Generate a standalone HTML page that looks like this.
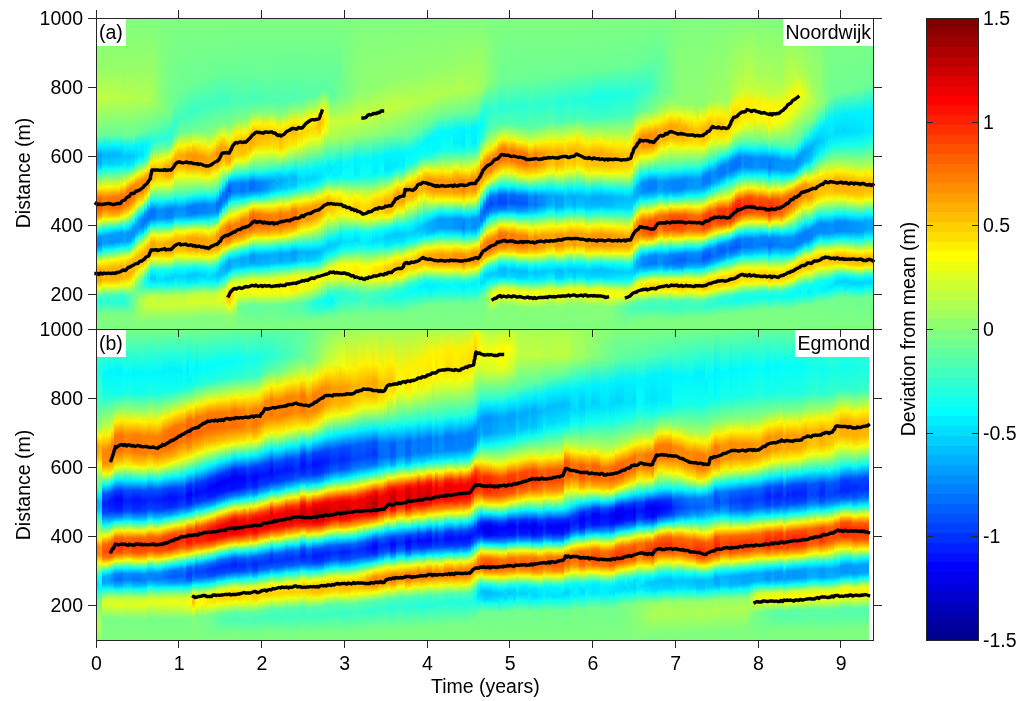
<!DOCTYPE html><html><head><meta charset="utf-8"><style>
*{margin:0;padding:0}
html,body{width:1024px;height:701px;overflow:hidden;background:#fff}
body{position:relative;font-family:"Liberation Sans",Arial,sans-serif;font-size:19.5px;color:#000}
.hm{position:absolute;display:flex}
.hm i{display:block;height:100%;flex:none}
.t{position:absolute;white-space:nowrap;line-height:1}
.yl{text-align:right;width:60px}
.xl{text-align:center;width:40px}
.box{position:absolute;background:#fff}
svg{position:absolute;left:0;top:0}
</style></head><body>
<div class="hm" style="left:96px;top:18px;width:778px;height:311px"><i style="width:3px;background:linear-gradient(#80ff7f 0px,#95ff6a 51px,#c5ff3a 80px,#6fff90 117px,#00f2ff 128px,#009eff 137px,#00aeff 146px,#07fff8 153px,#fff400 170px,#ff6b00 180px,#ff5600 190px,#ff9a00 198px,#f0ff0f 204px,#07fff8 213px,#008cff 220px,#0083ff 227px,#00d2ff 233px,#03fffc 235px,#f3ff0c 244px,#ffa400 252px,#ffa800 263px,#f7ff08 270px,#49ffb6 278px,#1fffe0 284px,#7dff82 298px,#80ff7f 311px)"></i><i style="width:3px;background:linear-gradient(#80ff7f 0px,#95ff6a 51px,#c4ff3b 80px,#69ff96 118px,#00f3ff 128px,#00a1ff 137px,#00b1ff 146px,#09fff6 153px,#fff400 170px,#ff6b00 180px,#ff5600 190px,#ff9b00 198px,#fffb00 203px,#00fdff 213px,#0091ff 219px,#0081ff 226px,#00c6ff 232px,#0dfff2 235px,#faff05 244px,#ffa300 252px,#ffa900 263px,#f6ff09 270px,#48ffb7 278px,#1effe1 284px,#7dff82 298px,#80ff7f 311px)"></i><i style="width:3px;background:linear-gradient(#80ff7f 0px,#96ff69 51px,#bdff42 80px,#68ff97 117px,#00efff 128px,#00b5ff 137px,#00d2ff 146px,#0efff1 151px,#fffa00 169px,#ff8100 179px,#ff7500 190px,#ffc600 198px,#fffd00 201px,#00f8ff 212px,#009fff 218px,#00a1ff 226px,#00fbff 232px,#fbff04 243px,#ffb500 251px,#ffbf00 262px,#f5ff0a 268px,#47ffb8 277px,#29ffd6 284px,#7cff83 296px,#80ff7f 311px)"></i><i style="width:3px;background:linear-gradient(#80ff7f 0px,#97ff68 51px,#bcff43 80px,#68ff97 117px,#00f0ff 128px,#00b7ff 137px,#00d5ff 146px,#10ffef 151px,#fffa00 169px,#ff7b00 180px,#ff7a00 191px,#ffd900 199px,#fdff02 201px,#07fff8 211px,#009dff 218px,#00a4ff 226px,#05fffa 232px,#fffe00 243px,#ffb400 251px,#ffc000 262px,#f4ff0b 268px,#45ffba 277px,#29ffd6 284px,#7cff83 296px,#80ff7f 311px)"></i><i style="width:3px;background:linear-gradient(#80ff7f 0px,#95ff6a 50px,#bdff42 80px,#68ff97 117px,#00efff 128px,#00b4ff 137px,#00d1ff 146px,#0dfff2 151px,#fff900 169px,#ff7400 180px,#ff7100 191px,#ffc100 198px,#fffd00 201px,#00feff 211px,#009cff 217px,#0097ff 225px,#06fff9 232px,#f4ff0b 242px,#ffae00 251px,#ffba00 262px,#faff05 268px,#45ffba 277px,#25ffda 284px,#7cff83 296px,#80ff7f 311px)"></i><i style="width:3px;background:linear-gradient(#80ff7f 0px,#96ff69 50px,#bdff42 79px,#67ff98 117px,#00f9ff 127px,#00b4ff 136px,#00d0ff 146px,#0dfff2 151px,#fff700 169px,#ff7600 179px,#ff6800 190px,#ffae00 197px,#ffff00 201px,#00f3ff 211px,#0095ff 217px,#0096ff 225px,#0efff1 232px,#fbff04 242px,#ffad00 250px,#ffb700 262px,#faff05 268px,#43ffbc 277px,#23ffdc 284px,#7cff83 296px,#80ff7f 311px)"></i><i style="width:3px;background:linear-gradient(#80ff7f 0px,#96ff69 50px,#bcff43 79px,#66ff99 117px,#00f8ff 127px,#00b6ff 136px,#00d5ff 146px,#12ffed 151px,#fff400 169px,#ff7500 179px,#ff6900 190px,#ffb300 197px,#f6ff09 201px,#00ffff 210px,#0099ff 216px,#0094ff 224px,#04fffb 231px,#f1ff0e 241px,#ffa900 251px,#ffb900 262px,#f5ff0a 268px,#3fffc0 277px,#23ffdc 284px,#7cff83 296px,#80ff7f 311px)"></i><i style="width:3px;background:linear-gradient(#80ff7f 0px,#97ff68 50px,#bbff44 79px,#66ff99 117px,#00f9ff 127px,#00b9ff 136px,#00d8ff 146px,#14ffeb 151px,#fff400 169px,#ff7500 179px,#ff6900 190px,#ffb600 197px,#f1ff0e 201px,#00f6ff 210px,#0096ff 216px,#0097ff 224px,#0ffff0 231px,#f9ff06 241px,#ffab00 250px,#ffb400 261px,#f1ff0e 268px,#3dffc2 277px,#22ffdd 284px,#7cff83 296px,#80ff7f 311px)"></i><i style="width:3px;background:linear-gradient(#80ff7f 0px,#97ff68 50px,#b9ff46 80px,#65ff9a 117px,#00eeff 128px,#00baff 137px,#00dbff 146px,#0cfff3 150px,#fff500 167px,#ff7500 177px,#ff6900 188px,#ffb000 195px,#ffff00 199px,#00f6ff 209px,#0096ff 215px,#0095ff 223px,#0afff5 230px,#faff05 240px,#ffad00 248px,#ffb600 260px,#f5ff0a 267px,#32ffcd 277px,#1fffe0 284px,#7cff83 296px,#80ff7f 311px)"></i><i style="width:3px;background:linear-gradient(#80ff7f 0px,#95ff6a 51px,#b4ff4b 82px,#68ff97 118px,#00efff 130px,#00c9ff 140px,#0afff5 150px,#fffc00 166px,#ff8300 176px,#ff7a00 187px,#ffcb00 195px,#feff01 198px,#00ffff 209px,#009eff 216px,#00a8ff 224px,#0afff5 230px,#f2ff0d 240px,#ffb400 250px,#ffca00 261px,#f1ff0e 267px,#30ffcf 278px,#22ffdd 285px,#7cff83 297px,#80ff7f 311px)"></i><i style="width:3px;background:linear-gradient(#80ff7f 0px,#97ff68 51px,#b7ff48 81px,#66ff99 118px,#00f4ff 129px,#00c1ff 138px,#00e5ff 147px,#1bffe4 151px,#fff300 164px,#ff7a00 173px,#ff6900 184px,#ffb400 192px,#f2ff0d 197px,#00f9ff 208px,#0094ff 215px,#009bff 223px,#00fdff 229px,#f8ff07 239px,#ffae00 247px,#ffb600 258px,#f9ff06 266px,#41ffbe 278px,#3cffc3 286px,#7eff81 297px,#80ff7f 311px)"></i><i style="width:3px;background:linear-gradient(#80ff7f 0px,#97ff68 51px,#b6ff49 81px,#66ff99 118px,#00f5ff 129px,#00c4ff 138px,#00e3ff 146px,#1affe5 150px,#fbff04 161px,#ff7e00 170px,#ff6700 180px,#ffb000 189px,#feff01 194px,#00f2ff 207px,#0092ff 214px,#009dff 222px,#04fffb 228px,#ffff00 238px,#ffb000 245px,#ffb500 256px,#f2ff0d 265px,#5dffa2 277px,#58ffa7 286px,#82ff7d 298px,#80ff7f 311px)"></i><i style="width:3px;background:linear-gradient(#80ff7f 0px,#97ff68 51px,#b5ff4a 81px,#66ff99 118px,#00f6ff 129px,#00c8ff 138px,#00ecff 146px,#29ffd6 150px,#fffc00 160px,#ff8500 168px,#ff6f00 178px,#ffb700 187px,#f4ff0b 192px,#05fffa 203px,#0095ff 210px,#0091ff 218px,#00e6ff 224px,#17ffe8 226px,#f6ff09 235px,#ffaf00 243px,#ffbd00 254px,#f7ff08 261px,#6bff94 274px,#6aff95 285px,#84ff7b 298px,#80ff7f 311px)"></i><i style="width:3px;background:linear-gradient(#80ff7f 0px,#98ff67 50px,#b1ff4e 81px,#65ff9a 116px,#00f3ff 128px,#00d6ff 138px,#09fff6 145px,#faff05 157px,#ff9200 165px,#ff8200 176px,#ffd900 185px,#f1ff0e 188px,#00fbff 199px,#0095ff 206px,#0098ff 214px,#0afff5 221px,#f3ff0c 231px,#ffb300 240px,#ffc800 250px,#f3ff0c 256px,#76ff89 267px,#6fff90 277px,#90ff6f 292px,#80ff7f 311px)"></i><i style="width:3px;background:linear-gradient(#80ff7f 0px,#98ff67 50px,#afff50 81px,#63ff9c 115px,#00f8ff 127px,#00e1ff 137px,#0afff5 143px,#c7ff38 153px,#fff900 156px,#ff9200 164px,#ff8e00 175px,#ffe400 183px,#e3ff1c 186px,#00f8ff 196px,#0099ff 202px,#008fff 210px,#00daff 216px,#1effe1 219px,#faff05 229px,#ffb400 238px,#ffd000 248px,#f0ff0f 253px,#63ff9c 264px,#5effa1 271px,#abff54 285px,#80ff7f 308px,#80ff7f 311px)"></i><i style="width:3px;background:linear-gradient(#80ff7f 0px,#97ff68 50px,#b4ff4b 80px,#66ff99 114px,#00f4ff 127px,#00e2ff 137px,#10ffef 143px,#d8ff27 153px,#ffe600 156px,#ff8900 163px,#ff8500 174px,#ffe400 182px,#dbff24 185px,#08fff7 193px,#0086ff 200px,#007aff 208px,#00c9ff 214px,#0ffff0 217px,#f5ff0a 227px,#ffa600 237px,#ffc100 246px,#f9ff06 251px,#4dffb2 262px,#3affc5 269px,#bcff43 283px,#a4ff5b 293px,#80ff7f 308px,#80ff7f 311px)"></i><i style="width:3px;background:linear-gradient(#80ff7f 0px,#98ff67 50px,#b2ff4d 81px,#64ff9b 113px,#00f5ff 127px,#00f8ff 137px,#3cffc3 143px,#fff200 153px,#ff9300 160px,#ff8a00 170px,#ffe000 178px,#e3ff1c 181px,#00fbff 190px,#008aff 196px,#0073ff 204px,#00b7ff 210px,#11ffee 214px,#f3ff0c 224px,#ffa600 234px,#ffc200 243px,#f4ff0b 248px,#33ffcc 259px,#13ffec 266px,#74ff8b 274px,#c9ff36 282px,#b7ff48 291px,#81ff7e 304px,#80ff7f 311px)"></i><i style="width:3px;background:linear-gradient(#80ff7f 0px,#98ff67 50px,#b1ff4e 81px,#62ff9d 112px,#00faff 127px,#12ffed 136px,#89ff76 144px,#fff900 150px,#ff9c00 157px,#ff9500 167px,#faff05 176px,#05fffa 186px,#0080ff 193px,#006fff 201px,#00b8ff 207px,#00faff 210px,#f3ff0c 221px,#ffa500 231px,#ffc100 240px,#f0ff0f 245px,#25ffda 255px,#00f3ff 260px,#09fff6 267px,#c0ff3f 279px,#caff35 288px,#82ff7d 302px,#80ff7f 311px)"></i><i style="width:3px;background:linear-gradient(#80ff7f 0px,#97ff68 50px,#abff54 82px,#60ff9f 111px,#18ffe7 124px,#48ffb7 132px,#fff100 145px,#ffa400 154px,#ffbd00 162px,#f9ff06 168px,#16ffe9 182px,#00d7ff 185px,#0074ff 192px,#0078ff 200px,#00daff 206px,#0ffff0 208px,#f8ff07 217px,#ffa600 225px,#ffae00 235px,#fcff03 241px,#06fff9 252px,#00ccff 260px,#05fffa 267px,#bdff42 278px,#cfff30 287px,#82ff7d 302px,#80ff7f 311px)"></i><i style="width:3px;background:linear-gradient(#80ff7f 0px,#99ff66 53px,#9cff63 88px,#5effa1 110px,#21ffde 123px,#67ff98 132px,#fff500 143px,#ffa700 153px,#ffca00 161px,#ebff14 167px,#26ffd9 181px,#00eaff 184px,#0075ff 192px,#0079ff 200px,#00daff 206px,#2affd5 209px,#f6ff09 217px,#ffa700 225px,#ffad00 235px,#fffe00 241px,#0afff5 252px,#00cdff 261px,#12ffed 268px,#bbff44 278px,#d0ff2f 287px,#81ff7e 303px,#80ff7f 311px)"></i><i style="width:3px;background:linear-gradient(#80ff7f 0px,#95ff6a 87px,#5effa1 109px,#27ffd8 122px,#62ff9d 131px,#fff600 143px,#ffb500 153px,#ffe200 162px,#e2ff1d 167px,#1affe5 182px,#00d2ff 186px,#0086ff 193px,#0099ff 201px,#02fffd 207px,#ffff00 218px,#ffb400 226px,#ffc500 236px,#f6ff09 241px,#07fff8 253px,#00deff 262px,#0bfff4 267px,#b6ff49 278px,#caff35 287px,#81ff7e 303px,#80ff7f 311px)"></i><i style="width:3px;background:linear-gradient(#80ff7f 0px,#8cff73 90px,#50ffaf 110px,#27ffd8 122px,#75ff8a 132px,#fff800 142px,#ffb200 152px,#ffd800 161px,#eeff11 166px,#28ffd7 181px,#00f1ff 184px,#0089ff 192px,#0091ff 200px,#07fff8 207px,#f2ff0d 217px,#ffb000 227px,#ffc500 236px,#f6ff09 241px,#06fff9 253px,#00deff 262px,#0cfff3 267px,#b7ff48 278px,#caff35 287px,#81ff7e 303px,#80ff7f 311px)"></i><i style="width:3px;background:linear-gradient(#80ff7f 0px,#82ff7d 94px,#27ffd8 121px,#70ff8f 131px,#fffa00 141px,#ffb300 150px,#ffc600 159px,#edff12 166px,#24ffdb 181px,#00edff 184px,#0088ff 192px,#0093ff 200px,#0cfff3 207px,#f5ff0a 217px,#ffb200 226px,#ffc500 236px,#f5ff0a 241px,#05fffa 253px,#00deff 262px,#0cfff3 267px,#b8ff47 278px,#caff35 287px,#81ff7e 303px,#80ff7f 311px)"></i><i style="width:3px;background:linear-gradient(#80ff7f 0px,#7aff85 96px,#23ffdc 120px,#5cffa3 129px,#fff900 140px,#ffa700 149px,#ffb200 158px,#f5ff0a 166px,#1fffe0 181px,#00e4ff 184px,#0081ff 191px,#007fff 199px,#00d6ff 205px,#07fff8 207px,#fdff02 217px,#ffaa00 225px,#ffb200 235px,#fdff02 241px,#0efff1 252px,#00d2ff 261px,#14ffeb 268px,#bbff44 278px,#cfff30 287px,#82ff7d 302px,#80ff7f 311px)"></i><i style="width:3px;background:linear-gradient(#80ff7f 0px,#72ff8d 97px,#25ffda 119px,#63ff9c 129px,#fffe00 139px,#ffa600 148px,#ffab00 157px,#f4ff0b 166px,#1bffe4 181px,#00ceff 185px,#0079ff 192px,#0089ff 200px,#0cfff3 207px,#fffe00 217px,#ffa800 225px,#ffb100 235px,#fdff02 241px,#0dfff2 252px,#00d2ff 261px,#04fffb 267px,#bcff43 278px,#d0ff2f 287px,#82ff7d 302px,#80ff7f 311px)"></i><i style="width:3px;background:linear-gradient(#80ff80 0px,#70ff8f 90px,#27ffd8 114px,#52ffad 124px,#fffa00 136px,#ffa000 145px,#ffa800 155px,#f7ff08 164px,#26ffd9 180px,#00edff 183px,#007eff 191px,#0084ff 199px,#00e6ff 205px,#1affe5 207px,#fdff02 216px,#ffa700 224px,#ffae00 234px,#f1ff0e 241px,#03fffc 252px,#00cfff 260px,#04fffb 267px,#bdff42 278px,#d0ff2f 287px,#82ff7d 302px,#80ff7f 311px)"></i><i style="width:3px;background:linear-gradient(#80ff80 0px,#70ff8f 81px,#33ffcc 107px,#5bffa4 118px,#fff400 131px,#ffa700 140px,#ffb800 151px,#f3ff0c 159px,#2effd1 178px,#00e9ff 182px,#0088ff 190px,#009bff 198px,#0bfff4 204px,#f1ff0e 213px,#ffad00 222px,#ffbd00 232px,#f5ff0a 238px,#04fffb 250px,#00d4ff 258px,#0ffff0 266px,#beff41 277px,#cbff34 286px,#82ff7d 301px,#80ff7f 311px)"></i><i style="width:3px;background:linear-gradient(#80ff80 0px,#6eff91 75px,#3dffc2 103px,#6bff94 116px,#fffb00 128px,#ffaa00 137px,#ffb300 148px,#f4ff0b 157px,#7eff81 171px,#1cffe3 180px,#00e9ff 183px,#008cff 191px,#00a7ff 199px,#05fffa 204px,#fffd00 214px,#ffb200 221px,#ffc100 232px,#f4ff0b 238px,#00fdff 251px,#00d5ff 259px,#10ffef 267px,#bdff42 278px,#cbff34 287px,#82ff7d 302px,#80ff7f 311px)"></i><i style="width:3px;background:linear-gradient(#7fff80 0px,#6dff92 71px,#41ffbe 100px,#70ff8f 115px,#fff500 128px,#ffa600 138px,#ffb800 149px,#f6ff09 157px,#37ffc8 178px,#00f6ff 182px,#008fff 190px,#009dff 198px,#06fff9 204px,#fffd00 214px,#ffb200 221px,#ffbf00 232px,#f7ff08 238px,#00feff 251px,#00d5ff 259px,#11ffee 267px,#beff41 278px,#cbff34 287px,#82ff7d 302px,#80ff7f 311px)"></i><i style="width:3px;background:linear-gradient(#7fff80 0px,#6cff93 70px,#41ffbe 99px,#6bff94 114px,#fff600 128px,#ffa600 138px,#ffb700 149px,#f8ff07 157px,#34ffcb 178px,#00f2ff 182px,#008eff 190px,#009dff 198px,#08fff7 204px,#fffd00 214px,#ffb200 221px,#ffbd00 232px,#faff05 238px,#00ffff 251px,#00d5ff 259px,#11ffee 267px,#beff41 278px,#cbff34 287px,#81ff7e 302px,#80ff7f 311px)"></i><i style="width:3px;background:linear-gradient(#7fff80 0px,#6eff91 67px,#3bffc4 96px,#68ff97 113px,#fff300 127px,#ff9600 137px,#ffa100 148px,#f2ff0d 158px,#34ffcb 177px,#00edff 181px,#007cff 189px,#0085ff 197px,#0bfff4 204px,#fffe00 213px,#ffa400 220px,#ffa700 231px,#fffe00 238px,#00ffff 250px,#00c9ff 257px,#00e4ff 264px,#10ffef 267px,#bfff40 277px,#d7ff28 285px,#82ff7d 301px,#80ff7f 311px)"></i><i style="width:3px;background:linear-gradient(#7fff80 0px,#6dff92 66px,#3bffc4 95px,#6aff95 113px,#fff400 127px,#ff9600 137px,#ffa000 148px,#f4ff0b 158px,#31ffce 177px,#00e9ff 181px,#007aff 189px,#0085ff 197px,#0cfff3 204px,#fffe00 213px,#ffa400 220px,#ffa500 231px,#f0ff0f 239px,#02fffd 250px,#00caff 257px,#00e4ff 264px,#10ffef 267px,#c0ff3f 277px,#d8ff27 285px,#82ff7d 301px,#80ff7f 311px)"></i><i style="width:3px;background:linear-gradient(#7fff80 0px,#6dff92 64px,#3affc5 93px,#6bff94 112px,#ebff14 124px,#ffc400 130px,#ff8d00 139px,#ffa800 149px,#efff10 158px,#31ffce 176px,#00e9ff 180px,#0077ff 188px,#007eff 196px,#00e6ff 202px,#1effe1 204px,#f8ff07 212px,#ff9e00 220px,#ffa300 231px,#ffff00 238px,#09fff6 249px,#00c7ff 257px,#00ebff 264px,#30ffcf 268px,#bfff40 276px,#daff25 284px,#82ff7d 300px,#80ff7f 311px)"></i><i style="width:3px;background:linear-gradient(#7fff80 0px,#6cff93 63px,#3affc5 92px,#6cff93 112px,#e5ff1a 124px,#ffe200 128px,#ff9300 137px,#ff9d00 148px,#f6ff09 158px,#2effd1 176px,#00e5ff 180px,#0075ff 188px,#007eff 196px,#00e7ff 202px,#1dffe2 204px,#f5ff0a 212px,#ff9f00 220px,#ffa000 231px,#f1ff0e 239px,#00fbff 250px,#00c8ff 257px,#00ebff 264px,#30ffcf 268px,#c0ff3f 276px,#dbff24 284px,#82ff7d 300px,#80ff7f 311px)"></i><i style="width:3px;background:linear-gradient(#7fff80 0px,#6bff94 62px,#3dffc2 91px,#70ff8f 112px,#e0ff1f 124px,#ffde00 129px,#ff9700 139px,#ffb100 150px,#f5ff0a 158px,#28ffd7 176px,#00f1ff 179px,#0081ff 187px,#0083ff 195px,#00dfff 201px,#11ffee 203px,#f5ff0a 212px,#ffa100 221px,#ffae00 232px,#feff01 238px,#00feff 250px,#00cfff 257px,#00f7ff 264px,#c2ff3d 276px,#d6ff29 284px,#83ff7c 299px,#80ff7f 311px)"></i><i style="width:3px;background:linear-gradient(#7fff80 0px,#6dff92 60px,#3dffc2 89px,#71ff8e 112px,#d8ff27 124px,#fff200 128px,#ff9b00 138px,#ffa500 149px,#f1ff0e 159px,#25ffda 176px,#00edff 179px,#007fff 187px,#0083ff 195px,#00e0ff 201px,#11ffee 203px,#f2ff0d 212px,#ffa200 221px,#ffab00 232px,#f0ff0f 239px,#02fffd 250px,#00cfff 258px,#07fff8 265px,#c3ff3c 276px,#d7ff28 284px,#83ff7c 299px,#80ff7f 311px)"></i><i style="width:3px;background:linear-gradient(#7fff80 0px,#6cff93 59px,#3dffc2 88px,#77ff88 113px,#ddff22 125px,#ffe200 130px,#ff9800 140px,#ffae00 151px,#edff12 160px,#22ffdd 176px,#00eaff 179px,#007eff 187px,#0084ff 195px,#00e1ff 201px,#12ffed 203px,#fffe00 213px,#ffa400 221px,#ffa800 232px,#f6ff09 239px,#06fff9 250px,#00d0ff 258px,#08fff7 265px,#c4ff3b 276px,#d7ff28 284px,#83ff7c 299px,#80ff7f 311px)"></i><i style="width:3px;background:linear-gradient(#7fff80 0px,#6bff94 59px,#40ffbf 88px,#84ff7b 116px,#fff500 130px,#ffa400 140px,#ffb600 152px,#f6ff09 160px,#2bffd4 176px,#00f4ff 179px,#0089ff 187px,#008bff 195px,#00dfff 201px,#25ffda 204px,#fffd00 214px,#ffab00 222px,#ffb200 233px,#ffff00 239px,#07fff8 251px,#00dbff 260px,#07fff8 265px,#beff41 276px,#d5ff2a 284px,#82ff7d 300px,#80ff7f 311px)"></i><i style="width:3px;background:linear-gradient(#7fff80 0px,#6aff95 58px,#40ffbf 87px,#82ff7d 114px,#fff600 128px,#ffa400 138px,#ffb500 150px,#f8ff07 158px,#25ffda 176px,#00efff 179px,#0088ff 187px,#008fff 195px,#02fffd 202px,#f1ff0e 212px,#ffa500 222px,#ffb100 232px,#f0ff0f 239px,#0bfff4 250px,#00d7ff 259px,#07fff8 265px,#bfff40 276px,#d5ff2a 284px,#82ff7d 300px,#80ff7f 311px)"></i><i style="width:3px;background:linear-gradient(#7fff80 0px,#6cff93 56px,#40ffbf 86px,#80ff7f 112px,#fff800 126px,#ffa400 136px,#ffb400 148px,#f9ff06 156px,#30ffcf 175px,#00ebff 179px,#0087ff 187px,#0094ff 195px,#00f8ff 201px,#fffb00 212px,#ffa700 220px,#ffb100 231px,#f3ff0c 238px,#01fffe 250px,#00d4ff 258px,#07fff8 265px,#c0ff3f 276px,#d6ff29 284px,#82ff7d 300px,#80ff7f 311px)"></i><i style="width:3px;background:linear-gradient(#7fff80 0px,#6bff94 54px,#3affc5 83px,#74ff8b 108px,#deff21 120px,#ffdd00 125px,#ff8c00 135px,#ffa100 146px,#f7ff08 155px,#31ffce 173px,#00e7ff 177px,#0072ff 185px,#0078ff 193px,#00dfff 199px,#16ffe9 201px,#f5ff0a 209px,#ff9600 217px,#ff9200 228px,#ffe100 235px,#e1ff1e 238px,#00fdff 248px,#00c2ff 255px,#00daff 262px,#1affe5 266px,#c5ff3a 275px,#e1ff1e 283px,#83ff7c 299px,#80ff7f 311px)"></i><i style="width:3px;background:linear-gradient(#7fff80 0px,#6aff95 54px,#3bffc4 83px,#6fff90 105px,#ddff22 117px,#ffdf00 122px,#ff9300 131px,#ff9f00 142px,#f3ff0c 152px,#23ffdc 169px,#00e8ff 172px,#006fff 180px,#006fff 188px,#00ceff 194px,#03fffc 196px,#faff05 205px,#ff8e00 213px,#ff8200 224px,#ffca00 231px,#f9ff06 234px,#07fff8 244px,#00b8ff 251px,#00caff 259px,#03fffc 263px,#d1ff2e 274px,#eaff15 282px,#84ff7b 298px,#80ff7f 311px)"></i><i style="width:3px;background:linear-gradient(#7fff80 0px,#6bff94 54px,#40ffbf 83px,#71ff8e 104px,#ecff13 117px,#ffc200 124px,#ff9d00 134px,#ffcb00 144px,#edff12 150px,#21ffde 165px,#00e6ff 168px,#007cff 175px,#0073ff 183px,#00bfff 189px,#06fff9 192px,#ffff00 202px,#ff9100 210px,#ff8100 221px,#ffc400 228px,#fffd00 231px,#00f9ff 242px,#00b8ff 248px,#00c3ff 256px,#14ffeb 262px,#d1ff2e 273px,#eaff15 282px,#84ff7b 298px,#80ff7f 311px)"></i><i style="width:3px;background:linear-gradient(#7fff80 0px,#6aff95 54px,#3effc1 83px,#74ff8b 106px,#e0ff1f 118px,#ffde00 123px,#ff9600 133px,#ffb000 144px,#faff05 151px,#17ffe8 162px,#00e5ff 164px,#006bff 171px,#005eff 179px,#00a9ff 185px,#06fff9 189px,#fffc00 200px,#ff7c00 209px,#ff6400 219px,#ffa200 226px,#fff700 230px,#0afff5 239px,#00a5ff 246px,#00abff 253px,#00ffff 259px,#fbff04 272px,#ffda00 280px,#efff10 288px,#8fff70 298px,#80ff7f 311px)"></i><i style="width:3px;background:linear-gradient(#7fff80 0px,#6bff94 53px,#3fffc0 82px,#7bff84 108px,#e5ff1a 120px,#ffe700 124px,#ff9b00 134px,#ffac00 144px,#fffb00 150px,#2fffd0 158px,#00f3ff 160px,#0074ff 166px,#0057ff 173px,#008dff 179px,#0afff5 185px,#fffa00 198px,#ff6e00 208px,#ff5a00 218px,#ff9600 224px,#efff10 229px,#00fdff 237px,#00a2ff 243px,#00a3ff 250px,#00feff 256px,#f5ff0a 268px,#ffbc00 276px,#ffd200 284px,#edff12 289px,#92ff6d 298px,#80ff7f 311px)"></i><i style="width:3px;background:linear-gradient(#7fff80 0px,#6aff95 54px,#47ffb8 84px,#7fff80 105px,#fff500 119px,#ffb200 129px,#ffc700 140px,#f7ff08 146px,#32ffcd 156px,#00ebff 159px,#007fff 166px,#007aff 174px,#00d5ff 181px,#13ffec 184px,#fcff03 197px,#ff7e00 208px,#ff7900 218px,#ffd100 225px,#ffff00 227px,#0bfff4 236px,#00b1ff 243px,#00c6ff 250px,#08fff7 254px,#e8ff17 265px,#ffe100 270px,#ffd900 279px,#f5ff0a 285px,#90ff6f 296px,#80ff7f 311px)"></i><i style="width:3px;background:linear-gradient(#7fff80 0px,#6aff95 54px,#49ffb6 84px,#7eff81 102px,#ffef00 116px,#ffb200 126px,#ffcd00 137px,#f5ff0a 143px,#31ffce 155px,#00f2ff 158px,#0085ff 165px,#007dff 174px,#00ddff 181px,#1cffe3 184px,#fffe00 196px,#ff8200 206px,#ff7a00 217px,#ffd000 224px,#fffc00 226px,#00faff 236px,#00b1ff 242px,#00c1ff 249px,#00feff 253px,#d8ff27 264px,#fffb00 271px,#ebff14 281px,#88ff77 297px,#80ff7f 311px)"></i><i style="width:3px;background:linear-gradient(#7fff80 0px,#69ff96 54px,#4bffb4 85px,#81ff7e 102px,#fff700 115px,#ffb400 125px,#ffc800 136px,#f1ff0e 143px,#2dffd2 155px,#00eeff 158px,#0084ff 165px,#0080ff 174px,#00e5ff 181px,#27ffd8 184px,#fffb00 195px,#ff8000 205px,#ff7b00 216px,#ffd000 223px,#ebff14 226px,#00ffff 235px,#00b1ff 241px,#00bbff 248px,#07fff8 253px,#cfff30 263px,#fdff02 271px,#d7ff28 278px,#6aff95 289px,#80ff7f 311px)"></i><i style="width:3px;background:linear-gradient(#7fff80 0px,#69ff96 53px,#49ffb6 83px,#7cff83 101px,#ffef00 115px,#ffad00 125px,#ffc400 136px,#f2ff0d 143px,#26ffd9 155px,#00e5ff 158px,#007aff 165px,#0073ff 173px,#00beff 179px,#00ffff 182px,#f9ff06 193px,#ff7a00 203px,#ff6900 213px,#ffa600 220px,#f1ff0e 225px,#01fffe 234px,#00a9ff 240px,#00aeff 247px,#0bfff4 253px,#d9ff26 263px,#fffb00 270px,#e4ff1b 277px,#6bff94 288px,#80ff7f 311px)"></i><i style="width:3px;background:linear-gradient(#7fff80 0px,#69ff96 53px,#49ffb6 83px,#7eff81 101px,#fff800 114px,#ffaf00 124px,#ffc700 136px,#eeff11 143px,#22ffdd 155px,#00e1ff 158px,#007bff 165px,#0077ff 173px,#00c7ff 179px,#0dfff2 182px,#fbff04 192px,#ff7f00 201px,#ff6700 211px,#ffa800 219px,#f2ff0d 224px,#07fff8 233px,#00a5ff 240px,#00b2ff 247px,#00feff 252px,#d1ff2e 262px,#fffa00 269px,#edff12 276px,#67ff98 288px,#80ff7f 311px)"></i><i style="width:3px;background:linear-gradient(#7fff80 0px,#68ff97 54px,#4dffb2 85px,#85ff7a 101px,#fff000 114px,#ffb700 124px,#ffd400 135px,#f0ff0f 141px,#34ffcb 154px,#00e6ff 158px,#0087ff 165px,#0086ff 173px,#00d6ff 179px,#03fffc 181px,#f4ff0b 191px,#ff8200 201px,#ff7b00 212px,#ffd200 220px,#f1ff0e 223px,#02fffd 233px,#00acff 240px,#00bdff 247px,#0afff5 252px,#d2ff2d 262px,#fffe00 270px,#deff21 277px,#65ff9a 288px,#80ff7f 311px)"></i><i style="width:3px;background:linear-gradient(#7fff80 0px,#69ff96 52px,#46ffb9 82px,#7bff84 97px,#fff600 109px,#ffa500 119px,#ffb600 130px,#f8ff07 138px,#29ffd6 153px,#00edff 156px,#006eff 164px,#006bff 172px,#00c6ff 178px,#00f9ff 180px,#fbff04 189px,#ff7500 197px,#ff5300 206px,#ff8100 214px,#fffc00 221px,#05fffa 231px,#0098ff 238px,#009eff 245px,#00faff 251px,#dbff24 261px,#fff500 266px,#f7ff08 275px,#62ff9d 287px,#6cff93 295px,#80ff7f 311px)"></i><i style="width:3px;background:linear-gradient(#7fff80 0px,#69ff96 52px,#46ffb9 81px,#74ff8b 94px,#fffa00 106px,#ffa700 116px,#ffb700 127px,#f8ff07 135px,#33ffcc 152px,#00e7ff 156px,#006fff 164px,#0072ff 172px,#00d8ff 178px,#10ffef 180px,#fffc00 188px,#ff7800 195px,#ff5300 204px,#ff7e00 212px,#f9ff06 220px,#00f4ff 231px,#009bff 237px,#009aff 244px,#00ecff 250px,#1bffe4 252px,#e1ff1e 261px,#fff300 266px,#f6ff09 275px,#65ff9a 286px,#60ff9f 293px,#80ff7f 307px,#80ff7f 311px)"></i><i style="width:3px;background:linear-gradient(#7fff80 0px,#69ff96 53px,#4affb5 82px,#7aff85 94px,#fff600 106px,#ffb100 116px,#ffc900 127px,#f0ff0f 134px,#2effd1 153px,#00e6ff 157px,#007aff 165px,#0086ff 173px,#0efff1 180px,#f7ff08 188px,#ff7b00 196px,#ff6400 206px,#ffa300 214px,#f5ff0a 220px,#01fffe 231px,#00a1ff 238px,#00aeff 246px,#00fcff 251px,#d6ff29 261px,#fff700 267px,#efff10 276px,#66ff99 287px,#63ff9c 294px,#80ff7f 309px,#80ff7f 311px)"></i><i style="width:3px;background:linear-gradient(#7fff80 0px,#69ff96 53px,#4affb5 82px,#83ff7c 95px,#fff600 106px,#ffb200 116px,#ffca00 127px,#efff10 134px,#3bffc4 152px,#00f6ff 156px,#0081ff 164px,#0080ff 172px,#00dbff 178px,#10ffef 180px,#f6ff09 188px,#ff7c00 196px,#ff6300 206px,#ffa000 214px,#f7ff08 220px,#00fdff 231px,#00a0ff 238px,#00b0ff 246px,#01fffe 251px,#d9ff26 261px,#fff800 266px,#f0ff0f 276px,#67ff98 287px,#63ff9c 294px,#80ff7f 309px,#80ff7f 311px)"></i><i style="width:3px;background:linear-gradient(#7fff80 0px,#6aff95 53px,#4cffb3 83px,#83ff7c 95px,#ffef00 107px,#ffb500 117px,#ffd600 128px,#edff12 134px,#37ffc8 152px,#00f3ff 156px,#0088ff 164px,#008dff 172px,#00eaff 178px,#1dffe2 180px,#f6ff09 188px,#ff8300 196px,#ff6800 206px,#ffa200 214px,#f7ff08 220px,#00fcff 231px,#00a3ff 238px,#00b5ff 246px,#07fff8 251px,#daff25 261px,#fff600 267px,#f0ff0f 276px,#68ff97 287px,#64ff9b 294px,#80ff7f 310px,#80ff7f 311px)"></i><i style="width:3px;background:linear-gradient(#7fff80 0px,#6aff95 53px,#4dffb2 83px,#83ff7c 95px,#fff000 107px,#ffb700 117px,#ffd700 128px,#ecff13 134px,#32ffcd 152px,#00efff 156px,#008dff 164px,#0097ff 172px,#0efff1 179px,#f6ff09 188px,#ff7d00 197px,#ff6e00 208px,#ffbc00 216px,#f9ff06 220px,#00fbff 231px,#00a9ff 237px,#00aeff 245px,#09fff6 251px,#dbff24 261px,#fff500 267px,#f1ff0e 276px,#63ff9c 288px,#73ff8c 297px,#80ff7f 311px)"></i><i style="width:3px;background:linear-gradient(#7fff80 0px,#6aff95 53px,#4dffb2 83px,#83ff7c 95px,#fff100 107px,#ffb800 117px,#ffd700 128px,#ecff13 134px,#2cffd3 152px,#00e9ff 156px,#0092ff 164px,#00a1ff 172px,#03fffc 178px,#f8ff07 188px,#ff7e00 197px,#ff6a00 207px,#ffaa00 215px,#fbff04 220px,#00f8ff 231px,#00a7ff 237px,#00afff 245px,#0dfff2 251px,#deff21 261px,#fff700 266px,#f3ff0c 276px,#64ff9b 288px,#73ff8c 297px,#80ff7f 311px)"></i><i style="width:3px;background:linear-gradient(#7fff80 0px,#69ff96 53px,#4fffb0 83px,#88ff77 95px,#fffa00 106px,#ffbf00 116px,#ffda00 127px,#edff12 133px,#2fffd0 151px,#00efff 155px,#009fff 163px,#00aeff 171px,#0afff5 177px,#fffd00 188px,#ff8300 197px,#ff7600 208px,#ffc500 216px,#edff12 220px,#02fffd 230px,#00a9ff 237px,#00bbff 245px,#0bfff4 250px,#d8ff27 260px,#fff700 266px,#ebff14 276px,#68ff97 287px,#6dff92 295px,#80ff7f 311px)"></i><i style="width:3px;background:linear-gradient(#7fff80 0px,#69ff96 53px,#4fffb0 83px,#8aff75 96px,#fff900 107px,#ffbf00 117px,#ffda00 128px,#ecff13 134px,#2affd5 151px,#00ebff 155px,#00a4ff 163px,#00b9ff 171px,#03fffc 176px,#fffb00 188px,#ff8300 197px,#ff7500 208px,#ffc500 216px,#fffc00 219px,#00feff 230px,#00adff 236px,#00b4ff 244px,#0ffff0 250px,#dbff24 260px,#fff600 266px,#edff12 276px,#69ff96 287px,#6dff92 295px,#80ff7f 311px)"></i><i style="width:3px;background:linear-gradient(#7fff80 0px,#69ff96 53px,#4fffb0 83px,#83ff7c 96px,#fff000 109px,#ffbf00 119px,#ffe200 130px,#edff12 135px,#17ffe8 152px,#00cfff 157px,#00aaff 165px,#00d1ff 172px,#00ffff 175px,#fcff03 187px,#ff8600 196px,#ff7400 207px,#ffbd00 215px,#f7ff08 219px,#00f6ff 230px,#00abff 236px,#00b6ff 244px,#01fffe 249px,#dfff20 260px,#fff400 266px,#f6ff09 275px,#68ff97 287px,#6dff92 295px,#80ff7f 311px)"></i><i style="width:3px;background:linear-gradient(#7fff80 0px,#69ff96 52px,#4affb5 82px,#7cff83 96px,#fff000 109px,#ffb200 119px,#ffcd00 130px,#f5ff0a 136px,#00faff 153px,#00a4ff 161px,#00b9ff 170px,#06fff9 175px,#fdff02 186px,#ff7700 195px,#ff5c00 205px,#ff9800 213px,#f5ff0a 219px,#00f8ff 229px,#009fff 235px,#00a1ff 243px,#00ffff 249px,#dfff20 259px,#ffee00 264px,#fff800 274px,#62ff9d 287px,#6aff95 295px,#80ff7f 311px)"></i><i style="width:3px;background:linear-gradient(#7fff80 0px,#68ff97 53px,#4effb1 83px,#83ff7c 96px,#fff700 108px,#ffbe00 118px,#ffda00 129px,#ecff13 135px,#00f1ff 154px,#00b1ff 162px,#00c7ff 170px,#0ffff0 175px,#fff300 187px,#ff7d00 196px,#ff7300 207px,#ffc600 215px,#fffd00 218px,#01fffe 229px,#00a5ff 236px,#00b5ff 244px,#06fff9 249px,#dbff24 259px,#fff500 264px,#f8ff07 275px,#62ff9d 287px,#69ff96 295px,#80ff7f 311px)"></i><i style="width:3px;background:linear-gradient(#7fff80 0px,#68ff97 53px,#4fffb0 83px,#89ff76 95px,#fff000 107px,#ffc000 117px,#ffe400 128px,#eaff15 133px,#00fbff 153px,#00b7ff 161px,#00ceff 170px,#17ffe8 175px,#fdff02 186px,#ff8500 195px,#ff7500 206px,#ffbf00 214px,#f7ff08 218px,#00fbff 229px,#00a5ff 236px,#00b9ff 244px,#0cfff3 249px,#dfff20 259px,#fff300 264px,#f5ff0a 275px,#66ff99 286px,#5dffa2 293px,#80ff7f 307px,#80ff7f 311px)"></i><i style="width:3px;background:linear-gradient(#7fff80 0px,#68ff97 53px,#50ffaf 82px,#8fff70 94px,#fff300 105px,#ffc300 115px,#ffe800 126px,#ddff22 132px,#14ffeb 151px,#00cfff 157px,#00c0ff 167px,#0efff1 174px,#fff800 186px,#ff8300 195px,#ff7b00 206px,#ffcb00 214px,#ffff00 217px,#00f6ff 229px,#00a5ff 236px,#00bdff 244px,#00fdff 248px,#e4ff1b 259px,#ffef00 265px,#f2ff0d 275px,#62ff9d 286px,#5cffa3 293px,#7fff80 306px,#80ff7f 311px)"></i><i style="width:3px;background:linear-gradient(#7fff80 0px,#69ff96 51px,#4bffb4 80px,#89ff76 92px,#fff100 103px,#ffb900 113px,#ffdb00 124px,#e8ff17 130px,#0dfff2 150px,#00b2ff 160px,#00ceff 169px,#0afff5 173px,#fffd00 184px,#ff8000 192px,#ff6400 202px,#ff9c00 210px,#feff01 216px,#03fffc 227px,#009cff 234px,#00a5ff 242px,#0bfff4 248px,#dbff24 257px,#fff300 261px,#ffeb00 271px,#e1ff1e 276px,#5fffa0 285px,#57ffa8 292px,#7fff80 304px,#80ff7f 311px)"></i><i style="width:3px;background:linear-gradient(#7fff80 0px,#69ff96 51px,#4cffb3 80px,#8bff74 92px,#fff100 103px,#ffbb00 113px,#ffdf00 124px,#e4ff1b 130px,#00f0ff 152px,#00b7ff 160px,#00cdff 168px,#16ffe9 173px,#f9ff06 183px,#ff7d00 192px,#ff6a00 202px,#ffaa00 210px,#fffd00 215px,#00fbff 227px,#009cff 234px,#00aaff 242px,#00faff 247px,#e0ff1f 257px,#fff100 261px,#ffed00 271px,#dcff23 276px,#5cffa3 285px,#56ffa9 292px,#7fff80 304px,#80ff7f 311px)"></i><i style="width:3px;background:linear-gradient(#7fff80 0px,#67ff98 53px,#55ffaa 82px,#9dff62 94px,#fff700 104px,#ffd100 115px,#f3ff0c 127px,#00f5ff 153px,#00cfff 162px,#09fff6 171px,#fff700 184px,#ff9600 192px,#ff8f00 203px,#ffe700 212px,#d8ff27 216px,#00f5ff 228px,#00b0ff 235px,#00cdff 243px,#0efff1 247px,#daff25 257px,#fff600 263px,#f1ff0e 273px,#5cffa3 285px,#5effa1 293px,#7fff80 306px,#80ff7f 311px)"></i><i style="width:3px;background:linear-gradient(#7fff80 0px,#67ff98 53px,#53ffac 81px,#94ff6b 93px,#fff800 104px,#ffd300 116px,#f0ff0f 127px,#00f3ff 153px,#00d5ff 163px,#06fff9 170px,#fffe00 183px,#ff9a00 191px,#ff9200 202px,#faff05 213px,#03fffc 227px,#00b4ff 234px,#00c9ff 242px,#04fffb 246px,#e0ff1f 257px,#fff600 263px,#f0ff0f 272px,#53ffac 285px,#5affa5 293px,#7fff80 305px,#7fff80 311px)"></i><i style="width:3px;background:linear-gradient(#7fff80 0px,#69ff96 52px,#55ffaa 80px,#9dff62 92px,#fffa00 102px,#ffd700 114px,#f4ff0b 124px,#00f6ff 152px,#00d7ff 162px,#11ffee 170px,#fbff04 182px,#ff9e00 190px,#ff9600 201px,#f8ff07 212px,#00fdff 227px,#00b5ff 234px,#00cfff 242px,#0dfff2 246px,#d8ff27 256px,#fff900 262px,#edff12 271px,#46ffb9 285px,#55ffaa 293px,#7fff80 304px,#7fff80 311px)"></i><i style="width:3px;background:linear-gradient(#7fff80 0px,#68ff97 53px,#54ffab 79px,#a2ff5d 91px,#fff300 101px,#ffd400 113px,#efff10 123px,#00f3ff 152px,#00d2ff 162px,#0bfff4 170px,#ffff00 182px,#ff9600 190px,#ff9000 201px,#f9ff06 212px,#00f2ff 228px,#00adff 235px,#00cfff 243px,#00ffff 246px,#e2ff1d 257px,#fff600 262px,#edff12 271px,#3bffc4 285px,#40ffbf 292px,#7dff82 303px,#7fff80 311px)"></i><i style="width:3px;background:linear-gradient(#7fff80 0px,#68ff97 53px,#56ffa9 78px,#a7ff58 90px,#fff400 100px,#ffda00 112px,#eeff11 121px,#0cfff3 149px,#00d6ff 161px,#0bfff4 169px,#fff200 182px,#ff9600 190px,#ff9c00 201px,#f5ff0a 211px,#01fffe 227px,#00b3ff 234px,#00cdff 242px,#0bfff4 246px,#d9ff26 256px,#fff800 262px,#e7ff18 270px,#2fffd0 285px,#3bffc4 292px,#7cff83 302px,#7fff80 311px)"></i><i style="width:3px;background:linear-gradient(#7fff80 0px,#69ff96 52px,#54ffab 77px,#a0ff5f 89px,#fff800 99px,#ffd800 111px,#ecff13 121px,#00f8ff 150px,#00d4ff 160px,#08fff7 168px,#fff300 181px,#ff9a00 188px,#ff9600 199px,#f3ff0c 210px,#00f8ff 227px,#00b0ff 234px,#00d1ff 242px,#00ffff 245px,#e1ff1e 256px,#fff700 262px,#e5ff1a 269px,#26ffd9 284px,#2effd1 291px,#7cff83 302px,#7fff80 311px)"></i><i style="width:3px;background:linear-gradient(#7fff80 0px,#69ff96 52px,#56ffa9 77px,#9eff61 88px,#fff400 98px,#ffcd00 110px,#eeff11 121px,#00f4ff 150px,#00d9ff 160px,#08fff7 167px,#deff21 178px,#ffe600 181px,#ff9900 188px,#ffa100 199px,#f0ff0f 209px,#00f6ff 227px,#00b2ff 234px,#00daff 242px,#0bfff4 245px,#e4ff1b 256px,#fffd00 263px,#b2ff4d 272px,#1affe5 284px,#34ffcb 292px,#7cff83 302px,#7fff80 311px)"></i><i style="width:3px;background:linear-gradient(#7fff80 0px,#69ff96 52px,#58ffa7 75px,#a7ff58 86px,#fff600 94px,#ffbb00 104px,#ffd400 114px,#f0ff0f 120px,#00f8ff 149px,#00dcff 159px,#09fff6 166px,#c6ff39 176px,#fffb00 179px,#ffa300 186px,#ff9b00 196px,#f7ff08 207px,#00f4ff 227px,#00b5ff 234px,#00e3ff 242px,#15ffea 245px,#dbff24 255px,#feff01 262px,#adff52 271px,#14ffeb 283px,#20ffdf 290px,#7aff85 301px,#7fff80 311px)"></i><i style="width:3px;background:linear-gradient(#7fff80 0px,#68ff97 52px,#5dffa2 71px,#c0ff3f 84px,#fff700 91px,#ffcb00 103px,#f6ff09 114px,#73ff8c 133px,#00f4ff 149px,#00e9ff 159px,#1affe5 165px,#fff300 178px,#ffa800 186px,#ffb900 196px,#f2ff0d 204px,#00f9ff 225px,#00bfff 232px,#00edff 240px,#31ffce 244px,#daff25 253px,#fbff04 260px,#a6ff59 269px,#0efff1 282px,#26ffd9 290px,#7aff85 300px,#7fff80 311px)"></i><i style="width:3px;background:linear-gradient(#7fff80 0px,#68ff97 52px,#5effa1 73px,#d2ff2d 89px,#fff400 98px,#fffb00 110px,#1effe1 143px,#00edff 150px,#00faff 160px,#52ffad 167px,#fcff03 176px,#ffb400 184px,#ffc200 194px,#f7ff08 201px,#00f1ff 224px,#00c4ff 231px,#0cfff3 240px,#e3ff1c 252px,#faff05 259px,#8eff71 269px,#03fffc 282px,#25ffda 290px,#7aff85 300px,#7fff80 311px)"></i><i style="width:3px;background:linear-gradient(#7fff80 0px,#69ff96 50px,#57ffa8 73px,#e2ff1d 101px,#c7ff38 115px,#2cffd3 139px,#00f3ff 146px,#00eaff 155px,#1affe5 161px,#fffb00 174px,#ffb300 182px,#ffc100 191px,#f7ff08 198px,#00faff 220px,#00c1ff 227px,#00ecff 235px,#2effd1 239px,#e8ff17 249px,#fffb00 256px,#bcff43 263px,#0cfff3 277px,#08fff7 286px,#77ff88 298px,#7fff80 311px)"></i><i style="width:3px;background:linear-gradient(#7fff80 0px,#68ff97 53px,#5affa5 77px,#c9ff36 105px,#a3ff5c 122px,#1cffe3 142px,#00e8ff 150px,#0afff5 161px,#abff54 171px,#fffc00 176px,#ffbb00 184px,#ffcc00 193px,#eeff11 200px,#00f3ff 221px,#00c6ff 228px,#09fff6 237px,#e5ff1a 249px,#fff700 255px,#e4ff1b 261px,#2affd5 275px,#00f9ff 283px,#3affc5 292px,#7cff83 301px,#7fff80 311px)"></i><i style="width:3px;background:linear-gradient(#7fff80 0px,#69ff96 54px,#62ff9d 78px,#c8ff37 104px,#a9ff56 120px,#26ffd9 140px,#00f2ff 147px,#00f0ff 157px,#17ffe8 162px,#ffff00 176px,#ffc000 185px,#ffe300 195px,#e8ff17 200px,#00f9ff 219px,#00c9ff 227px,#0efff1 236px,#eaff15 248px,#fff500 256px,#d5ff2a 262px,#33ffcc 274px,#0cfff3 283px,#7dff82 301px,#7fff80 311px)"></i><i style="width:3px;background:linear-gradient(#7fff80 0px,#67ff98 57px,#6bff94 79px,#c8ff37 104px,#a2ff5d 121px,#00f5ff 146px,#00f2ff 157px,#26ffd9 163px,#fbff04 176px,#ffc600 186px,#fff300 196px,#8cff73 207px,#00f5ff 218px,#00cdff 226px,#05fffa 234px,#eeff11 247px,#fff900 257px,#b5ff4a 264px,#32ffcd 274px,#1dffe2 283px,#7cff83 300px,#7fff80 311px)"></i><i style="width:3px;background:linear-gradient(#7fff80 0px,#65ff9a 59px,#79ff86 80px,#caff35 102px,#a8ff57 118px,#00f2ff 144px,#00edff 155px,#13ffec 160px,#feff01 175px,#ffca00 184px,#fff000 194px,#ccff33 200px,#00f6ff 215px,#00ccff 223px,#0cfff3 232px,#f6ff09 245px,#fff100 255px,#ddff22 260px,#34ffcb 272px,#26ffd9 281px,#7cff83 297px,#7fff80 311px)"></i><i style="width:3px;background:linear-gradient(#7fff80 0px,#72ff8d 77px,#c5ff3a 104px,#96ff69 122px,#00f9ff 146px,#0efff1 160px,#fdff02 178px,#ffe000 189px,#f2ff0d 197px,#00faff 216px,#00e1ff 225px,#08fff7 231px,#f3ff0c 246px,#f8ff07 258px,#34ffcb 274px,#2fffd0 283px,#7dff82 299px,#7fff80 311px)"></i><i style="width:3px;background:linear-gradient(#7fff80 0px,#77ff88 77px,#c5ff3a 103px,#98ff67 121px,#00f7ff 146px,#0cfff3 160px,#abff54 172px,#fffe00 179px,#ffe100 190px,#edff12 198px,#01fffe 215px,#00e2ff 224px,#0ffff0 231px,#f4ff0b 246px,#f3ff0c 259px,#38ffc7 274px,#2fffd0 283px,#7dff82 299px,#7fff80 311px)"></i><i style="width:3px;background:linear-gradient(#7fff80 0px,#7fff80 77px,#c5ff3a 102px,#98ff67 120px,#00f7ff 145px,#0dfff2 160px,#bbff44 173px,#fff400 180px,#ffe200 192px,#f4ff0b 198px,#00fcff 215px,#00e2ff 224px,#13ffec 231px,#f6ff09 246px,#fff600 256px,#d3ff2c 262px,#3affc5 274px,#32ffcd 283px,#7cff83 298px,#7fff80 311px)"></i><i style="width:3px;background:linear-gradient(#7fff80 0px,#82ff7d 76px,#c6ff39 102px,#90ff6f 121px,#00f9ff 144px,#0bfff4 160px,#a4ff5b 172px,#fff700 180px,#ffda00 191px,#f4ff0b 199px,#00ffff 215px,#00e2ff 224px,#11ffee 231px,#f2ff0d 246px,#fff800 257px,#bfff40 264px,#41ffbe 274px,#2fffd0 282px,#7dff82 299px,#7fff80 311px)"></i><i style="width:3px;background:linear-gradient(#7fff80 0px,#89ff76 75px,#cbff34 99px,#9dff62 117px,#00f5ff 141px,#00ecff 155px,#16ffe9 161px,#fffa00 178px,#ffca00 188px,#fff000 197px,#c7ff38 202px,#02fffd 213px,#00d7ff 222px,#0efff1 230px,#f8ff07 245px,#ffe500 254px,#f0ff0f 260px,#42ffbd 273px,#2dffd2 281px,#7cff83 297px,#7fff80 311px)"></i><i style="width:3px;background:linear-gradient(#7fff80 0px,#8cff73 74px,#caff35 99px,#94ff6b 118px,#00f6ff 141px,#00f5ff 156px,#39ffc6 164px,#fffa00 179px,#ffcd00 189px,#fff500 198px,#acff53 204px,#00ffff 214px,#00deff 223px,#11ffee 230px,#f9ff06 246px,#ffeb00 255px,#e7ff18 261px,#43ffbc 274px,#35ffca 282px,#7dff82 297px,#7fff80 311px)"></i><i style="width:3px;background:linear-gradient(#80ff80 0px,#8fff70 74px,#c6ff39 99px,#8bff74 119px,#00f9ff 142px,#10ffef 159px,#c7ff38 175px,#fff700 181px,#ffd700 192px,#f2ff0d 200px,#0dfff2 214px,#00efff 225px,#25ffda 231px,#f5ff0a 247px,#fffb00 257px,#a8ff57 266px,#3cffc3 277px,#58ffa7 287px,#7fff80 302px,#7fff80 311px)"></i><i style="width:3px;background:linear-gradient(#80ff80 0px,#90ff6f 74px,#c5ff3a 98px,#8dff72 118px,#00fbff 141px,#0bfff4 158px,#a8ff57 173px,#fff300 182px,#ffd500 192px,#f7ff08 200px,#08fff7 215px,#00f2ff 225px,#27ffd8 231px,#fcff03 248px,#fff900 257px,#acff53 266px,#3fffc0 277px,#52ffad 286px,#7fff80 300px,#7fff80 311px)"></i><i style="width:3px;background:linear-gradient(#80ff80 0px,#90ff6f 74px,#c5ff3a 98px,#8fff70 118px,#00f8ff 142px,#0dfff2 159px,#b6ff49 174px,#fff700 181px,#ffcf00 191px,#f2ff0d 201px,#09fff6 215px,#00ebff 225px,#12ffed 230px,#fbff04 248px,#fff100 257px,#ddff22 263px,#46ffb9 276px,#40ffbf 284px,#7eff81 299px,#7fff80 311px)"></i><i style="width:3px;background:linear-gradient(#80ff80 0px,#91ff6e 73px,#c4ff3b 97px,#8bff74 118px,#00f9ff 141px,#0bfff4 158px,#9aff65 171px,#fff400 180px,#ffcb00 190px,#fff800 199px,#7dff82 207px,#01fffe 215px,#00e7ff 224px,#14ffeb 230px,#fffd00 248px,#ffeb00 256px,#e8ff17 262px,#42ffbd 276px,#3fffc0 284px,#7eff81 299px,#7fff80 311px)"></i><i style="width:3px;background:linear-gradient(#80ff80 0px,#92ff6d 72px,#c7ff38 96px,#8dff72 117px,#00f4ff 140px,#00f5ff 155px,#38ffc7 163px,#fff500 178px,#ffbe00 187px,#ffde00 197px,#e9ff16 201px,#09fff6 213px,#00dbff 223px,#0ffff0 230px,#fbff04 246px,#ffdd00 255px,#eeff11 262px,#42ffbd 275px,#34ffcb 283px,#7dff82 298px,#7fff80 311px)"></i><i style="width:3px;background:linear-gradient(#80ff80 0px,#90ff6f 70px,#c6ff39 95px,#8eff71 116px,#00f7ff 139px,#00f3ff 154px,#29ffd6 161px,#fff300 177px,#ffbb00 186px,#ffd800 196px,#f1ff0e 200px,#01fffe 213px,#00d8ff 222px,#12ffed 230px,#fffc00 246px,#ffd800 254px,#edff12 262px,#3effc1 275px,#33ffcc 283px,#7dff82 298px,#7fff80 311px)"></i><i style="width:3px;background:linear-gradient(#80ff80 0px,#91ff6e 69px,#c2ff3d 94px,#83ff7c 117px,#00f8ff 139px,#00fdff 154px,#5fffa0 164px,#fff500 176px,#ffbf00 185px,#ffdc00 195px,#f0ff0f 199px,#06fff9 212px,#00deff 222px,#13ffec 229px,#ffff00 245px,#ffdb00 253px,#eeff11 261px,#40ffbf 274px,#33ffcc 282px,#7cff83 297px,#7fff80 311px)"></i><i style="width:3px;background:linear-gradient(#80ff80 0px,#91ff6e 68px,#c2ff3d 93px,#80ff7f 117px,#00f6ff 139px,#0efff1 156px,#a3ff5c 168px,#fff700 175px,#ffbc00 184px,#ffd400 194px,#ebff14 199px,#01fffe 212px,#00dbff 221px,#09fff6 228px,#fbff04 244px,#ffd900 253px,#edff12 261px,#44ffbb 273px,#2dffd2 281px,#7cff83 297px,#7fff80 311px)"></i><i style="width:3px;background:linear-gradient(#80ff80 0px,#91ff6e 67px,#c7ff38 92px,#88ff77 115px,#00f3ff 137px,#00e6ff 151px,#15ffea 158px,#fff600 174px,#ffa900 183px,#ffb800 193px,#faff05 199px,#05fffa 211px,#00cbff 219px,#00edff 227px,#25ffda 231px,#fff800 244px,#ffc500 252px,#fff300 260px,#96ff69 267px,#2effd1 275px,#26ffd9 282px,#7bff84 297px,#7fff80 311px)"></i><i style="width:3px;background:linear-gradient(#80ff80 0px,#92ff6d 66px,#c6ff39 91px,#85ff7a 115px,#00f6ff 136px,#00e5ff 150px,#10ffef 157px,#e5ff1a 171px,#ffdf00 175px,#ffa200 184px,#ffc200 194px,#f4ff0b 199px,#00feff 211px,#00cbff 218px,#00e4ff 226px,#19ffe6 230px,#fffe00 243px,#ffc200 251px,#ffe700 259px,#ecff13 262px,#3bffc4 273px,#20ffdf 281px,#7bff84 297px,#7fff80 311px)"></i><i style="width:3px;background:linear-gradient(#80ff80 0px,#93ff6c 65px,#c4ff3b 90px,#7cff83 116px,#00f4ff 136px,#00eaff 150px,#12ffed 156px,#e5ff1a 170px,#ffde00 174px,#ffa300 183px,#ffc100 193px,#f6ff09 198px,#04fffb 210px,#00cbff 218px,#00edff 226px,#26ffd9 230px,#feff01 242px,#ffc300 250px,#ffe400 258px,#f1ff0e 261px,#3cffc3 272px,#1effe1 280px,#7cff83 297px,#7fff80 311px)"></i><i style="width:3px;background:linear-gradient(#80ff7f 0px,#93ff6c 64px,#c3ff3c 89px,#79ff86 116px,#00f7ff 135px,#00e9ff 148px,#12ffed 154px,#d8ff27 166px,#fff300 169px,#ffa600 177px,#ffb300 188px,#f8ff07 195px,#00f9ff 209px,#00c8ff 217px,#00ebff 225px,#28ffd7 229px,#fffc00 240px,#ffc000 247px,#ffdb00 256px,#e9ff16 260px,#38ffc7 270px,#13ffec 278px,#7cff83 297px,#7fff80 311px)"></i><i style="width:3px;background:linear-gradient(#80ff7f 0px,#91ff6e 62px,#c2ff3d 88px,#76ff89 116px,#00f5ff 135px,#00ecff 147px,#19ffe6 153px,#feff01 166px,#ffa700 174px,#ffa800 184px,#f7ff08 193px,#00fbff 208px,#00c7ff 216px,#00e3ff 224px,#0cfff3 227px,#fcff03 239px,#ffbc00 247px,#ffd300 255px,#f5ff0a 259px,#33ffcc 270px,#12ffed 278px,#7aff85 296px,#7fff80 311px)"></i><i style="width:3px;background:linear-gradient(#80ff7f 0px,#91ff6e 62px,#bfff40 88px,#72ff8d 117px,#00f4ff 136px,#00f8ff 149px,#43ffbc 156px,#fff200 167px,#ffa500 175px,#ffaf00 185px,#f8ff07 193px,#03fffc 208px,#00c9ff 217px,#00ecff 225px,#29ffd6 229px,#fffa00 240px,#ffbf00 247px,#ffdb00 256px,#eaff15 260px,#38ffc7 270px,#12ffed 278px,#7bff84 297px,#7fff80 311px)"></i><i style="width:3px;background:linear-gradient(#80ff7f 0px,#92ff6d 61px,#beff41 87px,#6fff90 117px,#00f7ff 135px,#00f1ff 147px,#22ffdd 153px,#fff700 166px,#ffa400 174px,#ffaa00 184px,#f2ff0d 193px,#00feff 208px,#00c9ff 216px,#00e8ff 224px,#12ffed 227px,#fff800 239px,#ffbd00 246px,#ffd100 254px,#f8ff07 258px,#30ffcf 269px,#0cfff3 277px,#7bff84 296px,#7fff80 311px)"></i><i style="width:3px;background:linear-gradient(#80ff7f 0px,#94ff6b 61px,#bcff43 87px,#63ff9c 119px,#00f9ff 135px,#10ffef 147px,#94ff6b 156px,#fffc00 162px,#ffad00 170px,#ffb200 179px,#edff12 188px,#00f8ff 208px,#00cfff 217px,#0bfff4 225px,#fffe00 237px,#ffc000 244px,#ffd500 252px,#f5ff0a 256px,#2dffd2 267px,#05fffa 275px,#4affb5 286px,#7eff81 298px,#7fff80 311px)"></i><i style="width:3px;background:linear-gradient(#80ff7f 0px,#93ff6c 59px,#b9ff46 86px,#5dffa2 119px,#00f9ff 135px,#13ffec 146px,#93ff6c 155px,#ffff00 161px,#ffb000 169px,#ffb400 178px,#efff10 187px,#00fcff 207px,#00d3ff 216px,#0dfff2 224px,#fcff03 236px,#ffc300 244px,#ffe400 252px,#f0ff0f 255px,#2affd5 266px,#06fff9 274px,#7bff84 294px,#7fff80 311px)"></i><i style="width:3px;background:linear-gradient(#80ff7f 0px,#92ff6d 58px,#b8ff47 85px,#5fffa0 117px,#00f9ff 133px,#0efff1 145px,#8cff73 154px,#fff300 161px,#ffa900 169px,#ffb700 179px,#f1ff0e 187px,#00f9ff 206px,#00cdff 215px,#03fffc 223px,#fff600 236px,#ffbf00 243px,#ffda00 251px,#eaff15 255px,#22ffdd 266px,#03fffc 274px,#7bff84 293px,#7fff80 311px)"></i><i style="width:3px;background:linear-gradient(#80ff7f 0px,#92ff6d 57px,#b8ff47 84px,#65ff9a 114px,#00f9ff 131px,#0dfff2 143px,#8aff75 152px,#fff400 159px,#ffa700 167px,#ffb400 177px,#f5ff0a 185px,#00f3ff 205px,#00c6ff 213px,#00efff 221px,#33ffcc 225px,#f8ff07 234px,#ffbb00 242px,#ffd300 250px,#f3ff0c 254px,#23ffdc 265px,#00feff 273px,#7aff85 292px,#7fff80 311px)"></i><i style="width:3px;background:linear-gradient(#80ff7f 0px,#93ff6c 56px,#b7ff48 83px,#62ff9d 112px,#00f9ff 129px,#12ffed 140px,#93ff6c 149px,#fffd00 155px,#ffab00 163px,#ffb400 173px,#f7ff08 181px,#00f1ff 203px,#00c1ff 211px,#00eaff 219px,#1cffe3 222px,#f9ff06 232px,#ffb700 240px,#ffce00 248px,#f8ff07 252px,#22ffdd 263px,#00f9ff 270px,#19ffe6 277px,#76ff89 289px,#7fff80 311px)"></i><i style="width:3px;background:linear-gradient(#80ff7f 0px,#93ff6c 56px,#b6ff49 83px,#69ff96 110px,#00faff 128px,#0ffff0 139px,#89ff76 148px,#fff500 155px,#ffa900 163px,#ffb600 173px,#f4ff0b 181px,#00faff 202px,#00beff 210px,#00ddff 218px,#0afff5 221px,#feff01 232px,#ffb700 239px,#ffc400 247px,#f9ff06 252px,#20ffdf 263px,#00f6ff 269px,#13ffec 277px,#75ff8a 289px,#7fff80 311px)"></i><i style="width:3px;background:linear-gradient(#80ff7f 0px,#93ff6c 54px,#b5ff4a 81px,#69ff96 107px,#00f8ff 125px,#12ffed 137px,#95ff6a 146px,#fff900 152px,#ffa700 160px,#ffae00 170px,#f3ff0c 179px,#00f1ff 200px,#00b6ff 208px,#00d8ff 216px,#1affe5 220px,#fffc00 230px,#ffb100 237px,#ffbd00 245px,#ffff00 250px,#1fffe0 261px,#00f5ff 266px,#10ffef 275px,#74ff8b 287px,#7fff80 311px)"></i><i style="width:3px;background:linear-gradient(#80ff7f 0px,#94ff6b 54px,#b6ff49 81px,#6eff91 105px,#00f7ff 123px,#0afff5 137px,#8aff75 146px,#fdff02 152px,#ffa100 160px,#ffa100 171px,#f2ff0d 181px,#00f3ff 199px,#00abff 207px,#00c0ff 215px,#0efff1 220px,#ffff00 230px,#ffa900 237px,#ffb600 246px,#ffff00 251px,#16ffe9 262px,#00eeff 267px,#0bfff4 275px,#74ff8b 287px,#7fff80 311px)"></i><i style="width:3px;background:linear-gradient(#80ff7f 0px,#94ff6b 53px,#b6ff49 80px,#6fff90 103px,#00f7ff 121px,#0efff1 137px,#9fff60 147px,#fff100 153px,#ff9b00 161px,#ff9f00 172px,#f2ff0d 182px,#00ffff 197px,#00a8ff 205px,#00b6ff 214px,#00ffff 219px,#fff900 230px,#ffa400 237px,#ffb200 246px,#fffd00 251px,#23ffdc 261px,#00f8ff 265px,#00f4ff 272px,#76ff89 287px,#7fff80 311px)"></i><i style="width:3px;background:linear-gradient(#80ff7f 0px,#94ff6b 52px,#b5ff4a 79px,#71ff8e 101px,#00f7ff 119px,#00faff 133px,#50ffaf 142px,#fff500 153px,#ff9700 162px,#ff9d00 173px,#eeff11 183px,#00ffff 196px,#00a1ff 204px,#00adff 213px,#08fff7 219px,#f7ff08 229px,#ffa000 237px,#ffac00 246px,#f4ff0b 252px,#1cffe3 262px,#00eeff 268px,#11ffee 275px,#73ff8c 286px,#7fff80 311px)"></i><i style="width:3px;background:linear-gradient(#80ff7f 0px,#94ff6b 51px,#b4ff4b 78px,#70ff8f 99px,#00fbff 116px,#00fbff 131px,#52ffad 141px,#fff500 153px,#ff9a00 162px,#ff9c00 173px,#ffff00 182px,#00fbff 195px,#00a2ff 202px,#00a3ff 211px,#06fff9 218px,#fffc00 229px,#ffa300 236px,#ffa400 245px,#f1ff0e 252px,#2dffd2 261px,#00f5ff 267px,#0ffff0 274px,#75ff8a 286px,#7fff80 311px)"></i><i style="width:3px;background:linear-gradient(#80ff7f 0px,#94ff6b 50px,#b3ff4c 77px,#72ff8d 97px,#00fbff 114px,#00faff 129px,#54ffab 140px,#fff100 153px,#ff9800 162px,#ff9b00 173px,#fbff04 182px,#00faff 194px,#009cff 201px,#009cff 210px,#00fdff 217px,#fff600 229px,#ff9a00 237px,#ffa700 246px,#f7ff08 252px,#32ffcd 261px,#00f8ff 267px,#11ffee 274px,#76ff89 286px,#7fff80 311px)"></i><i style="width:3px;background:linear-gradient(#80ff7f 0px,#96ff69 50px,#b2ff4d 77px,#6dff92 97px,#00f8ff 114px,#0efff1 132px,#a7ff58 146px,#ffef00 153px,#ff9700 162px,#ff9b00 173px,#faff05 182px,#00f7ff 194px,#009aff 201px,#009cff 210px,#00ffff 217px,#f7ff08 228px,#ff9900 237px,#ffa700 246px,#f6ff09 252px,#32ffcd 261px,#00f8ff 267px,#12ffed 274px,#76ff89 286px,#7fff80 311px)"></i><i style="width:3px;background:linear-gradient(#80ff7f 0px,#95ff6a 49px,#b1ff4e 77px,#6cff93 97px,#00faff 114px,#10ffef 132px,#a3ff5c 146px,#fff600 153px,#ff9800 163px,#ffa100 174px,#ffff00 182px,#02fffd 194px,#00a0ff 201px,#009dff 210px,#0dfff2 218px,#fffe00 229px,#ff9e00 237px,#ffa700 246px,#fdff02 252px,#2affd5 262px,#00f9ff 268px,#1bffe4 275px,#75ff8a 286px,#7fff80 311px)"></i><i style="width:3px;background:linear-gradient(#80ff7f 0px,#94ff6b 48px,#b0ff4f 76px,#68ff97 97px,#00f9ff 114px,#0cfff3 131px,#97ff68 145px,#fff500 153px,#ff9800 163px,#ffa200 174px,#feff01 182px,#02fffd 194px,#00a0ff 201px,#009dff 210px,#0dfff2 218px,#fffe00 229px,#ff9e00 237px,#ffa800 246px,#fbff04 252px,#2affd5 262px,#00f9ff 268px,#1cffe3 275px,#76ff89 286px,#7fff80 311px)"></i><i style="width:3px;background:linear-gradient(#80ff7f 0px,#96ff69 48px,#afff50 76px,#65ff9a 97px,#00fbff 113px,#0efff1 131px,#a7ff58 146px,#fff400 153px,#ff9800 163px,#ffa200 174px,#feff01 182px,#02fffd 194px,#00a0ff 201px,#009dff 210px,#0dfff2 218px,#fffe00 229px,#ff9e00 237px,#ffa900 246px,#faff05 252px,#29ffd6 262px,#00faff 268px,#1dffe2 275px,#76ff89 286px,#7fff80 311px)"></i><i style="width:3px;background:linear-gradient(#80ff7f 0px,#96ff69 46px,#b3ff4c 73px,#6bff94 95px,#00f9ff 111px,#00f1ff 126px,#24ffdb 134px,#eaff15 150px,#ffc000 156px,#ff8500 165px,#ff9f00 175px,#ffff00 182px,#00f4ff 194px,#0092ff 201px,#0092ff 210px,#0dfff2 218px,#f8ff07 228px,#ff9700 236px,#ff9100 244px,#ffda00 250px,#e2ff1d 253px,#2fffd0 261px,#00f9ff 266px,#12ffed 274px,#73ff8c 285px,#7fff80 311px)"></i><i style="width:3px;background:linear-gradient(#80ff7f 0px,#96ff69 45px,#b2ff4d 72px,#6eff91 94px,#00f7ff 111px,#00f2ff 126px,#27ffd8 134px,#ecff13 150px,#ffb400 157px,#ff8400 166px,#ffa900 176px,#ffff00 182px,#00f3ff 194px,#0092ff 201px,#0092ff 210px,#0dfff2 218px,#f8ff07 228px,#ff9700 236px,#ff9200 244px,#ffdb00 250px,#e0ff1f 253px,#2fffd0 261px,#00faff 266px,#13ffec 274px,#74ff8b 285px,#7fff80 311px)"></i><i style="width:3px;background:linear-gradient(#80ff7f 0px,#98ff67 45px,#b1ff4e 72px,#65ff9a 95px,#00f5ff 111px,#00f4ff 126px,#33ffcc 135px,#fff200 152px,#ff8c00 162px,#ff9200 173px,#fcff03 182px,#00f3ff 194px,#0091ff 201px,#0092ff 210px,#0dfff2 218px,#f8ff07 228px,#ff9700 236px,#ff9200 244px,#ffdd00 250px,#deff21 253px,#2effd1 261px,#00f5ff 267px,#15ffea 274px,#74ff8b 285px,#7fff80 311px)"></i><i style="width:3px;background:linear-gradient(#80ff7f 0px,#97ff68 45px,#b4ff4b 72px,#6aff95 95px,#00f4ff 111px,#00e9ff 126px,#14ffeb 133px,#c5ff3a 148px,#ffec00 153px,#ff8100 163px,#ff8700 174px,#ffe600 182px,#deff21 185px,#00f4ff 195px,#0089ff 202px,#0083ff 211px,#00e5ff 218px,#14ffeb 220px,#f5ff0a 229px,#ff8700 238px,#ff8b00 246px,#ffe200 252px,#ecff13 254px,#21ffde 263px,#00f0ff 268px,#0cfff3 275px,#72ff8d 286px,#7fff80 311px)"></i><i style="width:3px;background:linear-gradient(#80ff7f 0px,#96ff69 44px,#acff53 72px,#5fffa0 96px,#00f9ff 112px,#11ffee 130px,#b2ff4d 146px,#fff900 152px,#ff9900 162px,#ff9f00 173px,#f9ff06 182px,#00f3ff 195px,#009dff 202px,#00a1ff 211px,#06fff9 218px,#feff01 229px,#ff9e00 237px,#ffaa00 246px,#f7ff08 252px,#28ffd7 262px,#00f9ff 268px,#1effe1 275px,#76ff89 286px,#7fff80 311px)"></i><i style="width:3px;background:linear-gradient(#80ff7f 0px,#98ff67 44px,#abff54 72px,#5cffa3 96px,#00f8ff 112px,#0dfff2 129px,#aaff55 145px,#fff300 152px,#ff9800 162px,#ffa200 173px,#f3ff0c 182px,#00f2ff 195px,#009cff 202px,#00a2ff 211px,#0afff5 218px,#fff800 229px,#ffa100 236px,#ffa400 245px,#f0ff0f 252px,#2fffd0 261px,#00f9ff 267px,#15ffea 274px,#77ff88 286px,#7fff80 311px)"></i><i style="width:3px;background:linear-gradient(#80ff7f 0px,#98ff67 42px,#b0ff4f 69px,#63ff9c 94px,#00f5ff 110px,#00f2ff 125px,#28ffd7 133px,#efff10 149px,#ff8a00 161px,#ff9000 172px,#f4ff0b 182px,#00f8ff 194px,#0093ff 201px,#008dff 210px,#00dcff 216px,#21ffde 219px,#fff900 228px,#ff9500 235px,#ff8c00 243px,#ffd000 249px,#ecff13 252px,#21ffde 261px,#00f1ff 266px,#10ffef 274px,#73ff8c 285px,#7fff80 311px)"></i><i style="width:3px;background:linear-gradient(#80ff7f 0px,#97ff68 41px,#aeff51 69px,#60ff9f 94px,#00f7ff 109px,#00f0ff 124px,#23ffdc 132px,#e7ff18 148px,#ffdd00 152px,#ff8900 161px,#ff9200 172px,#fffe00 181px,#00f7ff 194px,#0093ff 201px,#008eff 210px,#00dfff 216px,#27ffd8 219px,#f7ff08 227px,#ff9100 235px,#ff9300 244px,#fbff04 251px,#29ffd6 260px,#00f2ff 265px,#11ffee 274px,#74ff8b 285px,#7fff80 311px)"></i><i style="width:3px;background:linear-gradient(#80ff7f 0px,#99ff66 42px,#a4ff5b 71px,#56ffa9 93px,#00fbff 109px,#13ffec 125px,#95ff6a 138px,#fff400 146px,#ff9400 156px,#ff9d00 167px,#f0ff0f 177px,#00f8ff 191px,#0093ff 199px,#0096ff 208px,#00fbff 215px,#fcff03 226px,#ff9a00 234px,#ff9f00 243px,#f2ff0d 250px,#2bffd4 259px,#00f8ff 264px,#10ffef 272px,#76ff89 284px,#7fff80 311px)"></i><i style="width:3px;background:linear-gradient(#80ff7f 0px,#9bff64 43px,#9bff64 72px,#37ffc8 92px,#00ffff 106px,#1effe1 120px,#a2ff5d 133px,#fff200 140px,#ff8b00 149px,#ff8500 160px,#ffdf00 169px,#f0ff0f 172px,#00f4ff 185px,#007bff 193px,#0075ff 202px,#00c3ff 208px,#08fff7 211px,#fff900 221px,#ff8f00 228px,#ff7d00 237px,#ffbd00 243px,#fffe00 246px,#1effe1 255px,#00f4ff 258px,#00dfff 265px,#0cfff3 270px,#70ff8f 280px,#7fff80 311px)"></i><i style="width:3px;background:linear-gradient(#80ff7f 0px,#9aff65 67px,#30ffcf 89px,#10ffef 105px,#46ffb9 119px,#ddff22 132px,#fff200 135px,#ff8300 145px,#ff8500 156px,#ffe800 165px,#d2ff2d 169px,#02fffd 179px,#0075ff 187px,#005eff 195px,#00a1ff 202px,#00f8ff 206px,#fff400 217px,#ff8100 225px,#ff7600 234px,#ffbb00 240px,#feff01 243px,#14ffeb 252px,#00d5ff 258px,#00e9ff 265px,#1bffe4 269px,#72ff8d 278px,#7fff80 311px)"></i><i style="width:3px;background:linear-gradient(#80ff7f 0px,#91ff6e 65px,#20ffdf 93px,#3dffc2 111px,#a9ff56 125px,#fff500 132px,#ff8200 142px,#ff7f00 153px,#ffd400 161px,#f5ff0a 164px,#06fff9 174px,#0068ff 182px,#004eff 190px,#0090ff 197px,#00f9ff 202px,#fffa00 214px,#ff7b00 223px,#ff6f00 232px,#ffb800 238px,#feff01 241px,#0efff1 250px,#00cbff 258px,#07fff8 265px,#8fff70 275px,#91ff6e 285px,#80ff7f 311px)"></i><i style="width:3px;background:linear-gradient(#80ff7f 0px,#87ff78 64px,#2dffd2 91px,#51ffae 110px,#b2ff4d 124px,#ffed00 131px,#ff7f00 141px,#ff8100 152px,#ffe100 160px,#dfff20 163px,#09fff6 171px,#0060ff 179px,#0045ff 187px,#008aff 194px,#08fff7 200px,#fff800 213px,#ff7a00 222px,#ff6c00 231px,#ffb300 237px,#fffc00 240px,#0efff1 249px,#00c8ff 257px,#05fffa 264px,#ceff31 275px,#dbff24 282px,#83ff7c 293px,#80ff7f 311px)"></i><i style="width:3px;background:linear-gradient(#80ff7f 0px,#7fff80 64px,#2fffd0 91px,#56ffa9 110px,#c1ff3e 123px,#fff800 128px,#ff8900 138px,#ff8600 149px,#ffe800 158px,#cbff34 162px,#00f5ff 171px,#006fff 178px,#0050ff 186px,#008aff 193px,#04fffb 199px,#ffff00 211px,#ff8300 220px,#ff7300 229px,#ffae00 235px,#f6ff09 239px,#0afff5 248px,#00c8ff 256px,#0ffff0 264px,#e3ff1c 274px,#fcff03 280px,#86ff79 292px,#80ff7f 311px)"></i><i style="width:3px;background:linear-gradient(#80ff7f 0px,#78ff87 64px,#2fffd0 91px,#55ffaa 109px,#c2ff3d 121px,#fff400 126px,#ff8700 136px,#ff8800 147px,#f5ff0a 158px,#03fffc 170px,#006fff 178px,#0052ff 186px,#008fff 193px,#0ffff0 199px,#fff800 210px,#ff8700 218px,#ff7600 228px,#ffb200 234px,#f5ff0a 238px,#0bfff4 247px,#00c5ff 255px,#00f3ff 262px,#43ffbc 266px,#e2ff1d 273px,#f9ff06 279px,#87ff78 290px,#80ff7f 311px)"></i><i style="width:3px;background:linear-gradient(#80ff7f 0px,#70ff8f 63px,#29ffd6 89px,#4cffb3 106px,#b7ff48 117px,#fffa00 122px,#ff7c00 132px,#ff7400 143px,#ffd100 152px,#eeff11 156px,#07fff8 168px,#005cff 177px,#0041ff 185px,#0076ff 191px,#00fdff 197px,#fffb00 207px,#ff7a00 215px,#ff6200 224px,#ff9b00 231px,#f8ff07 236px,#04fffb 245px,#00bcff 251px,#00c8ff 258px,#08fff7 262px,#d8ff27 270px,#fffd00 275px,#cbff34 281px,#85ff7a 288px,#80ff80 311px)"></i><i style="width:3px;background:linear-gradient(#7fff80 0px,#6dff92 63px,#29ffd6 89px,#4affb5 105px,#bcff43 116px,#fff100 121px,#ff7e00 130px,#ff7200 141px,#ffcb00 150px,#f6ff09 154px,#02fffd 168px,#005dff 177px,#0044ff 185px,#007aff 191px,#01fffe 197px,#fff900 207px,#ff7b00 215px,#ff6700 225px,#ffaf00 232px,#f4ff0b 236px,#03fffc 245px,#00bcff 251px,#00c8ff 258px,#09fff6 262px,#d9ff26 270px,#fffe00 275px,#c9ff36 281px,#85ff7a 288px,#80ff80 311px)"></i><i style="width:3px;background:linear-gradient(#7fff80 0px,#6cff93 63px,#29ffd6 89px,#51ffae 106px,#c9ff36 117px,#fff400 121px,#ff7900 131px,#ff7600 142px,#ffe600 152px,#d9ff26 156px,#02fffd 168px,#005fff 177px,#0047ff 185px,#007dff 191px,#03fffc 197px,#fffc00 207px,#ff7e00 215px,#ff6600 224px,#ff9e00 231px,#f6ff09 236px,#04fffb 245px,#00bcff 251px,#00c8ff 258px,#08fff7 262px,#d8ff27 270px,#fffd00 275px,#dbff24 280px,#89ff76 287px,#80ff7f 311px)"></i><i style="width:3px;background:linear-gradient(#7fff80 0px,#6dff92 63px,#30ffcf 90px,#58ffa7 107px,#caff35 118px,#ffe900 123px,#ff8b00 132px,#ff8c00 143px,#f8ff07 154px,#00fdff 169px,#0079ff 177px,#0060ff 185px,#009eff 192px,#07fff8 197px,#fffb00 208px,#ff8f00 216px,#ff8100 226px,#ffca00 233px,#f5ff0a 236px,#03fffc 246px,#00c8ff 253px,#00e9ff 260px,#1fffe0 263px,#dbff24 271px,#f5ff0a 277px,#86ff79 288px,#80ff7f 311px)"></i><i style="width:3px;background:linear-gradient(#7fff80 0px,#6cff93 62px,#2affd5 88px,#51ffae 106px,#bfff40 117px,#fff100 122px,#ff7b00 132px,#ff7b00 143px,#ffed00 153px,#9fff60 160px,#05fffa 168px,#0066ff 177px,#0050ff 185px,#0097ff 192px,#08fff7 197px,#fbff04 207px,#ff7f00 216px,#ff7300 226px,#ffc300 233px,#f7ff08 236px,#08fff7 245px,#00bdff 252px,#00d6ff 259px,#08fff7 262px,#e5ff1a 271px,#fcff03 277px,#86ff79 288px,#80ff7f 311px)"></i><i style="width:3px;background:linear-gradient(#7fff80 0px,#6dff92 61px,#2affd5 88px,#50ffaf 106px,#baff45 117px,#fff700 122px,#ff7d00 132px,#ff7800 143px,#ffd700 152px,#e8ff17 156px,#06fff9 168px,#0067ff 177px,#0053ff 185px,#009aff 192px,#09fff6 197px,#f8ff07 207px,#ff8300 216px,#ff7400 226px,#ffc200 233px,#f8ff07 236px,#0afff5 245px,#00beff 252px,#00d6ff 259px,#07fff8 262px,#e3ff1c 271px,#fdff02 277px,#87ff78 288px,#80ff7f 311px)"></i><i style="width:3px;background:linear-gradient(#7fff80 0px,#6dff92 62px,#2bffd4 89px,#4fffb0 107px,#bfff40 119px,#fff300 124px,#ff7d00 134px,#ff7a00 145px,#ffea00 155px,#c0ff3f 160px,#00f7ff 170px,#006dff 178px,#0055ff 186px,#0098ff 193px,#04fffb 198px,#fffc00 209px,#ff8900 217px,#ff7500 227px,#ffbd00 234px,#fffd00 237px,#00fdff 247px,#00c0ff 253px,#00d3ff 260px,#01fffe 263px,#ddff22 272px,#ffff00 278px,#85ff7a 290px,#80ff7f 311px)"></i><i style="width:3px;background:linear-gradient(#7fff80 0px,#6dff92 61px,#29ffd6 88px,#4fffb0 107px,#bdff42 119px,#fff500 124px,#ff7a00 134px,#ff7400 145px,#ffd400 154px,#e7ff18 158px,#00f1ff 170px,#0068ff 178px,#0053ff 186px,#009bff 193px,#08fff7 198px,#fff900 209px,#ff8600 217px,#ff7300 227px,#ffbc00 234px,#ffff00 237px,#0dfff2 246px,#00bdff 253px,#00d2ff 260px,#02fffd 263px,#e1ff1e 272px,#fffb00 277px,#daff25 282px,#89ff76 289px,#80ff7f 311px)"></i><i style="width:3px;background:linear-gradient(#7fff80 0px,#6cff93 61px,#29ffd6 88px,#4effb1 107px,#b4ff4b 119px,#fff000 125px,#ff7800 135px,#ff7500 146px,#ffd900 155px,#f2ff0d 158px,#00f4ff 170px,#006aff 178px,#0056ff 186px,#009eff 193px,#0afff5 198px,#fffc00 209px,#ff8100 218px,#ff7800 228px,#ffbc00 234px,#fffe00 237px,#0ffff0 246px,#00bbff 254px,#00dfff 261px,#16ffe9 264px,#dfff20 272px,#fffa00 277px,#ddff22 282px,#8aff75 289px,#80ff7f 311px)"></i><i style="width:3px;background:linear-gradient(#7fff80 0px,#6dff92 60px,#29ffd6 88px,#53ffac 108px,#baff45 120px,#ffeb00 126px,#ff7600 136px,#ff7700 147px,#ffdf00 156px,#e9ff16 159px,#00f7ff 170px,#006cff 178px,#0059ff 186px,#00a1ff 193px,#0bfff4 198px,#ffff00 209px,#ff8400 218px,#ff7a00 228px,#ffbb00 234px,#fffc00 237px,#00fbff 247px,#00beff 253px,#00d3ff 260px,#01fffe 263px,#edff12 273px,#ffff00 279px,#86ff79 290px,#80ff7f 311px)"></i><i style="width:3px;background:linear-gradient(#7fff80 0px,#6cff93 61px,#31ffce 89px,#5effa1 110px,#c3ff3c 122px,#fff700 127px,#ff8d00 137px,#ff8e00 148px,#ffef00 157px,#caff35 161px,#00f8ff 171px,#0089ff 178px,#0077ff 187px,#00c1ff 194px,#0ffff0 198px,#fbff04 210px,#ff9400 220px,#ff9a00 230px,#fffe00 237px,#00feff 248px,#00ccff 255px,#00f5ff 262px,#58ffa7 267px,#ddff22 273px,#f6ff09 279px,#84ff7b 291px,#80ff7f 311px)"></i><i style="width:3px;background:linear-gradient(#7fff80 0px,#6dff92 60px,#31ffce 89px,#60ff9f 110px,#c9ff36 122px,#fff100 127px,#ff9000 137px,#ff9500 148px,#f7ff08 158px,#00f8ff 171px,#0086ff 179px,#0082ff 188px,#00d7ff 195px,#12ffed 198px,#fff600 211px,#ff9700 220px,#ff9b00 230px,#fffd00 237px,#01fffe 248px,#00cdff 255px,#00f5ff 262px,#56ffa9 267px,#e8ff17 274px,#f3ff0c 280px,#85ff7a 291px,#80ff7f 311px)"></i><i style="width:3px;background:linear-gradient(#7fff80 0px,#6cff93 59px,#29ffd6 87px,#51ffae 107px,#b3ff4c 119px,#fff600 125px,#ff8400 135px,#ff7f00 146px,#ffd900 155px,#f4ff0b 158px,#00faff 170px,#0079ff 178px,#006eff 187px,#00c2ff 194px,#00ffff 197px,#f8ff07 209px,#ff8600 219px,#ff8400 229px,#ffcf00 235px,#fffb00 237px,#00feff 247px,#00c0ff 253px,#00d4ff 260px,#00ffff 263px,#eaff15 273px,#fffd00 279px,#88ff77 290px,#80ff7f 311px)"></i><i style="width:3px;background:linear-gradient(#7fff80 0px,#6dff92 59px,#2fffd0 88px,#58ffa7 108px,#c8ff37 121px,#fff300 126px,#ff9500 136px,#ff9e00 148px,#fdff02 157px,#00f8ff 171px,#008bff 179px,#0089ff 188px,#06fff9 197px,#fcff03 210px,#ff9400 220px,#ff9b00 230px,#ffff00 237px,#0dfff2 247px,#00c9ff 255px,#00f2ff 262px,#40ffbf 266px,#e0ff1f 273px,#f9ff06 279px,#84ff7b 291px,#80ff7f 311px)"></i><i style="width:3px;background:linear-gradient(#7fff80 0px,#6cff93 58px,#2dffd2 87px,#57ffa8 107px,#c9ff36 120px,#fff200 125px,#ff9600 135px,#ff9e00 147px,#f1ff0e 157px,#00feff 170px,#008dff 178px,#0088ff 187px,#00edff 195px,#28ffd7 198px,#fbff04 209px,#ff9200 219px,#ff9600 229px,#f0ff0f 237px,#00fdff 247px,#00c5ff 254px,#00eaff 261px,#1fffe0 264px,#ddff22 272px,#fdff02 278px,#85ff7a 290px,#80ff7f 311px)"></i><i style="width:3px;background:linear-gradient(#7fff80 0px,#6cff93 58px,#2cffd3 86px,#53ffac 106px,#c1ff3e 119px,#fff000 125px,#ff9a00 135px,#ffa500 147px,#faff05 156px,#01fffe 170px,#0093ff 178px,#008fff 187px,#07fff8 196px,#feff01 209px,#ff9800 218px,#ff9a00 229px,#fffd00 236px,#00fbff 247px,#00c5ff 254px,#00ebff 261px,#21ffde 264px,#dfff20 272px,#fbff04 278px,#84ff7b 290px,#80ff7f 311px)"></i><i style="width:3px;background:linear-gradient(#7fff80 0px,#6cff93 57px,#2fffd0 85px,#56ffa9 105px,#ceff31 119px,#fff400 124px,#ffa800 134px,#ffb600 146px,#f0ff0f 155px,#00f7ff 170px,#009eff 178px,#00a6ff 187px,#00feff 194px,#faff05 208px,#ff9f00 218px,#ffa700 228px,#f7ff08 235px,#00ffff 246px,#00cdff 253px,#00f1ff 260px,#26ffd9 263px,#dcff23 271px,#f5ff0a 277px,#87ff78 288px,#80ff7f 311px)"></i><i style="width:3px;background:linear-gradient(#7fff80 0px,#6bff94 57px,#2effd1 85px,#57ffa8 105px,#d1ff2e 119px,#fff200 124px,#ffab00 135px,#ffc300 147px,#f7ff08 154px,#00f9ff 170px,#00a4ff 178px,#00adff 187px,#05fffa 194px,#fdff02 208px,#ffa400 217px,#ffab00 228px,#f2ff0d 235px,#00fdff 246px,#00cdff 253px,#00f2ff 260px,#40ffbf 264px,#deff21 271px,#f4ff0b 277px,#86ff79 288px,#80ff7f 311px)"></i><i style="width:3px;background:linear-gradient(#7fff80 0px,#6dff92 56px,#2dffd2 85px,#54ffab 104px,#d5ff2a 119px,#fff100 124px,#ffb000 135px,#ffca00 147px,#f1ff0e 154px,#00fbff 170px,#00aaff 178px,#00bbff 188px,#0bfff4 194px,#fffe00 208px,#ffa500 217px,#ffaf00 228px,#fffd00 234px,#00fcff 246px,#00cdff 253px,#00f3ff 260px,#42ffbd 264px,#dfff20 271px,#f2ff0d 277px,#85ff7a 288px,#80ff7f 311px)"></i><i style="width:3px;background:linear-gradient(#7fff80 0px,#6bff94 57px,#23ffdc 85px,#48ffb7 104px,#c3ff3c 118px,#fff100 124px,#ffa100 135px,#ffb300 147px,#f2ff0d 156px,#00f8ff 171px,#009aff 179px,#00a0ff 188px,#0dfff2 196px,#fff500 209px,#ff9000 218px,#ff9100 228px,#ffe900 235px,#e9ff16 237px,#07fff8 246px,#00bbff 253px,#00d0ff 260px,#01fffe 263px,#e4ff1b 272px,#fffd00 278px,#87ff78 289px,#80ff7f 311px)"></i><i style="width:3px;background:linear-gradient(#7fff80 0px,#6dff92 56px,#22ffdd 84px,#44ffbb 103px,#bbff44 117px,#fff000 124px,#ffa600 135px,#ffba00 147px,#f8ff07 155px,#00faff 171px,#00a1ff 179px,#00a7ff 188px,#01fffe 195px,#fbff04 208px,#ff9600 217px,#ff9500 228px,#ffee00 235px,#ccff33 238px,#05fffa 246px,#00bbff 253px,#00d1ff 260px,#03fffc 263px,#e6ff19 272px,#ffff00 278px,#86ff79 289px,#80ff7f 311px)"></i><i style="width:3px;background:linear-gradient(#7fff80 0px,#6cff93 56px,#21ffde 84px,#45ffba 103px,#bdff42 117px,#ffee00 124px,#ffa700 135px,#ffbd00 147px,#f6ff09 155px,#00fbff 171px,#00a2ff 179px,#00a9ff 188px,#03fffc 195px,#ffff00 208px,#ff9500 217px,#ff9700 228px,#f7ff08 236px,#03fffc 246px,#00bbff 253px,#00d2ff 260px,#05fffa 263px,#e7ff18 272px,#feff01 278px,#8aff75 288px,#80ff7f 311px)"></i><i style="width:3px;background:linear-gradient(#7fff80 0px,#6cff93 56px,#2affd5 84px,#4effb1 103px,#d5ff2a 119px,#ffec00 125px,#ffbc00 136px,#ffdc00 148px,#ecff13 154px,#00f1ff 172px,#00b4ff 180px,#00ccff 189px,#0bfff4 194px,#ffff00 208px,#ffa900 217px,#ffb400 228px,#fffd00 234px,#04fffb 246px,#00cdff 253px,#00ebff 260px,#20ffdf 263px,#d9ff26 271px,#f1ff0e 277px,#85ff7a 288px,#80ff80 311px)"></i><i style="width:3px;background:linear-gradient(#7fff80 0px,#6cff93 54px,#24ffdb 82px,#47ffb8 101px,#c5ff3a 116px,#fff600 122px,#ffb200 133px,#ffcc00 146px,#f1ff0e 153px,#00f8ff 170px,#00acff 178px,#00b9ff 187px,#05fffa 193px,#fff500 207px,#ff9b00 216px,#ffa900 227px,#f2ff0d 234px,#00fbff 245px,#00c3ff 252px,#00e3ff 259px,#1cffe3 262px,#dfff20 270px,#f7ff08 276px,#85ff7a 287px,#80ff80 311px)"></i><i style="width:3px;background:linear-gradient(#7fff80 0px,#6bff94 54px,#23ffdc 82px,#47ffb8 101px,#c7ff38 116px,#fff400 122px,#ffb200 133px,#ffce00 146px,#efff10 153px,#00f8ff 170px,#00acff 178px,#00baff 187px,#06fff9 193px,#fdff02 206px,#ff9e00 215px,#ffa400 226px,#fffc00 233px,#00faff 245px,#00c3ff 252px,#00e4ff 259px,#1effe1 262px,#d1ff2e 269px,#faff05 275px,#84ff7b 287px,#7fff80 311px)"></i><i style="width:3px;background:linear-gradient(#7fff80 0px,#6cff93 55px,#1fffe0 83px,#44ffbb 102px,#cfff30 117px,#fff400 122px,#ffab00 133px,#ffc500 146px,#edff12 154px,#00fbff 171px,#00a7ff 179px,#00afff 188px,#0afff5 195px,#fbff04 207px,#ff9700 216px,#ff9900 227px,#fcff03 235px,#00feff 246px,#00bfff 252px,#00ccff 259px,#0efff1 263px,#ddff22 271px,#fbff04 277px,#86ff79 288px,#7fff80 311px)"></i><i style="width:3px;background:linear-gradient(#7fff80 0px,#6aff95 54px,#23ffdc 82px,#47ffb8 100px,#cfff30 115px,#ffed00 121px,#ffb600 132px,#ffd300 144px,#ecff13 151px,#00faff 170px,#00b2ff 178px,#00c7ff 188px,#08fff7 193px,#fff500 207px,#ff9f00 216px,#ffaf00 227px,#fffd00 233px,#00feff 245px,#00c8ff 252px,#00e7ff 259px,#1fffe0 262px,#deff21 270px,#f3ff0c 276px,#88ff77 286px,#7fff80 311px)"></i><i style="width:3px;background:linear-gradient(#7fff80 0px,#6cff93 53px,#23ffdc 81px,#45ffba 100px,#c1ff3e 115px,#fff100 122px,#ffb600 133px,#ffd000 145px,#f0ff0f 152px,#00fcff 170px,#00b3ff 178px,#00c7ff 188px,#08fff7 193px,#fff900 207px,#ffa000 216px,#ffad00 227px,#f2ff0d 234px,#01fffe 245px,#00c8ff 252px,#00e7ff 259px,#1effe1 262px,#ddff22 270px,#f4ff0b 276px,#85ff7a 287px,#7fff80 311px)"></i><i style="width:3px;background:linear-gradient(#7fff80 0px,#6bff94 53px,#22ffdd 81px,#49ffb6 101px,#caff35 117px,#fff500 123px,#ffb700 134px,#ffd400 147px,#f4ff0b 153px,#00f1ff 171px,#00b1ff 179px,#00c7ff 188px,#07fff8 193px,#fffe00 207px,#ffa200 216px,#ffab00 227px,#f7ff08 234px,#04fffb 245px,#00c9ff 252px,#00e6ff 259px,#1cffe3 262px,#dcff23 270px,#f6ff09 276px,#86ff79 287px,#80ff80 311px)"></i><i style="width:3px;background:linear-gradient(#7fff80 0px,#6bff94 54px,#1fffe0 82px,#45ffba 102px,#c2ff3d 118px,#fff100 125px,#ffb200 136px,#ffd000 149px,#f6ff09 155px,#00f5ff 172px,#00aeff 180px,#00c0ff 189px,#0dfff2 195px,#fff600 209px,#ff9b00 218px,#ffa700 229px,#f2ff0d 236px,#0afff5 246px,#00c5ff 254px,#00eaff 261px,#25ffda 264px,#d6ff29 271px,#fbff04 277px,#85ff7a 289px,#80ff7f 311px)"></i><i style="width:3px;background:linear-gradient(#7fff80 0px,#6aff95 54px,#1effe1 82px,#45ffba 102px,#c0ff3f 118px,#fff300 125px,#ffb300 136px,#ffcf00 149px,#ecff13 156px,#00f6ff 172px,#00afff 180px,#00c0ff 189px,#0cfff3 195px,#fffa00 209px,#ff9c00 218px,#ffa500 229px,#f6ff09 236px,#00fbff 247px,#00c5ff 254px,#00eaff 261px,#23ffdc 264px,#e4ff1b 272px,#f8ff07 278px,#85ff7a 289px,#80ff7f 311px)"></i><i style="width:3px;background:linear-gradient(#7fff80 0px,#6bff94 52px,#19ffe6 80px,#3effc1 100px,#b7ff48 116px,#ffee00 124px,#ffaa00 135px,#ffc000 147px,#f2ff0d 155px,#00f0ff 171px,#00a6ff 179px,#00b9ff 188px,#08fff7 194px,#fff700 208px,#ff9400 217px,#ff9400 227px,#ffeb00 234px,#e7ff18 236px,#09fff6 245px,#00c0ff 252px,#00d7ff 259px,#08fff7 262px,#e8ff17 271px,#ffff00 277px,#86ff79 288px,#80ff7f 311px)"></i><i style="width:3px;background:linear-gradient(#7fff80 0px,#6aff95 52px,#18ffe7 79px,#3affc5 99px,#b5ff4a 116px,#fff000 124px,#ffab00 135px,#ffc500 148px,#f4ff0b 155px,#00f1ff 171px,#00a7ff 179px,#00b9ff 188px,#09fff6 194px,#fff700 208px,#ff9400 217px,#ff9400 227px,#ffeb00 234px,#e7ff18 236px,#0afff5 245px,#00c0ff 252px,#00d6ff 259px,#07fff8 262px,#e6ff19 271px,#fffe00 277px,#87ff78 288px,#80ff7f 311px)"></i><i style="width:3px;background:linear-gradient(#7fff80 0px,#6cff93 51px,#17ffe8 79px,#3affc5 99px,#b4ff4b 116px,#fff300 124px,#ffac00 135px,#ffc400 148px,#f6ff09 155px,#00f2ff 171px,#00a8ff 179px,#00baff 188px,#09fff6 194px,#fff700 208px,#ff9400 217px,#ff9400 227px,#ffeb00 234px,#e7ff18 236px,#0afff5 245px,#00c1ff 252px,#00d6ff 259px,#06fff9 262px,#e5ff1a 271px,#fffd00 277px,#88ff77 288px,#80ff7f 311px)"></i><i style="width:3px;background:linear-gradient(#7fff80 0px,#6cff93 50px,#16ffe9 78px,#39ffc6 98px,#baff45 116px,#fff700 123px,#ffab00 134px,#ffbf00 147px,#f1ff0e 155px,#00f8ff 170px,#00a8ff 178px,#00b6ff 187px,#03fffc 193px,#fffb00 207px,#ff9300 216px,#ff9700 227px,#f0ff0f 235px,#00fcff 245px,#00c1ff 251px,#00d1ff 258px,#12ffed 262px,#deff21 270px,#fff800 275px,#dfff20 280px,#8aff75 287px,#80ff7f 311px)"></i><i style="width:3px;background:linear-gradient(#7fff80 0px,#6bff94 51px,#18ffe7 79px,#3cffc3 99px,#b7ff48 117px,#fff200 125px,#ffae00 136px,#ffc800 149px,#f1ff0e 156px,#00fcff 171px,#00adff 179px,#00bbff 188px,#05fffa 194px,#fffe00 208px,#ff9800 217px,#ff9b00 228px,#efff10 236px,#01fffe 246px,#00c5ff 252px,#00d4ff 259px,#11ffee 263px,#eaff15 272px,#ffff00 278px,#87ff78 289px,#80ff7f 311px)"></i><i style="width:3px;background:linear-gradient(#7fff80 0px,#6cff93 50px,#18ffe7 78px,#3affc5 98px,#b6ff49 117px,#fff400 125px,#ffaf00 136px,#ffc700 149px,#f3ff0c 156px,#00fdff 171px,#00aeff 179px,#00bbff 188px,#05fffa 194px,#fffe00 208px,#ff9800 217px,#ff9b00 228px,#efff10 236px,#01fffe 246px,#00c5ff 252px,#00d5ff 259px,#12ffed 263px,#e9ff16 272px,#fffe00 278px,#87ff78 289px,#80ff7f 311px)"></i><i style="width:3px;background:linear-gradient(#7fff80 0px,#6bff94 50px,#18ffe7 78px,#3cffc3 98px,#b5ff4a 117px,#fff600 125px,#ffb000 136px,#ffc600 149px,#f5ff0a 156px,#00feff 171px,#00afff 179px,#00bcff 188px,#06fff9 194px,#fffe00 208px,#ff9800 217px,#ff9b00 228px,#efff10 236px,#01fffe 246px,#00c3ff 253px,#00dfff 260px,#11ffee 263px,#e8ff17 272px,#fffe00 278px,#86ff79 289px,#7fff80 311px)"></i><i style="width:3px;background:linear-gradient(#7fff80 0px,#6aff95 50px,#1affe5 77px,#40ffbf 98px,#b6ff49 117px,#ffee00 126px,#ffb300 137px,#ffcb00 149px,#f1ff0e 156px,#01fffe 171px,#00b4ff 179px,#00c2ff 188px,#0bfff4 194px,#feff01 208px,#ff9d00 217px,#ffa100 228px,#fffe00 235px,#02fffd 246px,#00c8ff 253px,#00e4ff 260px,#15ffea 263px,#e6ff19 272px,#faff05 278px,#7cff83 289px,#7fff80 311px)"></i><i style="width:3px;background:linear-gradient(#7fff80 0px,#6aff95 50px,#1cffe3 77px,#42ffbd 98px,#bdff42 118px,#fff200 126px,#ffb600 138px,#ffd500 150px,#efff10 156px,#00f7ff 172px,#00b7ff 180px,#00cdff 189px,#0afff5 194px,#fff600 209px,#ff9e00 218px,#ffab00 229px,#fffd00 235px,#09fff6 246px,#00cbff 254px,#00f1ff 261px,#26ffd9 264px,#e0ff1f 272px,#f9ff06 277px,#a6ff59 284px,#6fff90 291px,#7fff80 311px)"></i><i style="width:3px;background:linear-gradient(#7fff80 0px,#6bff94 49px,#1cffe3 77px,#44ffbb 98px,#bfff40 118px,#fff100 126px,#ffb700 138px,#ffd600 150px,#eeff11 156px,#00f7ff 172px,#00b7ff 180px,#00cdff 189px,#0bfff4 194px,#fff600 209px,#ff9e00 218px,#ffab00 229px,#fffd00 235px,#09fff6 246px,#00cbff 254px,#00f1ff 261px,#25ffda 264px,#deff21 272px,#f7ff08 277px,#b0ff4f 283px,#6bff94 289px,#7fff80 311px)"></i><i style="width:3px;background:linear-gradient(#7fff80 0px,#6aff95 49px,#1cffe3 76px,#42ffbd 97px,#b7ff48 117px,#fff000 126px,#ffb700 138px,#ffd700 150px,#edff12 156px,#00f7ff 172px,#00b8ff 180px,#00ceff 189px,#0bfff4 194px,#fff600 209px,#ff9e00 218px,#ffab00 229px,#fffd00 235px,#09fff6 246px,#00cbff 254px,#00f1ff 261px,#24ffdb 264px,#dcff23 272px,#f5ff0a 277px,#a9ff56 283px,#62ff9d 289px,#7fff80 311px)"></i><i style="width:3px;background:linear-gradient(#7fff80 0px,#6aff95 49px,#1effe1 77px,#47ffb8 98px,#bbff44 118px,#ffee00 127px,#ffbc00 139px,#ffe000 151px,#e4ff1b 157px,#00f4ff 173px,#00bdff 181px,#00d7ff 190px,#15ffea 195px,#fff300 210px,#ffa100 219px,#ffac00 229px,#f5ff0a 236px,#05fffa 247px,#00d0ff 255px,#0afff5 263px,#dfff20 273px,#eeff11 278px,#5cffa3 289px,#7fff80 311px)"></i><i style="width:3px;background:linear-gradient(#7fff80 0px,#6cff93 48px,#1effe1 76px,#45ffba 97px,#bcff43 118px,#fff600 126px,#ffbc00 138px,#ffda00 150px,#eeff11 156px,#00f5ff 173px,#00bdff 181px,#00d7ff 190px,#16ffe9 195px,#fff300 210px,#ffa100 219px,#ffac00 229px,#f5ff0a 236px,#05fffa 247px,#00d0ff 255px,#02fffd 262px,#e1ff1e 272px,#f4ff0b 277px,#9bff64 283px,#4fffb0 289px,#7fff80 308px,#7fff80 311px)"></i><i style="width:3px;background:linear-gradient(#7fff80 0px,#6aff95 48px,#1fffe0 75px,#44ffbb 96px,#bbff44 115px,#fff500 123px,#ffba00 135px,#ffd800 147px,#f1ff0e 153px,#00f3ff 172px,#00bbff 180px,#00d4ff 189px,#15ffea 194px,#feff01 207px,#ffa100 216px,#ffa900 227px,#feff01 234px,#00ffff 246px,#00ccff 253px,#00e4ff 259px,#17ffe8 262px,#dbff24 270px,#feff01 275px,#c4ff3b 280px,#58ffa7 286px,#49ffb6 292px,#7fff80 304px,#7fff80 311px)"></i><i style="width:3px;background:linear-gradient(#7fff80 0px,#6bff94 46px,#25ffda 74px,#4cffb3 94px,#c6ff39 109px,#fff200 115px,#ffac00 126px,#ffc600 138px,#f7ff08 145px,#00f8ff 166px,#00afff 174px,#00bdff 183px,#0dfff2 189px,#fff500 201px,#ff9200 209px,#ff9100 220px,#fbff04 229px,#00f8ff 241px,#00b8ff 248px,#00caff 255px,#0dfff2 259px,#eaff15 268px,#fff900 274px,#d1ff2e 278px,#53ffac 285px,#4cffb3 292px,#7fff80 304px,#7fff80 311px)"></i><i style="width:3px;background:linear-gradient(#7fff80 0px,#68ff97 46px,#2affd5 73px,#53ffac 93px,#c7ff38 106px,#fff600 111px,#ffa100 121px,#ffae00 133px,#f5ff0a 142px,#00fcff 161px,#00a4ff 169px,#00adff 179px,#00ffff 185px,#fff900 197px,#ff8500 205px,#ff7300 215px,#ffc100 223px,#edff12 227px,#00faff 237px,#00abff 243px,#00acff 251px,#0dfff2 257px,#e1ff1e 265px,#fff700 268px,#fffb00 274px,#4bffb4 285px,#52ffad 293px,#7fff80 304px,#7fff80 311px)"></i><i style="width:3px;background:linear-gradient(#7fff80 0px,#68ff97 45px,#30ffcf 72px,#5bffa4 92px,#cdff32 104px,#ffed00 109px,#ff9600 119px,#ffa600 130px,#f7ff08 139px,#00f1ff 158px,#0099ff 166px,#009fff 175px,#00fcff 182px,#fffb00 194px,#ff7e00 202px,#ff6200 211px,#ff9100 218px,#fdff02 224px,#00faff 234px,#00a0ff 240px,#009aff 248px,#00e8ff 254px,#17ffe8 256px,#e7ff18 264px,#ffeb00 268px,#f8ff07 275px,#55ffaa 284px,#47ffb8 291px,#7fff80 303px,#7fff80 311px)"></i><i style="width:3px;background:linear-gradient(#7fff80 0px,#68ff97 43px,#2fffd0 70px,#57ffa8 90px,#bfff40 102px,#ffea00 108px,#ff8900 118px,#ff9300 129px,#faff05 139px,#00feff 156px,#0089ff 165px,#008aff 174px,#00e6ff 181px,#27ffd8 184px,#faff05 193px,#ff6900 202px,#ff4a00 211px,#ff7d00 218px,#fff900 224px,#00ffff 233px,#0093ff 239px,#0084ff 247px,#00d0ff 253px,#02fffd 255px,#faff05 264px,#ffd800 270px,#fbff04 275px,#4dffb2 284px,#44ffbb 291px,#7fff80 303px,#7fff80 311px)"></i><i style="width:3px;background:linear-gradient(#7fff80 0px,#68ff97 42px,#35ffca 70px,#64ff9b 91px,#ceff31 103px,#ffea00 108px,#ff8c00 118px,#ff9700 129px,#f7ff08 139px,#00faff 156px,#008eff 164px,#0085ff 173px,#00d6ff 180px,#12ffed 183px,#fff400 194px,#ff6100 203px,#ff4900 212px,#ff8600 219px,#efff10 225px,#00ffff 233px,#0091ff 239px,#0083ff 247px,#00d4ff 253px,#06fff9 255px,#eaff15 263px,#ffdf00 267px,#ffe800 273px,#e6ff19 276px,#57ffa8 283px,#3fffc0 290px,#7eff81 302px,#7fff80 311px)"></i><i style="width:3px;background:linear-gradient(#7fff80 0px,#66ff99 41px,#38ffc7 68px,#6eff91 91px,#deff21 103px,#ffe800 107px,#ff8700 117px,#ff9100 128px,#fbff04 138px,#00f4ff 155px,#0085ff 163px,#007dff 172px,#00d0ff 179px,#0dfff2 182px,#fff800 193px,#ff5c00 202px,#ff3b00 210px,#ff6500 217px,#ffe300 223px,#feff01 224px,#00ffff 232px,#0089ff 238px,#0079ff 246px,#00cdff 252px,#02fffd 254px,#efff10 262px,#ffd100 269px,#ffff00 274px,#56ffa9 282px,#39ffc6 288px,#7fff80 302px,#7fff80 311px)"></i><i style="width:3px;background:linear-gradient(#7fff80 0px,#65ff9a 41px,#3fffc0 69px,#7fff80 93px,#fff700 106px,#ff8f00 116px,#ff9500 128px,#f9ff06 138px,#03fffc 154px,#0083ff 163px,#007eff 172px,#00d3ff 179px,#0ffff0 182px,#fffe00 193px,#ff5f00 202px,#ff3900 210px,#ff5f00 217px,#ffdc00 223px,#e5ff1a 225px,#01fffe 232px,#0088ff 238px,#0079ff 246px,#00d1ff 252px,#07fff8 254px,#f4ff0b 262px,#ffd000 269px,#feff01 274px,#54ffab 282px,#38ffc7 288px,#7eff81 301px,#7fff80 311px)"></i><i style="width:3px;background:linear-gradient(#7fff80 0px,#64ff9b 41px,#48ffb7 70px,#86ff79 92px,#fff700 104px,#ff9200 114px,#ff9900 126px,#f7ff08 136px,#00fbff 154px,#0081ff 163px,#0080ff 172px,#00ddff 179px,#1fffe0 182px,#f9ff06 191px,#ff5d00 200px,#ff3700 208px,#ff5b00 215px,#ffe700 222px,#ddff22 224px,#03fffc 231px,#0088ff 237px,#0072ff 245px,#00beff 251px,#0dfff2 254px,#f8ff07 262px,#ffcf00 268px,#fff000 273px,#d1ff2e 276px,#52ffad 282px,#3bffc4 289px,#7eff81 301px,#7fff80 311px)"></i><i style="width:3px;background:linear-gradient(#7fff80 0px,#63ff9c 44px,#5dffa2 77px,#9cff63 93px,#fff600 103px,#ffa800 113px,#ffbc00 125px,#f0ff0f 133px,#1bffe4 153px,#00ddff 157px,#0094ff 165px,#00aaff 174px,#0bfff4 180px,#fffd00 190px,#ff7400 198px,#ff5800 207px,#ff9500 215px,#f7ff08 221px,#00ffff 231px,#0094ff 238px,#008fff 246px,#00e0ff 252px,#13ffec 254px,#e9ff16 262px,#ffe200 267px,#f3ff0c 274px,#4effb1 283px,#44ffbb 290px,#7fff80 302px,#7fff80 311px)"></i><i style="width:3px;background:linear-gradient(#7fff80 0px,#5effa1 49px,#6fff90 82px,#bfff40 95px,#ffef00 102px,#ffa900 112px,#ffbd00 123px,#f2ff0d 131px,#25ffda 152px,#00e8ff 156px,#0096ff 164px,#00a4ff 173px,#00fdff 179px,#f7ff08 189px,#ff6d00 198px,#ff5700 207px,#ff9d00 215px,#fffc00 220px,#00f7ff 231px,#0091ff 238px,#008fff 246px,#00eaff 252px,#20ffdf 254px,#e2ff1d 261px,#fff000 264px,#ffe600 270px,#e8ff17 274px,#52ffad 282px,#3fffc0 289px,#7fff80 302px,#7fff80 311px)"></i><i style="width:3px;background:linear-gradient(#7fff80 0px,#64ff9b 74px,#98ff67 90px,#fff000 101px,#ffa100 111px,#ffb000 122px,#f3ff0c 131px,#2cffd3 152px,#00edff 156px,#008cff 164px,#008fff 173px,#0ffff0 181px,#fffd00 190px,#ff7100 197px,#ff4100 205px,#ff6400 213px,#f2ff0d 222px,#06fff9 231px,#0088ff 238px,#007aff 246px,#00b8ff 251px,#05fffa 254px,#f0ff0f 262px,#ffd700 269px,#f7ff08 274px,#4bffb4 283px,#3affc5 290px,#7eff81 302px,#7fff80 311px)"></i><i style="width:3px;background:linear-gradient(#7fff80 0px,#6cff93 75px,#a4ff5b 90px,#fff800 99px,#ffa600 109px,#ffb600 121px,#f8ff07 129px,#7fff80 143px,#19ffe6 153px,#00d9ff 157px,#0087ff 165px,#0099ff 174px,#00fcff 180px,#fff700 190px,#ff6d00 197px,#ff3f00 205px,#ff6500 213px,#fff800 221px,#00ffff 231px,#0085ff 238px,#007aff 246px,#00baff 251px,#09fff6 254px,#f3ff0c 262px,#ffd600 269px,#f8ff07 274px,#4affb5 283px,#3affc5 290px,#7eff81 302px,#7fff80 311px)"></i><i style="width:3px;background:linear-gradient(#7fff80 0px,#74ff8b 75px,#a8ff57 88px,#fff300 97px,#ffa400 107px,#ffb800 119px,#f3ff0c 127px,#86ff79 140px,#32ffcd 150px,#00f3ff 154px,#0086ff 163px,#008fff 172px,#00ffff 179px,#f4ff0b 188px,#ff5900 197px,#ff3900 205px,#ff6100 212px,#fff900 220px,#00f8ff 230px,#0088ff 236px,#0070ff 244px,#00a3ff 249px,#08fff7 253px,#f6ff09 261px,#ffd200 268px,#fdff02 273px,#4affb5 282px,#39ffc6 289px,#7eff81 301px,#7fff80 311px)"></i><i style="width:3px;background:linear-gradient(#7fff80 0px,#7dff82 79px,#baff45 91px,#fff500 98px,#ffa300 108px,#ffb400 120px,#f8ff07 128px,#86ff79 141px,#2affd5 151px,#00e9ff 155px,#0085ff 163px,#0086ff 172px,#00d9ff 178px,#08fff7 180px,#fffd00 189px,#ff6800 196px,#ff3400 203px,#ff4b00 211px,#ffb900 218px,#fdff02 221px,#06fff9 230px,#007dff 237px,#006bff 245px,#00a4ff 250px,#0efff1 254px,#e8ff17 261px,#ffe200 264px,#ffd100 270px,#ffff00 274px,#47ffb8 283px,#38ffc7 290px,#7eff81 302px,#7fff80 311px)"></i><i style="width:3px;background:linear-gradient(#7fff80 0px,#88ff77 83px,#d3ff2c 94px,#fff100 99px,#ffa400 109px,#ffb900 121px,#f2ff0d 129px,#27ffd8 151px,#00e5ff 155px,#0083ff 163px,#0088ff 172px,#00deff 178px,#27ffd8 181px,#fff800 189px,#ff6600 196px,#ff3400 203px,#ff4c00 211px,#ffbe00 218px,#f9ff06 221px,#00ffff 230px,#0085ff 236px,#0065ff 243px,#0093ff 249px,#0ffff0 254px,#e9ff16 261px,#ffee00 263px,#ffcc00 269px,#fffd00 274px,#48ffb7 283px,#38ffc7 290px,#7eff81 302px,#7fff80 311px)"></i><i style="width:3px;background:linear-gradient(#7fff80 0px,#8dff72 85px,#edff12 97px,#ffbc00 105px,#ffa100 116px,#ffe100 126px,#e3ff1c 131px,#33ffcc 150px,#00f2ff 154px,#0081ff 163px,#0087ff 172px,#0efff1 180px,#fffa00 189px,#ff5900 197px,#ff3100 205px,#ff6000 213px,#fcff03 221px,#00fcff 230px,#0081ff 236px,#0062ff 243px,#0091ff 249px,#0efff1 254px,#feff01 262px,#ffcb00 267px,#ffe800 273px,#ddff22 276px,#49ffb6 283px,#37ffc8 290px,#7dff82 301px,#7fff80 311px)"></i><i style="width:3px;background:linear-gradient(#80ff80 0px,#8fff70 86px,#f1ff0e 98px,#ffa400 111px,#ffb900 122px,#f5ff0a 130px,#30ffcf 150px,#00eeff 154px,#0086ff 162px,#0082ff 171px,#00e2ff 178px,#11ffee 180px,#fffa00 189px,#ff5b00 197px,#ff3100 205px,#ff5e00 213px,#fcff03 221px,#00f8ff 230px,#007eff 236px,#0060ff 243px,#0092ff 249px,#10ffef 254px,#ffff00 262px,#ffca00 267px,#ffe500 273px,#e0ff1f 276px,#4affb5 283px,#37ffc8 290px,#7dff82 301px,#7fff80 311px)"></i><i style="width:3px;background:linear-gradient(#80ff80 0px,#90ff6f 86px,#fff500 100px,#ffad00 110px,#ffc300 122px,#f6ff09 129px,#20ffdf 150px,#00efff 153px,#008bff 161px,#0089ff 170px,#00e8ff 177px,#16ffe9 179px,#feff01 188px,#ff6400 196px,#ff3a00 204px,#ff6400 212px,#fbff04 220px,#00faff 229px,#0082ff 235px,#0066ff 242px,#0098ff 248px,#00f5ff 252px,#fcff03 261px,#ffcc00 267px,#ffe600 272px,#e1ff1e 275px,#4dffb2 282px,#39ffc6 289px,#7dff82 300px,#7fff80 311px)"></i><i style="width:3px;background:linear-gradient(#80ff80 0px,#8eff71 86px,#f4ff0b 99px,#ffb600 112px,#ffd300 123px,#f2ff0d 129px,#23ffdc 150px,#00e5ff 154px,#0091ff 162px,#009dff 171px,#07fff8 178px,#fff200 189px,#ff6900 197px,#ff4c00 206px,#ff7c00 213px,#f7ff08 220px,#00ffff 229px,#008dff 235px,#0075ff 243px,#00b6ff 249px,#00fcff 252px,#f5ff0a 261px,#ffd300 268px,#f4ff0b 274px,#51ffae 282px,#3cffc3 289px,#7eff81 301px,#7fff80 311px)"></i><i style="width:3px;background:linear-gradient(#80ff80 0px,#8eff71 86px,#f1ff0e 99px,#ffb800 112px,#ffd300 123px,#f2ff0d 129px,#2effd1 149px,#00f0ff 153px,#0095ff 161px,#0098ff 170px,#0afff5 178px,#fff300 189px,#ff6b00 197px,#ff4b00 206px,#ff7b00 213px,#f7ff08 220px,#00fbff 229px,#008aff 235px,#0074ff 243px,#00b7ff 249px,#00feff 252px,#f5ff0a 261px,#ffd200 268px,#f7ff08 274px,#52ffad 282px,#38ffc7 288px,#7eff81 301px,#7fff80 311px)"></i><i style="width:3px;background:linear-gradient(#80ff80 0px,#8fff70 87px,#fff600 102px,#ffbc00 113px,#ffdb00 124px,#ebff14 130px,#22ffdd 150px,#00e4ff 154px,#0094ff 162px,#00a1ff 171px,#08fff7 178px,#fffd00 189px,#ff7300 197px,#ff4f00 205px,#ff7900 213px,#ffff00 220px,#03fffc 229px,#008eff 235px,#0076ff 243px,#00b5ff 249px,#00f8ff 252px,#fffe00 262px,#ffd300 268px,#fdff02 274px,#4cffb3 283px,#41ffbe 290px,#7eff81 301px,#7fff80 311px)"></i><i style="width:3px;background:linear-gradient(#80ff80 0px,#8eff71 87px,#ffef00 103px,#ffbd00 114px,#ffe200 125px,#ecff13 130px,#2dffd2 149px,#00f0ff 153px,#0097ff 161px,#009bff 170px,#0bfff4 178px,#fffe00 189px,#ff6a00 198px,#ff5000 207px,#ff8500 214px,#ffff00 220px,#00feff 229px,#008bff 235px,#0075ff 243px,#00b6ff 249px,#00f9ff 252px,#ffff00 262px,#ffd200 268px,#efff10 275px,#4fffb0 283px,#3cffc3 289px,#7eff81 301px,#7fff80 311px)"></i><i style="width:3px;background:linear-gradient(#80ff7f 0px,#8dff72 87px,#eeff11 100px,#ffc300 111px,#ffd400 123px,#edff12 130px,#27ffd8 149px,#00e9ff 153px,#0095ff 161px,#009eff 170px,#00fdff 177px,#fffd00 189px,#ff6a00 198px,#ff5000 207px,#ff8500 214px,#feff01 220px,#00f8ff 229px,#0087ff 235px,#0075ff 243px,#00b9ff 249px,#00fcff 252px,#fcff03 262px,#ffd100 268px,#f5ff0a 275px,#52ffad 283px,#3dffc2 289px,#7eff81 301px,#7fff80 311px)"></i><i style="width:3px;background:linear-gradient(#80ff7f 0px,#91ff6e 87px,#fff600 101px,#ffb100 111px,#ffc700 123px,#f3ff0c 130px,#23ffdc 147px,#00eeff 150px,#0082ff 158px,#007cff 167px,#00d2ff 174px,#10ffef 177px,#fff300 188px,#ff5000 197px,#ff2c00 205px,#ff5400 212px,#ffcf00 218px,#f4ff0b 220px,#09fff6 227px,#0079ff 233px,#0054ff 240px,#0083ff 246px,#09fff6 252px,#fffe00 261px,#ffc200 266px,#ffd100 272px,#f9ff06 275px,#56ffa9 282px,#32ffcd 288px,#7eff81 300px,#7fff80 311px)"></i><i style="width:3px;background:linear-gradient(#80ff7f 0px,#94ff6b 85px,#fff200 99px,#ffb100 110px,#ffcd00 121px,#edff12 128px,#28ffd7 145px,#00f4ff 148px,#0084ff 156px,#0079ff 165px,#00c9ff 172px,#06fff9 175px,#fffb00 186px,#ff5200 195px,#ff2900 203px,#ff4c00 210px,#ffda00 217px,#e9ff16 219px,#02fffd 226px,#0076ff 232px,#0054ff 239px,#0084ff 245px,#0cfff3 251px,#fffb00 260px,#ffc100 265px,#ffd000 271px,#fbff04 274px,#45ffba 282px,#30ffcf 288px,#7dff82 299px,#7fff80 311px)"></i><i style="width:3px;background:linear-gradient(#80ff7f 0px,#98ff67 83px,#fff800 96px,#ffb400 107px,#ffd300 119px,#f1ff0e 125px,#2dffd2 143px,#00e9ff 147px,#007fff 155px,#007bff 164px,#00d3ff 171px,#13ffec 174px,#fcff03 184px,#ff4800 194px,#ff2600 202px,#ff5100 209px,#ffe500 216px,#ddff22 218px,#00faff 225px,#0074ff 231px,#0054ff 238px,#0084ff 244px,#0ffff0 250px,#f1ff0e 258px,#ffbe00 265px,#ffdd00 271px,#fdff02 273px,#42ffbd 281px,#29ffd6 287px,#7dff82 299px,#7fff80 311px)"></i><i style="width:3px;background:linear-gradient(#80ff7f 0px,#98ff67 81px,#fff100 96px,#ffc500 107px,#ffea00 118px,#deff21 124px,#32ffcd 142px,#00f3ff 146px,#0091ff 154px,#0095ff 164px,#08fff7 172px,#fff300 184px,#ff5d00 193px,#ff4000 202px,#ff7500 209px,#f5ff0a 216px,#0dfff2 224px,#0082ff 231px,#006fff 239px,#00b2ff 245px,#0dfff2 249px,#f5ff0a 258px,#ffcd00 265px,#fff000 271px,#d3ff2c 274px,#40ffbf 281px,#2cffd3 287px,#7dff82 299px,#7fff80 311px)"></i><i style="width:3px;background:linear-gradient(#80ff7f 0px,#9bff64 82px,#fff600 96px,#ffc800 107px,#fff000 119px,#b1ff4e 129px,#1bffe4 142px,#00daff 146px,#0089ff 154px,#0098ff 163px,#00fdff 170px,#faff05 182px,#ff5a00 192px,#ff3e00 201px,#ff7400 208px,#f4ff0b 215px,#0cfff3 223px,#0081ff 230px,#006fff 238px,#00b3ff 244px,#0dfff2 248px,#f4ff0b 257px,#ffcd00 264px,#ffed00 270px,#d9ff26 273px,#42ffbd 280px,#28ffd7 286px,#7eff81 299px,#7fff80 311px)"></i><i style="width:3px;background:linear-gradient(#80ff7f 0px,#9eff61 82px,#fff600 95px,#ffbf00 106px,#ffe200 118px,#e3ff1c 124px,#24ffdb 139px,#00edff 142px,#0081ff 150px,#007bff 159px,#00cfff 166px,#09fff6 169px,#fffa00 181px,#ff4600 191px,#ff2500 199px,#ff5100 206px,#f9ff06 214px,#00f7ff 222px,#0076ff 228px,#005aff 235px,#008eff 241px,#00f9ff 246px,#fffe00 256px,#ffc200 262px,#ffd700 268px,#f4ff0b 271px,#3affc5 279px,#20ffdf 285px,#7cff83 297px,#7fff80 311px)"></i><i style="width:3px;background:linear-gradient(#80ff7f 0px,#94ff6b 68px,#a6ff59 84px,#fff200 96px,#ffc100 107px,#ffe800 119px,#daff25 125px,#1effe1 138px,#00e5ff 141px,#007cff 149px,#007dff 158px,#00e8ff 166px,#37ffc8 170px,#fff200 181px,#ff4200 191px,#ff2300 199px,#ff5300 206px,#ffd600 212px,#eaff15 214px,#00ffff 221px,#0079ff 227px,#005bff 234px,#008eff 240px,#11ffee 246px,#f8ff07 255px,#ffc100 262px,#ffdc00 268px,#ebff14 271px,#33ffcc 279px,#1effe1 285px,#7aff85 296px,#7fff80 311px)"></i><i style="width:3px;background:linear-gradient(#80ff7f 0px,#99ff66 65px,#9fff60 83px,#ffef00 97px,#ffc400 109px,#ffef00 120px,#ceff31 126px,#04fffb 138px,#007eff 147px,#0079ff 156px,#00deff 164px,#16ffe9 167px,#ffff00 180px,#ff3e00 191px,#ff2100 199px,#ff5500 206px,#fbff04 213px,#09fff6 220px,#007cff 226px,#005bff 233px,#008fff 239px,#0efff1 245px,#fffc00 255px,#ffc200 261px,#ffd500 267px,#f9ff06 270px,#39ffc6 278px,#1affe5 284px,#7bff84 296px,#7fff80 311px)"></i><i style="width:3px;background:linear-gradient(#80ff7f 0px,#9bff64 64px,#9cff63 83px,#ffee00 99px,#ffd400 112px,#f3ff0c 122px,#52ffad 133px,#00f0ff 138px,#0089ff 146px,#008dff 155px,#04fffb 164px,#feff01 180px,#ff4d00 191px,#ff3700 200px,#ff6d00 206px,#ffff00 212px,#00f7ff 220px,#008eff 225px,#006fff 232px,#00b0ff 239px,#00ffff 243px,#fffa00 255px,#ffcd00 261px,#ffe500 267px,#e6ff19 270px,#35ffca 278px,#20ffdf 284px,#7cff83 296px,#7fff80 311px)"></i><i style="width:3px;background:linear-gradient(#80ff7f 0px,#a3ff5c 62px,#a9ff56 80px,#fff200 93px,#ffc800 105px,#fff000 116px,#c6ff39 123px,#04fffb 135px,#007bff 144px,#0073ff 153px,#00d5ff 161px,#0cfff3 164px,#feff01 179px,#ff3a00 190px,#ff1900 198px,#ff4d00 205px,#ffe100 211px,#fbff04 212px,#00feff 219px,#0084ff 224px,#005aff 230px,#007aff 236px,#01fffe 243px,#fffe00 254px,#ffc100 260px,#ffda00 267px,#edff12 270px,#2dffd2 278px,#15ffea 284px,#7cff83 296px,#7fff80 311px)"></i><i style="width:3px;background:linear-gradient(#80ff7f 0px,#a8ff57 61px,#bcff43 77px,#ffef00 88px,#ffca00 100px,#f0ff0f 114px,#3affc5 130px,#00f2ff 134px,#007dff 142px,#0070ff 151px,#00bdff 158px,#06fff9 162px,#fffe00 176px,#ff3600 187px,#ff1600 195px,#ff4700 202px,#ffcd00 208px,#f2ff0d 210px,#04fffb 217px,#0079ff 223px,#0058ff 230px,#0089ff 236px,#03fffc 242px,#fffa00 253px,#ffc000 259px,#ffdc00 266px,#edff12 269px,#2dffd2 277px,#10ffef 283px,#7aff85 295px,#7fff80 311px)"></i><i style="width:3px;background:linear-gradient(#80ff7f 0px,#acff53 60px,#c3ff3c 76px,#fff200 86px,#ffcd00 99px,#f2ff0d 112px,#40ffbf 128px,#00f9ff 132px,#0077ff 141px,#0072ff 150px,#00d9ff 158px,#15ffea 161px,#fffd00 173px,#ff3e00 183px,#ff1300 191px,#ff3700 198px,#ffc000 205px,#fff800 207px,#0bfff4 215px,#0072ff 222px,#0058ff 229px,#0089ff 235px,#05fffa 241px,#f6ff09 251px,#ffc000 258px,#ffde00 265px,#ecff13 268px,#20ffdf 277px,#0efff1 283px,#7bff84 295px,#7fff80 311px)"></i><i style="width:3px;background:linear-gradient(#80ff7f 0px,#b0ff4f 59px,#c8ff37 75px,#fff200 85px,#ffd200 98px,#f5ff0a 110px,#49ffb6 126px,#00f1ff 131px,#007dff 139px,#0072ff 148px,#00c0ff 155px,#0cfff3 159px,#fff200 172px,#ff3a00 182px,#ff1600 190px,#ff4000 197px,#ffcc00 204px,#fbff04 206px,#09fff6 214px,#0075ff 221px,#005eff 229px,#00afff 236px,#08fff7 240px,#f8ff07 250px,#ffc200 257px,#ffe200 264px,#eaff15 267px,#24ffdb 276px,#0afff5 282px,#7cff83 295px,#7fff80 311px)"></i><i style="width:3px;background:linear-gradient(#80ff7f 0px,#adff52 62px,#daff25 77px,#ffef00 86px,#ffef00 102px,#dbff24 110px,#45ffba 126px,#00f6ff 131px,#0091ff 139px,#0090ff 149px,#0dfff2 158px,#fffe00 171px,#ff5400 181px,#ff3500 190px,#ff6800 197px,#f2ff0d 205px,#01fffe 214px,#0086ff 221px,#0079ff 229px,#00cbff 236px,#09fff6 239px,#fcff03 250px,#ffd200 257px,#f4ff0b 265px,#23ffdc 276px,#1affe5 283px,#7bff84 294px,#7fff80 311px)"></i><i style="width:3px;background:linear-gradient(#80ff7f 0px,#c7ff38 71px,#fff000 83px,#ffe300 98px,#f0ff0f 106px,#43ffbc 126px,#00f3ff 131px,#0089ff 139px,#0081ff 148px,#00cfff 155px,#1bffe4 159px,#fdff02 170px,#ff4c00 180px,#ff2800 188px,#ff4d00 195px,#ffe300 203px,#e8ff17 205px,#00f5ff 214px,#0085ff 220px,#006cff 228px,#00b3ff 235px,#05fffa 239px,#ffff00 250px,#ffcb00 256px,#ffe700 263px,#e8ff17 266px,#29ffd6 275px,#0dfff2 281px,#7bff84 294px,#7fff80 311px)"></i><i style="width:3px;background:linear-gradient(#80ff7f 0px,#c5ff3a 70px,#ffee00 83px,#ffe600 98px,#ebff14 106px,#44ffbb 126px,#00f6ff 131px,#0084ff 140px,#0086ff 149px,#08fff7 158px,#fff300 170px,#ff5000 179px,#ff2900 187px,#ff5800 195px,#f2ff0d 204px,#09fff6 213px,#007aff 221px,#0071ff 229px,#00c7ff 236px,#07fff8 239px,#fdff02 250px,#ffcb00 256px,#ffe600 263px,#e9ff16 266px,#26ffd9 275px,#0dfff2 281px,#7cff83 294px,#7fff80 311px)"></i><i style="width:3px;background:linear-gradient(#80ff7f 0px,#c5ff3a 71px,#ffef00 84px,#ffed00 100px,#deff21 108px,#47ffb8 126px,#00f9ff 131px,#0086ff 140px,#0086ff 149px,#00f0ff 157px,#6eff91 163px,#fff900 170px,#ff5400 179px,#ff2a00 187px,#ff5600 195px,#f6ff09 204px,#09fff6 213px,#007bff 221px,#0072ff 229px,#00caff 236px,#09fff6 239px,#fbff04 250px,#ffca00 257px,#ffe500 263px,#e9ff16 266px,#23ffdc 275px,#0efff1 281px,#79ff86 293px,#7fff80 311px)"></i><i style="width:3px;background:linear-gradient(#80ff7f 0px,#bfff40 71px,#fff300 85px,#fff500 101px,#7dff82 121px,#00feff 131px,#008fff 140px,#0096ff 150px,#08fff7 158px,#fbff04 170px,#ff5700 180px,#ff3800 189px,#ff6a00 196px,#f5ff0a 204px,#0afff5 213px,#0082ff 221px,#0083ff 230px,#00fcff 238px,#f9ff06 250px,#ffd000 257px,#ffeb00 263px,#e2ff1d 266px,#2fffd0 274px,#0ffff0 280px,#7bff84 293px,#7fff80 311px)"></i><i style="width:3px;background:linear-gradient(#80ff7f 0px,#aaff55 62px,#daff25 77px,#fff000 87px,#fff900 102px,#58ffa7 125px,#00f1ff 132px,#0091ff 140px,#0095ff 150px,#05fffa 158px,#fff800 171px,#ff5300 181px,#ff3a00 190px,#ff7200 197px,#fdff02 204px,#00f2ff 214px,#008bff 220px,#007aff 228px,#00c5ff 235px,#00feff 238px,#f7ff08 250px,#ffd000 258px,#f6ff09 265px,#2dffd2 274px,#10ffef 280px,#7bff84 293px,#7fff80 311px)"></i><i style="width:3px;background:linear-gradient(#80ff7f 0px,#aaff55 59px,#c9ff36 74px,#fff100 86px,#fff700 102px,#5effa1 124px,#00f6ff 131px,#0089ff 140px,#008cff 149px,#0bfff4 158px,#fff100 171px,#ff5500 180px,#ff3100 188px,#ff5500 195px,#ffd500 202px,#f6ff09 204px,#00f9ff 213px,#0089ff 219px,#0073ff 227px,#00bdff 234px,#0cfff3 238px,#fffb00 250px,#ffcc00 256px,#ffe200 262px,#ebff14 265px,#2dffd2 273px,#0cfff3 279px,#7bff84 292px,#7fff80 311px)"></i><i style="width:3px;background:linear-gradient(#80ff7f 0px,#a9ff56 58px,#c5ff3a 74px,#fff500 86px,#fff600 102px,#7eff81 121px,#00faff 131px,#008aff 140px,#008cff 149px,#07fff8 158px,#fffb00 171px,#ff5000 181px,#ff3300 190px,#ff6a00 197px,#feff01 204px,#00fbff 213px,#008aff 219px,#0075ff 227px,#00bfff 234px,#0efff1 238px,#fffc00 250px,#ffcb00 256px,#ffe000 262px,#ecff13 265px,#2cffd3 273px,#0dfff2 279px,#7bff84 292px,#7fff80 311px)"></i><i style="width:3px;background:linear-gradient(#80ff7f 0px,#a8ff57 58px,#c0ff3f 74px,#fff500 87px,#fffa00 103px,#57ffa8 125px,#00ecff 132px,#008cff 140px,#0093ff 150px,#04fffb 158px,#fff000 172px,#ff4d00 182px,#ff3600 191px,#ff7400 198px,#fff800 204px,#00feff 213px,#008bff 219px,#0076ff 227px,#00c2ff 234px,#0ffff0 238px,#fffd00 250px,#ffca00 256px,#ffdf00 262px,#ecff13 265px,#2affd5 273px,#0dfff2 279px,#79ff86 291px,#7fff80 311px)"></i><i style="width:3px;background:linear-gradient(#80ff7f 0px,#aaff55 59px,#bbff44 75px,#fff500 88px,#ffec00 103px,#e4ff1b 111px,#46ffb9 128px,#00f4ff 133px,#0086ff 141px,#007cff 150px,#00caff 157px,#02fffd 160px,#fff900 173px,#ff4600 183px,#ff2400 191px,#ff4e00 198px,#ffe000 205px,#e4ff1b 207px,#0afff5 214px,#007bff 221px,#006bff 229px,#00c1ff 236px,#00fdff 239px,#fbff04 251px,#ffbf00 258px,#ffdb00 264px,#fffe00 266px,#2fffd0 274px,#06fff9 280px,#7bff84 293px,#7fff80 311px)"></i><i style="width:3px;background:linear-gradient(#80ff7f 0px,#a8ff57 58px,#beff41 75px,#fff500 88px,#fff900 104px,#75ff8a 123px,#00f3ff 132px,#008aff 140px,#0089ff 150px,#0afff5 159px,#fdff02 171px,#ff4f00 181px,#ff2c00 189px,#ff5200 196px,#ffdc00 203px,#ebff14 205px,#00fbff 213px,#0086ff 219px,#006fff 227px,#00bcff 234px,#0afff5 238px,#feff01 250px,#ffc300 256px,#ffd500 262px,#f5ff0a 265px,#2affd5 273px,#0afff5 279px,#79ff86 291px,#7fff80 311px)"></i><i style="width:3px;background:linear-gradient(#80ff7f 0px,#a5ff5a 59px,#beff41 75px,#fff600 89px,#f2ff0d 106px,#4bffb4 127px,#00f0ff 133px,#0091ff 141px,#0096ff 151px,#08fff7 159px,#fff200 172px,#ff5a00 181px,#ff3a00 190px,#ff6c00 197px,#fffc00 204px,#04fffb 213px,#0087ff 220px,#007dff 228px,#00d1ff 235px,#0afff5 238px,#fffb00 251px,#ffc800 257px,#ffe300 263px,#e0ff1f 266px,#31ffce 273px,#0efff1 279px,#79ff86 291px,#7fff80 311px)"></i><i style="width:3px;background:linear-gradient(#80ff7f 0px,#a5ff5a 59px,#c3ff3c 75px,#fff600 89px,#f2ff0d 105px,#4cffb3 127px,#00f3ff 133px,#0092ff 141px,#0096ff 151px,#07fff8 159px,#feff01 171px,#ff5700 181px,#ff3c00 190px,#ff7300 197px,#f9ff06 204px,#00feff 213px,#0090ff 219px,#007aff 227px,#00c2ff 234px,#0cfff3 238px,#fffc00 251px,#ffc700 257px,#ffe300 263px,#deff21 266px,#30ffcf 273px,#10ffef 279px,#7aff85 291px,#7fff80 311px)"></i><i style="width:3px;background:linear-gradient(#80ff7f 0px,#a4ff5b 61px,#ccff33 77px,#fff800 90px,#f0ff0f 105px,#4effb1 128px,#00f7ff 134px,#0091ff 143px,#0099ff 152px,#07fff8 160px,#ffff00 172px,#ff6600 181px,#ff4300 189px,#ff7000 197px,#efff10 205px,#00fcff 214px,#0092ff 220px,#007eff 228px,#00c7ff 235px,#12ffed 239px,#ffff00 251px,#ffc800 257px,#ffe000 263px,#fdff02 265px,#35ffca 273px,#0dfff2 279px,#7bff84 292px,#7fff80 311px)"></i><i style="width:3px;background:linear-gradient(#80ff7f 0px,#bbff44 70px,#fff900 87px,#eeff11 102px,#4dffb2 128px,#00f9ff 134px,#0093ff 143px,#0099ff 152px,#0efff1 160px,#fff600 171px,#ff6f00 179px,#ff4d00 188px,#ff8500 196px,#f7ff08 203px,#05fffa 213px,#008fff 220px,#0084ff 229px,#00dcff 236px,#19ffe6 239px,#fff900 250px,#ffc600 256px,#ffe000 262px,#e6ff19 265px,#24ffdb 273px,#0bfff4 279px,#78ff87 291px,#7fff80 311px)"></i><i style="width:3px;background:linear-gradient(#80ff7f 0px,#bfff40 67px,#fff700 84px,#efff10 99px,#79ff86 122px,#2affd5 131px,#00edff 135px,#0092ff 143px,#0097ff 152px,#00fcff 159px,#f7ff08 169px,#ff6b00 178px,#ff5400 187px,#ff9600 195px,#feff01 201px,#00faff 213px,#008bff 220px,#0081ff 229px,#00ddff 236px,#1fffe0 239px,#f8ff07 248px,#ffc200 255px,#ffdd00 261px,#ffff00 263px,#25ffda 272px,#05fffa 278px,#7bff84 292px,#7fff80 311px)"></i><i style="width:3px;background:linear-gradient(#80ff7f 0px,#c1ff3e 64px,#fff800 81px,#eeff11 96px,#84ff7b 117px,#50ffaf 128px,#00f0ff 135px,#0094ff 143px,#009aff 152px,#0afff5 159px,#fbff04 168px,#ff7500 176px,#ff5e00 185px,#ff9e00 193px,#fdff02 199px,#00f2ff 213px,#008aff 220px,#0083ff 229px,#00e4ff 236px,#14ffeb 238px,#fcff03 247px,#ffc200 253px,#ffd400 259px,#fcff03 262px,#27ffd8 271px,#02fffd 277px,#49ffb6 285px,#7dff82 293px,#7fff80 311px)"></i><i style="width:3px;background:linear-gradient(#80ff7f 0px,#bbff44 60px,#fff900 78px,#eaff15 94px,#86ff79 114px,#5bffa4 127px,#00f3ff 135px,#0096ff 143px,#009eff 152px,#00feff 158px,#f7ff08 167px,#ff8400 174px,#ff6700 183px,#ffa300 191px,#eeff11 198px,#02fffd 212px,#008aff 220px,#0085ff 229px,#00d8ff 235px,#09fff6 237px,#feff01 246px,#ffc200 252px,#ffd700 258px,#e3ff1c 262px,#1bffe4 271px,#04fffb 278px,#7aff85 291px,#7fff80 311px)"></i><i style="width:3px;background:linear-gradient(#80ff7f 0px,#b6ff49 55px,#fff900 73px,#efff10 89px,#86ff79 110px,#5affa5 125px,#00f1ff 133px,#0092ff 141px,#0094ff 149px,#00eaff 155px,#1cffe3 157px,#fffb00 165px,#ff8900 171px,#ff6800 179px,#ff9900 187px,#edff12 195px,#00ffff 210px,#0084ff 218px,#007dff 227px,#00d6ff 233px,#0bfff4 235px,#f8ff07 243px,#ffbd00 249px,#ffcf00 255px,#eeff11 259px,#16ffe9 269px,#00fdff 276px,#78ff87 289px,#7fff80 311px)"></i><i style="width:3px;background:linear-gradient(#80ff7f 0px,#b0ff4f 54px,#faff05 75px,#d3ff2c 91px,#83ff7c 110px,#53ffac 122px,#00faff 129px,#0097ff 138px,#009eff 147px,#0cfff3 154px,#fcff03 163px,#ff8a00 170px,#ff7500 179px,#ffc500 188px,#edff12 193px,#00f0ff 209px,#007fff 217px,#0082ff 226px,#00e6ff 232px,#1effe1 234px,#efff10 241px,#ffba00 248px,#ffd300 254px,#e9ff16 258px,#1bffe4 268px,#00f9ff 274px,#21ffde 280px,#79ff86 289px,#7fff80 311px)"></i><i style="width:3px;background:linear-gradient(#80ff7f 0px,#acff53 55px,#eaff15 76px,#beff41 93px,#4cffb3 119px,#00f5ff 126px,#009cff 135px,#00a8ff 145px,#00feff 151px,#f7ff08 161px,#ff8b00 169px,#ff8300 179px,#fff200 189px,#1cffe3 205px,#00d0ff 209px,#007aff 216px,#0080ff 224px,#00deff 230px,#14ffeb 232px,#fdff02 240px,#ffbe00 245px,#ffcd00 252px,#f5ff0a 256px,#0efff1 268px,#06fff9 277px,#77ff88 288px,#7fff80 311px)"></i><i style="width:3px;background:linear-gradient(#80ff7f 0px,#a5ff5a 55px,#dbff24 77px,#a2ff5d 97px,#4cffb3 115px,#00edff 123px,#009eff 133px,#00b4ff 143px,#09fff6 149px,#fffd00 160px,#ff9600 167px,#ff8600 177px,#ffdb00 186px,#e8ff17 190px,#00f4ff 205px,#007fff 213px,#0081ff 222px,#00ddff 228px,#10ffef 230px,#f5ff0a 238px,#ffbb00 244px,#ffd100 251px,#eeff11 255px,#0afff5 267px,#0efff1 277px,#77ff88 287px,#7fff80 311px)"></i><i style="width:3px;background:linear-gradient(#80ff7f 0px,#a0ff5f 58px,#caff35 80px,#81ff7e 105px,#18ffe7 118px,#00deff 123px,#00a5ff 133px,#00c2ff 143px,#12ffed 149px,#fffa00 161px,#ff9700 169px,#ff9a00 180px,#f1ff0e 190px,#00f5ff 205px,#0082ff 213px,#0083ff 222px,#00dcff 228px,#27ffd8 231px,#fffe00 239px,#ffbe00 244px,#ffcc00 251px,#f9ff06 255px,#13ffec 267px,#00f4ff 274px,#19ffe6 279px,#77ff88 288px,#7fff80 311px)"></i><i style="width:3px;background:linear-gradient(#80ff7f 0px,#9aff65 59px,#bcff43 83px,#77ff88 104px,#00f3ff 118px,#00adff 129px,#00c5ff 140px,#07fff8 146px,#fffd00 160px,#ff9f00 168px,#ff9f00 179px,#f0ff0f 189px,#00fcff 203px,#0084ff 211px,#0081ff 220px,#00e9ff 227px,#1affe5 229px,#fff900 238px,#ffba00 244px,#ffd600 251px,#e7ff18 255px,#08fff7 267px,#00f8ff 275px,#79ff86 288px,#7fff80 311px)"></i><i style="width:3px;background:linear-gradient(#80ff7f 0px,#95ff6a 59px,#adff52 85px,#67ff98 102px,#00f6ff 114px,#00bcff 125px,#00d8ff 137px,#14ffeb 143px,#fff300 159px,#ffa600 168px,#ffbb00 179px,#f5ff0a 186px,#04fffb 200px,#008eff 208px,#008bff 217px,#00ecff 224px,#18ffe7 226px,#f5ff0a 235px,#ffc100 242px,#ffe000 249px,#f1ff0e 252px,#0afff5 265px,#0bfff4 275px,#75ff8a 285px,#7fff80 311px)"></i><i style="width:3px;background:linear-gradient(#80ff7f 0px,#94ff6b 61px,#9fff60 87px,#4cffb3 102px,#00f7ff 111px,#00c2ff 123px,#00e2ff 135px,#1cffe3 141px,#fff100 158px,#ffac00 167px,#ffc400 178px,#f8ff07 184px,#00f5ff 199px,#0090ff 206px,#0089ff 215px,#00e4ff 222px,#25ffda 225px,#f8ff07 234px,#ffc000 241px,#ffe000 248px,#f1ff0e 251px,#0afff5 264px,#06fff9 274px,#73ff8c 284px,#7fff80 311px)"></i><i style="width:3px;background:linear-gradient(#80ff7f 0px,#94ff6b 64px,#8fff70 88px,#1cffe3 104px,#00eaff 110px,#00caff 124px,#0ffff0 137px,#fffb00 156px,#ffb300 165px,#ffc600 176px,#eeff11 183px,#00ffff 197px,#008cff 205px,#008dff 214px,#02fffd 222px,#faff05 233px,#ffc200 239px,#ffd500 246px,#f1ff0e 250px,#0afff5 263px,#00f9ff 272px,#76ff89 284px,#7fff80 311px)"></i><i style="width:3px;background:linear-gradient(#80ff7f 0px,#87ff78 86px,#1bffe4 102px,#00e6ff 109px,#00d1ff 124px,#0cfff3 135px,#c9ff36 151px,#fff100 156px,#ffb000 165px,#ffc800 176px,#f7ff08 182px,#10ffef 197px,#008bff 206px,#008cff 215px,#05fffa 223px,#f6ff09 233px,#ffbe00 240px,#ffdc00 247px,#f5ff0a 250px,#0afff5 263px,#00f2ff 272px,#29ffd6 277px,#78ff87 285px,#7fff80 311px)"></i><i style="width:3px;background:linear-gradient(#80ff7f 0px,#7cff83 83px,#00f0ff 105px,#00d8ff 121px,#0dfff2 132px,#c1ff3e 149px,#ffee00 155px,#ffb000 164px,#ffcb00 175px,#f4ff0b 181px,#1fffe0 196px,#00e7ff 199px,#008dff 206px,#008fff 215px,#0cfff3 223px,#fffd00 233px,#ffbf00 239px,#ffd800 246px,#e8ff17 250px,#00feff 263px,#00eeff 271px,#16ffe9 275px,#76ff89 284px,#7fff80 311px)"></i><i style="width:3px;background:linear-gradient(#80ff7f 0px,#70ff8f 80px,#00f2ff 102px,#00e1ff 119px,#15ffea 130px,#b7ff48 148px,#ffef00 155px,#ffb100 164px,#ffca00 175px,#f5ff0a 181px,#1fffe0 196px,#00e7ff 199px,#008fff 206px,#0092ff 215px,#0efff1 223px,#ffff00 233px,#ffbf00 239px,#ffd600 246px,#eaff15 250px,#00ffff 262px,#00e7ff 269px,#10ffef 274px,#74ff8b 283px,#7fff80 311px)"></i><i style="width:3px;background:linear-gradient(#80ff80 0px,#70ff8f 78px,#00f3ff 101px,#00e6ff 119px,#17ffe8 129px,#b9ff46 148px,#ffef00 155px,#ffb200 165px,#ffcd00 175px,#f3ff0c 181px,#1bffe4 196px,#00d4ff 200px,#008dff 207px,#00a2ff 216px,#01fffe 222px,#ffff00 233px,#ffc000 239px,#ffd800 246px,#e5ff1a 250px,#01fffe 261px,#00e6ff 268px,#0efff1 273px,#74ff8b 282px,#7fff80 311px)"></i><i style="width:3px;background:linear-gradient(#80ff80 0px,#6fff90 76px,#00f0ff 98px,#00d7ff 115px,#0cfff3 127px,#b0ff4f 146px,#fff300 153px,#ffa800 162px,#ffb800 173px,#efff10 181px,#00feff 196px,#0088ff 204px,#0085ff 213px,#00e5ff 220px,#29ffd6 223px,#fff700 232px,#ffb200 238px,#ffcb00 245px,#fffe00 248px,#0afff5 258px,#00d6ff 265px,#0ffff0 272px,#71ff8e 280px,#80ff80 311px)"></i><i style="width:3px;background:linear-gradient(#80ff80 0px,#6fff90 75px,#00f3ff 97px,#00d7ff 114px,#0ffff0 127px,#bbff44 147px,#fff500 153px,#ffa900 162px,#ffb800 173px,#f0ff0f 181px,#00fdff 196px,#008aff 204px,#0088ff 213px,#00e8ff 220px,#14ffeb 222px,#fff900 232px,#ffb300 238px,#ffca00 245px,#ffff00 248px,#00feff 258px,#00d4ff 264px,#09fff6 271px,#6fff90 279px,#80ff80 311px)"></i><i style="width:3px;background:linear-gradient(#80ff80 0px,#6fff90 74px,#00f0ff 97px,#00d9ff 114px,#12ffed 127px,#b9ff46 147px,#fff700 153px,#ffa800 163px,#ffbf00 174px,#f2ff0d 181px,#00fdff 196px,#008cff 204px,#008cff 213px,#01fffe 221px,#fffc00 232px,#ffb300 238px,#ffc900 245px,#fffe00 248px,#0dfff2 257px,#00d3ff 264px,#0dfff2 271px,#70ff8f 279px,#80ff80 311px)"></i><i style="width:3px;background:linear-gradient(#80ff80 0px,#6fff90 73px,#00efff 96px,#00d7ff 113px,#0efff1 126px,#afff50 146px,#fff500 153px,#ffa800 162px,#ffb600 173px,#f3ff0c 181px,#00f7ff 196px,#0089ff 204px,#008cff 213px,#05fffa 221px,#fff800 232px,#ffb000 238px,#ffc700 245px,#fffe00 248px,#08fff7 257px,#00d0ff 263px,#00f1ff 269px,#76ff89 280px,#80ff80 311px)"></i><i style="width:3px;background:linear-gradient(#80ff80 0px,#6eff91 73px,#00f0ff 96px,#00daff 114px,#0efff1 126px,#b2ff4d 147px,#fff300 154px,#ffa900 163px,#ffb900 174px,#eeff11 182px,#03fffc 196px,#008fff 204px,#008dff 213px,#00fcff 221px,#f8ff07 232px,#ffaf00 239px,#ffc000 245px,#f7ff08 249px,#01fffe 258px,#00d2ff 263px,#00eaff 269px,#26ffd9 273px,#74ff8b 280px,#80ff80 311px)"></i><i style="width:3px;background:linear-gradient(#7fff80 0px,#6fff90 72px,#00f0ff 96px,#00dcff 114px,#0efff1 126px,#b7ff48 148px,#ffef00 155px,#ffa900 164px,#ffbd00 175px,#f5ff0a 182px,#00f8ff 197px,#008eff 205px,#0095ff 214px,#0cfff3 222px,#fffc00 233px,#ffb100 239px,#ffc500 246px,#fffa00 249px,#0afff5 258px,#00d1ff 265px,#0ffff0 272px,#71ff8e 280px,#80ff80 311px)"></i><i style="width:3px;background:linear-gradient(#7fff80 0px,#6dff92 72px,#00f3ff 95px,#00dcff 113px,#11ffee 126px,#b5ff4a 148px,#fff200 155px,#ffaa00 164px,#ffbc00 175px,#f7ff08 182px,#00f8ff 197px,#0096ff 204px,#0091ff 213px,#0ffff0 222px,#fffe00 233px,#ffb200 239px,#ffc400 246px,#eeff11 250px,#0bfff4 258px,#00d1ff 265px,#0ffff0 272px,#71ff8e 280px,#80ff80 311px)"></i><i style="width:3px;background:linear-gradient(#7fff80 0px,#6fff90 71px,#00f3ff 95px,#00dfff 114px,#11ffee 126px,#adff52 148px,#fff000 156px,#ffab00 165px,#ffbf00 176px,#f2ff0d 183px,#00f0ff 198px,#0096ff 205px,#0098ff 214px,#07fff8 222px,#fff800 234px,#ffb100 240px,#ffc800 247px,#feff01 250px,#04fffb 259px,#00d2ff 265px,#06fff9 272px,#6eff91 280px,#80ff80 311px)"></i><i style="width:3px;background:linear-gradient(#7fff80 0px,#6dff92 71px,#00f2ff 95px,#00e1ff 114px,#14ffeb 126px,#b6ff49 149px,#fff200 156px,#ffaa00 166px,#ffc600 177px,#f4ff0b 183px,#00f1ff 198px,#0098ff 205px,#009bff 214px,#0afff5 222px,#fffa00 234px,#ffb100 240px,#ffc600 247px,#fffd00 250px,#05fffa 259px,#00d2ff 265px,#06fff9 272px,#6eff91 280px,#80ff80 311px)"></i><i style="width:3px;background:linear-gradient(#7fff80 0px,#6dff92 70px,#00f4ff 94px,#00e1ff 113px,#11ffee 125px,#b4ff4b 149px,#fff500 156px,#ffac00 166px,#ffc600 177px,#f6ff09 183px,#00f1ff 198px,#009aff 205px,#009fff 214px,#0dfff2 222px,#fffd00 234px,#ffb200 240px,#ffc500 247px,#fffb00 250px,#06fff9 259px,#00d2ff 265px,#06fff9 272px,#6eff91 280px,#80ff80 311px)"></i><i style="width:3px;background:linear-gradient(#7fff80 0px,#6cff93 68px,#00f2ff 93px,#00e9ff 113px,#18ffe7 124px,#adff52 147px,#fff300 155px,#ffaf00 165px,#ffcc00 176px,#eeff11 182px,#00fbff 196px,#00a2ff 203px,#00a3ff 212px,#09fff6 220px,#fff600 233px,#ffb400 239px,#ffc200 245px,#f6ff09 249px,#00feff 258px,#00d4ff 264px,#11ffee 271px,#72ff8d 279px,#80ff80 311px)"></i><i style="width:3px;background:linear-gradient(#7fff80 0px,#6dff92 67px,#00f5ff 92px,#00e9ff 112px,#16ffe9 123px,#abff54 147px,#fff600 155px,#ffb000 165px,#ffcc00 176px,#efff10 182px,#00fcff 196px,#00a5ff 203px,#00a6ff 212px,#0cfff3 220px,#fff800 233px,#ffb400 239px,#ffcc00 246px,#f8ff07 249px,#00ffff 258px,#00d4ff 264px,#11ffee 271px,#72ff8d 279px,#80ff80 311px)"></i><i style="width:3px;background:linear-gradient(#7fff80 0px,#6dff92 66px,#00f3ff 92px,#00edff 113px,#1effe1 124px,#b4ff4b 148px,#ffee00 156px,#ffb000 166px,#ffcb00 176px,#f1ff0e 182px,#00fcff 196px,#00a7ff 203px,#00aaff 212px,#0ffff0 220px,#fffb00 233px,#ffb400 239px,#ffcb00 246px,#fbff04 249px,#01fffe 258px,#00d5ff 264px,#11ffee 271px,#72ff8d 279px,#80ff80 311px)"></i></div>
<div class="hm" style="left:96px;top:329px;width:773px;height:311px"><i style="width:3px;background:linear-gradient(#5effa1 0px,#16ffe9 39px,#3effc1 72px,#95ff6a 97px,#fff400 107px,#ffa100 116px,#ffac00 127px,#f1ff0e 136px,#8fff70 147px,#50ffaf 159px,#00ecff 166px,#00aeff 173px,#00c0ff 181px,#0ffff0 187px,#74ff8b 196px,#caff35 206px,#ffed00 210px,#ff8400 217px,#ff7f00 225px,#ffe000 232px,#e1ff1e 235px,#00ffff 248px,#00e1ff 256px,#0dfff2 262px,#76ff89 272px,#b4ff4b 296px,#91ff6e 311px)"></i><i style="width:3px;background:linear-gradient(#62ff9d 0px,#1dffe2 40px,#46ffb9 74px,#97ff68 98px,#fff900 108px,#ffad00 118px,#ffc400 129px,#f0ff0f 136px,#8cff73 148px,#4fffb0 160px,#00f1ff 167px,#00baff 175px,#00daff 183px,#0efff1 187px,#77ff88 197px,#cbff34 207px,#fff000 211px,#ff9300 218px,#ff9400 226px,#f9ff06 234px,#10ffef 248px,#00f4ff 259px,#3effc1 266px,#83ff7c 276px,#b0ff4f 299px,#91ff6e 311px)"></i><i style="width:3px;background:linear-gradient(#7bff84 0px,#35ffca 25px,#00fcff 46px,#1dffe2 67px,#c6ff39 99px,#ffef00 107px,#ff8400 122px,#ff9100 135px,#f2ff0d 145px,#00f8ff 156px,#0057ff 165px,#0021ff 175px,#0045ff 184px,#00dbff 194px,#1cffe3 197px,#fff800 207px,#ff6e00 215px,#ff4e00 223px,#ff7700 229px,#fdff02 235px,#00feff 243px,#00a4ff 248px,#00a4ff 254px,#02fffd 260px,#c3ff3c 270px,#dcff23 276px,#7bff84 289px,#80ff7f 311px)"></i><i style="width:3px;background:linear-gradient(#7bff84 0px,#35ffca 25px,#00fcff 45px,#19ffe6 66px,#bfff40 98px,#ffee00 107px,#ff8300 122px,#ff9100 135px,#f2ff0d 145px,#00f8ff 156px,#0057ff 165px,#0021ff 175px,#0046ff 184px,#00ddff 194px,#1dffe2 197px,#fff500 207px,#ff6c00 215px,#ff4c00 223px,#ff7700 229px,#fbff04 235px,#00fcff 243px,#00a5ff 248px,#00a5ff 254px,#04fffb 260px,#b7ff48 269px,#e0ff1f 275px,#79ff86 290px,#80ff7f 311px)"></i><i style="width:3px;background:linear-gradient(#7aff85 0px,#2fffd0 25px,#00f8ff 43px,#14ffeb 65px,#beff41 97px,#fff600 105px,#ff7e00 120px,#ff8100 133px,#ffdd00 142px,#eaff15 145px,#00fdff 155px,#0052ff 164px,#0017ff 173px,#002eff 182px,#00a8ff 191px,#11ffee 196px,#fff800 206px,#ff6500 214px,#ff3f00 222px,#ff6800 228px,#fff300 234px,#03fffc 242px,#00a1ff 247px,#009aff 253px,#0efff1 260px,#c3ff3c 269px,#e2ff1d 275px,#79ff86 289px,#80ff7f 311px)"></i><i style="width:3px;background:linear-gradient(#7aff85 0px,#2fffd0 25px,#00f8ff 43px,#14ffeb 65px,#afff50 91px,#ffee00 101px,#ff7a00 116px,#ff7b00 130px,#ffcf00 139px,#e9ff16 143px,#00ffff 153px,#0051ff 162px,#0012ff 171px,#0026ff 181px,#00a2ff 190px,#00faff 194px,#fffd00 204px,#ff6300 212px,#ff3b00 220px,#ff6a00 227px,#fffa00 233px,#00f7ff 241px,#0093ff 246px,#008aff 252px,#00e0ff 258px,#26ffd9 261px,#c4ff3b 269px,#e3ff1c 275px,#79ff86 289px,#80ff7f 311px)"></i><i style="width:3px;background:linear-gradient(#7bff84 0px,#35ffca 24px,#00f7ff 41px,#11ffee 65px,#91ff6e 82px,#fff000 93px,#ff7700 107px,#ff6f00 123px,#ffc500 134px,#eeff11 139px,#00f7ff 151px,#0043ff 161px,#0004ff 170px,#001dff 181px,#0081ff 188px,#00fdff 193px,#fff500 202px,#ff6300 209px,#ff3400 217px,#ff5700 224px,#ffcf00 230px,#f4ff0b 232px,#09fff6 239px,#007eff 245px,#006dff 251px,#00b5ff 257px,#10ffef 261px,#bbff44 269px,#e8ff17 275px,#79ff86 290px,#80ff7f 311px)"></i><i style="width:3px;background:linear-gradient(#7bff84 0px,#34ffcb 24px,#00f7ff 41px,#0efff1 64px,#8eff71 81px,#fff100 92px,#ff7700 106px,#ff6e00 122px,#ffc000 133px,#f6ff09 138px,#00f1ff 151px,#0041ff 161px,#0004ff 170px,#001eff 181px,#0083ff 188px,#00ffff 193px,#fff200 202px,#ff6100 209px,#ff3200 217px,#ff5600 224px,#ffd000 230px,#f2ff0d 232px,#06fff9 239px,#007dff 245px,#006dff 251px,#00b6ff 257px,#12ffed 261px,#bcff43 269px,#e8ff17 275px,#79ff86 290px,#80ff7f 311px)"></i><i style="width:3px;background:linear-gradient(#7bff84 0px,#34ffcb 24px,#00f7ff 41px,#0ffff0 64px,#8aff75 80px,#fff200 91px,#ff7600 105px,#ff6d00 121px,#ffbc00 132px,#edff12 138px,#00ffff 150px,#003eff 161px,#0003ff 170px,#001eff 181px,#0085ff 188px,#03fffc 193px,#f3ff0c 201px,#ff5f00 209px,#ff3000 217px,#ff5500 224px,#ffd100 230px,#f0ff0f 232px,#04fffb 239px,#007bff 245px,#006dff 251px,#00b8ff 257px,#00faff 260px,#bdff42 269px,#e9ff16 275px,#79ff86 290px,#80ff7f 311px)"></i><i style="width:3px;background:linear-gradient(#7bff84 0px,#33ffcc 25px,#00fcff 46px,#1dffe2 65px,#a0ff5f 82px,#ffef00 92px,#ff8500 106px,#ff8700 123px,#ffe300 134px,#f2ff0d 137px,#00f0ff 151px,#0048ff 162px,#001eff 172px,#0044ff 182px,#00c9ff 190px,#14ffeb 193px,#fff200 202px,#ff6f00 209px,#ff4600 217px,#ff6d00 224px,#fdff02 231px,#03fffc 239px,#008bff 245px,#0082ff 251px,#00e0ff 258px,#23ffdc 261px,#bdff42 269px,#e1ff1e 275px,#79ff86 290px,#80ff7f 311px)"></i><i style="width:3px;background:linear-gradient(#7bff84 0px,#33ffcc 25px,#00fcff 45px,#18ffe7 64px,#95ff6a 81px,#fff000 92px,#ff8500 106px,#ff8600 123px,#ffe100 134px,#e5ff1a 138px,#00f1ff 151px,#0048ff 162px,#001eff 172px,#0045ff 182px,#00caff 190px,#00fbff 192px,#f5ff0a 201px,#ff6d00 209px,#ff4500 217px,#ff6c00 224px,#fcff03 231px,#01fffe 239px,#008aff 245px,#0082ff 251px,#00e1ff 258px,#25ffda 261px,#bfff40 269px,#e2ff1d 275px,#79ff86 290px,#80ff7f 311px)"></i><i style="width:3px;background:linear-gradient(#7bff84 0px,#33ffcc 25px,#00fcff 45px,#18ffe7 64px,#95ff6a 81px,#fff100 92px,#ff8500 106px,#ff8500 123px,#ffde00 134px,#e7ff18 138px,#00f1ff 151px,#0052ff 161px,#001eff 171px,#003cff 181px,#00b6ff 189px,#00feff 192px,#f8ff07 201px,#ff6b00 209px,#ff4300 217px,#ff6b00 224px,#faff05 231px,#00feff 239px,#0089ff 245px,#0082ff 251px,#00e2ff 258px,#26ffd9 261px,#c0ff3f 269px,#e2ff1d 275px,#78ff87 290px,#80ff7f 311px)"></i><i style="width:3px;background:linear-gradient(#7bff84 0px,#37ffc8 24px,#00f8ff 43px,#11ffee 64px,#8eff71 81px,#fff500 92px,#ff7e00 106px,#ff7400 122px,#ffc100 133px,#f8ff07 138px,#00faff 151px,#0043ff 162px,#0010ff 172px,#0034ff 182px,#00b7ff 190px,#04fffb 193px,#fff700 202px,#ff6700 209px,#ff3500 217px,#ff5700 224px,#ffd000 230px,#f3ff0c 232px,#0cfff3 239px,#0086ff 245px,#0074ff 251px,#00bbff 257px,#00fcff 260px,#baff45 269px,#e8ff17 275px,#79ff86 290px,#80ff7f 311px)"></i><i style="width:3px;background:linear-gradient(#7bff84 0px,#36ffc9 24px,#00f8ff 43px,#11ffee 64px,#8eff71 81px,#fff600 92px,#ff7f00 106px,#ff7300 122px,#ffbe00 133px,#faff05 138px,#00faff 151px,#004eff 161px,#0013ff 170px,#002cff 181px,#00a3ff 189px,#07fff8 193px,#fff400 202px,#ff6500 209px,#ff3300 217px,#ff5600 224px,#ffd100 230px,#f1ff0e 232px,#09fff6 239px,#0085ff 245px,#0074ff 251px,#00bcff 257px,#00fdff 260px,#bcff43 269px,#e8ff17 275px,#79ff86 290px,#80ff7f 311px)"></i><i style="width:3px;background:linear-gradient(#7bff84 0px,#36ffc9 24px,#00f9ff 42px,#11ffee 64px,#8dff72 81px,#fff700 92px,#ff7f00 106px,#ff7200 122px,#ffbc00 133px,#ecff13 139px,#00fbff 151px,#004eff 161px,#0013ff 170px,#002cff 181px,#00a5ff 189px,#09fff6 193px,#fff200 202px,#ff6200 209px,#ff3200 217px,#ff5600 224px,#ffd200 230px,#f0ff0f 232px,#07fff8 239px,#0085ff 245px,#0074ff 251px,#00beff 257px,#00ffff 260px,#bdff42 269px,#e9ff16 275px,#79ff86 290px,#80ff7f 311px)"></i><i style="width:3px;background:linear-gradient(#7bff84 0px,#34ffcb 25px,#00faff 44px,#13ffec 64px,#94ff6b 82px,#fff300 93px,#ff8200 107px,#ff7c00 124px,#ffd400 135px,#f0ff0f 139px,#04fffb 151px,#004cff 162px,#001aff 172px,#003cff 182px,#00bdff 190px,#08fff7 193px,#fff800 202px,#ff6a00 209px,#ff3800 217px,#ff5900 224px,#ffd100 230px,#f2ff0d 232px,#0ffff0 239px,#0082ff 246px,#007fff 252px,#00d3ff 258px,#00ffff 260px,#baff45 269px,#e7ff18 275px,#78ff87 291px,#80ff7f 311px)"></i><i style="width:3px;background:linear-gradient(#7bff84 0px,#33ffcc 25px,#00faff 44px,#13ffec 64px,#93ff6c 82px,#fff400 93px,#ff7e00 108px,#ff7f00 125px,#ffdf00 136px,#f2ff0d 139px,#05fffa 151px,#004cff 162px,#001aff 172px,#003dff 182px,#00bfff 190px,#0afff5 193px,#fff600 202px,#ff6800 209px,#ff3600 217px,#ff5900 224px,#ffd200 230px,#f1ff0e 232px,#0dfff2 239px,#0082ff 246px,#007fff 252px,#00d4ff 258px,#01fffe 260px,#bbff44 269px,#e8ff17 275px,#78ff87 291px,#80ff7f 311px)"></i><i style="width:3px;background:linear-gradient(#79ff86 0px,#24ffdb 27px,#00fbff 47px,#21ffde 65px,#b8ff47 84px,#fff000 92px,#ff8400 106px,#ff8200 123px,#ffdd00 134px,#e5ff1a 138px,#00f8ff 150px,#0055ff 160px,#0022ff 170px,#0042ff 180px,#00bfff 188px,#08fff7 191px,#fffd00 200px,#ff6f00 207px,#ff3c00 215px,#ff5b00 222px,#ffd000 228px,#f4ff0b 230px,#00f7ff 238px,#0089ff 244px,#0083ff 250px,#00d4ff 256px,#00ffff 258px,#b7ff48 267px,#e6ff19 273px,#78ff87 289px,#80ff7f 311px)"></i><i style="width:3px;background:linear-gradient(#79ff86 0px,#23ffdc 27px,#00fbff 46px,#1dffe2 64px,#adff52 83px,#fff100 92px,#ff8100 107px,#ff8400 124px,#ffe800 135px,#d6ff29 139px,#00f8ff 150px,#0055ff 160px,#0022ff 170px,#0043ff 180px,#00c1ff 188px,#0bfff4 191px,#fffa00 200px,#ff6d00 207px,#ff3a00 215px,#ff5b00 222px,#ffd100 228px,#f3ff0c 230px,#00f6ff 238px,#0088ff 244px,#0083ff 250px,#00d5ff 256px,#01fffe 258px,#b9ff46 267px,#e7ff18 273px,#78ff87 289px,#80ff7f 311px)"></i><i style="width:3px;background:linear-gradient(#7aff85 0px,#2fffd0 25px,#00faff 44px,#17ffe8 64px,#9aff65 82px,#fff000 93px,#ff7e00 108px,#ff8000 125px,#ffd700 135px,#e9ff16 139px,#00f6ff 151px,#0051ff 161px,#001eff 171px,#0041ff 181px,#00c2ff 189px,#0dfff2 192px,#fff500 201px,#ff6700 208px,#ff3400 216px,#ff5800 223px,#ffd200 229px,#f0ff0f 231px,#0efff1 238px,#0085ff 245px,#0081ff 251px,#00d6ff 257px,#03fffc 259px,#bcff43 268px,#e8ff17 274px,#77ff88 290px,#80ff7f 311px)"></i><i style="width:3px;background:linear-gradient(#7aff85 0px,#2effd1 25px,#00f9ff 44px,#17ffe8 64px,#a3ff5c 83px,#fff100 93px,#ff7e00 108px,#ff7f00 125px,#ffd500 135px,#ebff14 139px,#00f7ff 151px,#0051ff 161px,#001eff 171px,#0041ff 181px,#00c4ff 189px,#0ffff0 192px,#fff200 201px,#ff6500 208px,#ff3300 216px,#ff5700 223px,#ffd400 229px,#eeff11 231px,#0cfff3 238px,#0084ff 245px,#0081ff 251px,#00d7ff 257px,#05fffa 259px,#bdff42 268px,#e9ff16 274px,#77ff88 290px,#80ff7f 311px)"></i><i style="width:3px;background:linear-gradient(#7aff85 0px,#2effd1 25px,#00f9ff 44px,#14ffeb 63px,#9aff65 81px,#fff800 91px,#ff7f00 106px,#ff7b00 123px,#ffd400 134px,#efff10 138px,#02fffd 150px,#004dff 161px,#001dff 171px,#0043ff 181px,#00c7ff 189px,#13ffec 192px,#f5ff0a 200px,#ff5600 209px,#ff3100 217px,#ff6600 224px,#fff400 230px,#09fff6 238px,#008dff 244px,#007bff 250px,#00c4ff 256px,#06fff9 259px,#beff41 268px,#eaff15 274px,#77ff88 290px,#80ff7f 311px)"></i><i style="width:3px;background:linear-gradient(#79ff86 0px,#29ffd6 25px,#00f7ff 41px,#10ffef 62px,#8aff75 78px,#fff600 89px,#ff7c00 103px,#ff6c00 119px,#ffb000 130px,#edff12 137px,#00feff 149px,#0047ff 160px,#0013ff 170px,#0037ff 180px,#00aaff 187px,#11ffee 191px,#fdff02 199px,#ff5600 207px,#ff2600 215px,#ff4f00 222px,#ffd300 228px,#edff12 230px,#04fffb 237px,#0083ff 243px,#006eff 249px,#00b4ff 255px,#0efff1 259px,#b9ff46 267px,#edff12 273px,#b2ff4d 281px,#76ff89 290px,#80ff7f 311px)"></i><i style="width:3px;background:linear-gradient(#79ff86 0px,#28ffd7 25px,#00f6ff 41px,#12ffed 62px,#95ff6a 78px,#fff200 88px,#ff7900 102px,#ff6f00 119px,#ffc700 131px,#f0ff0f 136px,#00f4ff 149px,#0043ff 160px,#0013ff 170px,#0032ff 179px,#00a0ff 186px,#06fff9 190px,#f5ff0a 198px,#ff5a00 206px,#ff2500 214px,#ff4a00 221px,#ffc800 227px,#faff05 229px,#00f3ff 237px,#007aff 243px,#006bff 249px,#00b4ff 255px,#10ffef 259px,#baff45 267px,#eeff11 273px,#b2ff4d 281px,#76ff89 290px,#80ff7f 311px)"></i><i style="width:3px;background:linear-gradient(#79ff86 0px,#27ffd8 25px,#00f4ff 40px,#11ffee 62px,#94ff6b 77px,#ffee00 87px,#ff7200 101px,#ff6800 118px,#ffc100 130px,#f8ff07 135px,#02fffd 148px,#0047ff 159px,#000cff 168px,#0025ff 178px,#008cff 185px,#0ffff0 190px,#fff900 198px,#ff5b00 205px,#ff1e00 213px,#ff3c00 220px,#ffb200 226px,#f1ff0e 229px,#05fffa 236px,#007bff 242px,#005eff 248px,#0099ff 254px,#09fff6 259px,#b9ff46 267px,#f1ff0e 273px,#c2ff3d 280px,#76ff89 290px,#80ff7f 311px)"></i><i style="width:3px;background:linear-gradient(#79ff86 0px,#26ffd9 25px,#00f4ff 40px,#0ffff0 61px,#89ff76 75px,#fff600 85px,#ff7400 99px,#ff6400 115px,#ffad00 127px,#f8ff07 134px,#00f7ff 148px,#0044ff 159px,#000bff 169px,#002aff 178px,#009aff 185px,#04fffb 189px,#fbff04 197px,#ff5100 205px,#ff1d00 213px,#ff4500 220px,#ffc400 226px,#fdff02 228px,#00f3ff 236px,#0072ff 242px,#005bff 248px,#0099ff 254px,#0bfff4 259px,#bbff44 267px,#f1ff0e 273px,#c2ff3d 280px,#76ff89 290px,#80ff7f 311px)"></i><i style="width:3px;background:linear-gradient(#79ff86 0px,#26ffd9 25px,#00f4ff 40px,#0dfff2 60px,#8aff75 74px,#fff100 84px,#ff7600 97px,#ff6200 113px,#ffb100 126px,#f6ff09 133px,#02fffd 147px,#0041ff 159px,#000cff 169px,#0030ff 178px,#00a9ff 185px,#00f9ff 188px,#f2ff0d 196px,#ff5700 204px,#ff1d00 212px,#ff4100 219px,#ffbb00 225px,#fff500 227px,#02fffd 235px,#0077ff 241px,#0056ff 247px,#0088ff 253px,#0cfff3 259px,#bcff43 267px,#f2ff0d 273px,#c2ff3d 280px,#76ff89 290px,#80ff7f 311px)"></i><i style="width:3px;background:linear-gradient(#79ff86 0px,#28ffd7 25px,#00f7ff 41px,#0ffff0 59px,#8aff75 73px,#fff200 83px,#ff7b00 96px,#ff6e00 113px,#ffc500 126px,#f2ff0d 132px,#00feff 147px,#0049ff 159px,#0018ff 169px,#0042ff 178px,#00beff 185px,#10ffef 188px,#ffff00 196px,#ff6700 203px,#ff2900 211px,#ff4700 218px,#ffd100 225px,#f3ff0c 227px,#00f7ff 235px,#0079ff 241px,#005cff 247px,#008fff 253px,#10ffef 259px,#bbff44 267px,#efff10 274px,#76ff89 290px,#80ff7f 311px)"></i><i style="width:3px;background:linear-gradient(#79ff86 0px,#23ffdc 26px,#00f6ff 42px,#15ffea 59px,#99ff66 73px,#ffef00 82px,#ff7a00 95px,#ff7000 112px,#ffc800 125px,#efff10 131px,#00f0ff 147px,#0043ff 159px,#0019ff 169px,#004dff 178px,#00d5ff 185px,#0dfff2 187px,#fcff03 195px,#ff5b00 203px,#ff2800 211px,#ff5200 218px,#ffe700 225px,#dcff23 227px,#01fffe 234px,#007cff 240px,#0058ff 246px,#0090ff 253px,#00faff 258px,#beff41 267px,#f0ff0f 274px,#76ff89 290px,#80ff7f 311px)"></i><i style="width:3px;background:linear-gradient(#7aff85 0px,#29ffd6 26px,#00fcff 45px,#1fffe0 60px,#a7ff58 74px,#fff100 82px,#ff8100 95px,#ff7a00 112px,#ffdd00 126px,#f3ff0c 130px,#00f3ff 147px,#004cff 159px,#0024ff 169px,#0055ff 178px,#00d8ff 185px,#0dfff2 187px,#f4ff0b 195px,#ff6400 203px,#ff2f00 212px,#ff6300 219px,#fffd00 226px,#00f2ff 235px,#007bff 241px,#0061ff 248px,#009bff 254px,#07fff8 259px,#c2ff3d 268px,#efff10 275px,#76ff89 291px,#80ff7f 311px)"></i><i style="width:3px;background:linear-gradient(#78ff87 0px,#1bffe4 26px,#00f1ff 40px,#0dfff2 57px,#8bff74 70px,#fff300 79px,#ff7300 91px,#ff5500 106px,#ff9600 119px,#f4ff0b 129px,#00fcff 144px,#002fff 157px,#0000fd 166px,#0022ff 175px,#009cff 182px,#0dfff2 186px,#efff10 193px,#ff5f00 200px,#ff1200 207px,#ff1500 214px,#ff6c00 220px,#fff400 225px,#00fbff 233px,#006aff 239px,#003cff 245px,#005eff 251px,#00f5ff 258px,#c9ff36 267px,#fdff02 273px,#ccff33 280px,#75ff8a 290px,#80ff7f 311px)"></i><i style="width:3px;background:linear-gradient(#77ff88 0px,#11ffee 28px,#00fcff 52px,#4dffb2 64px,#fff400 78px,#ff7300 90px,#ff5500 105px,#ff9700 118px,#f3ff0c 128px,#00fbff 143px,#002fff 156px,#0000fc 165px,#0020ff 174px,#0097ff 181px,#08fff7 185px,#fff600 193px,#ff4f00 200px,#ff0700 208px,#ff2000 215px,#ff9000 221px,#f7ff08 225px,#08fff7 232px,#005fff 239px,#0038ff 245px,#0060ff 251px,#00fdff 258px,#bfff40 266px,#fffe00 273px,#ccff33 280px,#75ff8a 290px,#80ff7f 311px)"></i><i style="width:3px;background:linear-gradient(#78ff87 0px,#00fdff 40px,#1effe1 57px,#aaff55 71px,#fff600 78px,#ff7d00 91px,#ff6f00 107px,#ffc000 120px,#efff10 127px,#00f9ff 143px,#0040ff 156px,#0017ff 166px,#0048ff 175px,#00caff 182px,#00ffff 184px,#fff300 193px,#ff5c00 200px,#ff1e00 208px,#ff3900 215px,#ffbf00 222px,#fff700 224px,#0afff5 232px,#0070ff 239px,#0053ff 245px,#0089ff 251px,#01fffe 256px,#f3ff0c 265px,#ffbf00 273px,#f8ff07 280px,#83ff7c 289px,#80ff7f 311px)"></i><i style="width:3px;background:linear-gradient(#75ff8a 0px,#00f9ff 36px,#10ffef 53px,#87ff78 66px,#fff900 75px,#ff7300 88px,#ff5c00 103px,#ffa500 116px,#f0ff0f 125px,#00feff 140px,#0035ff 153px,#0002ff 163px,#002bff 172px,#00a8ff 179px,#00faff 182px,#f8ff07 190px,#ff4800 198px,#ff0600 206px,#ff2200 213px,#ff9400 219px,#f3ff0c 223px,#07fff8 230px,#0061ff 237px,#003cff 243px,#0066ff 249px,#08fff7 256px,#ccff33 264px,#fff700 269px,#f4ff0b 276px,#78ff87 287px,#80ff7f 311px)"></i><i style="width:3px;background:linear-gradient(#76ff89 0px,#00fcff 39px,#1effe1 55px,#9fff60 68px,#fff100 76px,#ff7b00 88px,#ff6700 104px,#ffb500 117px,#f9ff06 124px,#00f0ff 141px,#0036ff 154px,#000dff 164px,#003eff 173px,#00c2ff 180px,#00f8ff 182px,#fff300 191px,#ff5400 198px,#ff0f00 206px,#ff2600 213px,#ff8f00 219px,#feff01 223px,#00f8ff 231px,#006fff 237px,#0044ff 243px,#0066ff 249px,#00fbff 256px,#d2ff2d 265px,#fff600 270px,#f3ff0c 277px,#78ff87 288px,#80ff7f 311px)"></i><i style="width:3px;background:linear-gradient(#75ff8a 0px,#00feff 38px,#1fffe0 54px,#a1ff5e 67px,#fff000 75px,#ff7c00 87px,#ff6a00 103px,#ffba00 116px,#f4ff0b 123px,#00ffff 139px,#0035ff 153px,#000cff 163px,#003cff 172px,#00beff 179px,#11ffee 182px,#fff800 190px,#ff5500 197px,#ff0d00 205px,#ff1f00 212px,#ff8400 218px,#fff300 222px,#05fffa 230px,#0065ff 237px,#0043ff 244px,#007aff 250px,#08fff7 256px,#cbff34 264px,#fff700 269px,#fff800 275px,#74ff8b 288px,#80ff7f 311px)"></i><i style="width:3px;background:linear-gradient(#74ff8b 0px,#01fffe 38px,#27ffd8 54px,#beff41 68px,#ffef00 74px,#ff7d00 86px,#ff6d00 102px,#ffc000 115px,#efff10 122px,#00fdff 138px,#0034ff 152px,#000bff 162px,#0039ff 171px,#00b9ff 178px,#0cfff3 181px,#fffc00 189px,#ff5700 196px,#ff0b00 204px,#ff1900 211px,#ff7900 217px,#f9ff06 222px,#11ffee 229px,#007aff 235px,#0041ff 241px,#0061ff 248px,#00f7ff 255px,#d5ff2a 264px,#fff800 268px,#fff100 274px,#d2ff2d 279px,#70ff8f 288px,#80ff7f 311px)"></i><i style="width:3px;background:linear-gradient(#73ff8c 0px,#00fdff 37px,#1fffe0 52px,#a3ff5c 65px,#fff900 72px,#ff7c00 84px,#ff6200 99px,#ffa900 112px,#efff10 121px,#00f8ff 137px,#0029ff 151px,#0000fc 160px,#0021ff 169px,#0095ff 176px,#01fffe 180px,#ffff00 188px,#ff4f00 195px,#ff0100 202px,#ff1000 211px,#ff7c00 217px,#fff200 221px,#00faff 229px,#0067ff 235px,#0033ff 241px,#004eff 247px,#00c6ff 253px,#00feff 255px,#cfff30 263px,#fff600 267px,#ffe600 273px,#efff10 277px,#70ff8f 287px,#72ff8d 296px,#80ff7f 311px)"></i><i style="width:3px;background:linear-gradient(#73ff8c 0px,#00feff 37px,#21ffde 52px,#a7ff58 65px,#fff600 72px,#ff7c00 84px,#ff6400 99px,#ffac00 112px,#f7ff08 120px,#00faff 136px,#0034ff 149px,#0000fc 158px,#001fff 168px,#0090ff 175px,#00fbff 179px,#faff05 187px,#ff3f00 195px,#fe0000 201px,#ff0900 210px,#ff7100 216px,#f9ff06 221px,#07fff8 228px,#005cff 235px,#0031ff 241px,#0052ff 247px,#0cfff3 255px,#d9ff26 263px,#fff000 267px,#ffe500 273px,#ecff13 277px,#6bff94 287px,#6fff90 296px,#7fff80 311px)"></i><i style="width:3px;background:linear-gradient(#72ff8d 0px,#00ffff 36px,#24ffdb 52px,#aaff55 65px,#fff400 72px,#ff7d00 84px,#ff6600 99px,#ffb000 112px,#f0ff0f 120px,#00fdff 135px,#0034ff 148px,#0000fc 157px,#001dff 167px,#008cff 174px,#00f5ff 178px,#f5ff0a 186px,#ff3100 195px,#f70000 201px,#ff0d00 210px,#ff7f00 216px,#fff700 220px,#00f3ff 228px,#0062ff 234px,#002fff 240px,#004aff 246px,#00c2ff 252px,#00faff 254px,#e3ff1c 263px,#fff200 266px,#ffdf00 272px,#e8ff17 277px,#66ff99 287px,#6cff93 296px,#7fff80 311px)"></i><i style="width:3px;background:linear-gradient(#6fff90 0px,#01fffe 35px,#25ffda 51px,#b9ff46 65px,#fff200 71px,#ff7d00 83px,#ff6900 99px,#ffbc00 112px,#ecff13 119px,#03fffc 133px,#0029ff 147px,#0000f9 155px,#0010ff 164px,#006fff 171px,#0afff5 177px,#fff400 185px,#ff4400 192px,#f90000 198px,#f10000 206px,#ff1d00 210px,#ffa500 216px,#f8ff07 219px,#04fffb 226px,#0058ff 233px,#002bff 239px,#004bff 245px,#00c9ff 251px,#03fffc 253px,#d8ff27 261px,#fff700 264px,#ffd900 270px,#f5ff0a 275px,#6aff95 285px,#5bffa4 292px,#7fff80 308px,#7fff80 311px)"></i><i style="width:3px;background:linear-gradient(#6eff91 0px,#02fffd 34px,#22ffdd 50px,#a2ff5d 63px,#fff000 71px,#ff7d00 83px,#ff6b00 99px,#ffc000 112px,#f3ff0c 118px,#00f2ff 133px,#002aff 146px,#0000f9 154px,#0016ff 164px,#0080ff 171px,#05fffa 176px,#fff900 184px,#ff4600 191px,#f80000 197px,#ec0000 205px,#ff1400 209px,#ff9900 215px,#fff800 218px,#11ffee 225px,#006fff 231px,#002cff 237px,#0042ff 244px,#00b9ff 250px,#10ffef 253px,#e2ff1d 261px,#fff000 264px,#ffd800 270px,#f2ff0d 275px,#65ff9a 285px,#57ffa8 292px,#7fff80 308px,#7fff80 311px)"></i><i style="width:3px;background:linear-gradient(#6dff92 0px,#03fffc 34px,#24ffdb 50px,#b2ff4d 64px,#ffee00 71px,#ff7e00 83px,#ff6e00 99px,#ffba00 111px,#faff05 117px,#00f6ff 132px,#0035ff 144px,#0000fa 152px,#0014ff 163px,#007cff 170px,#00feff 175px,#fffe00 183px,#ff4800 190px,#f70000 196px,#e70000 204px,#ff0c00 208px,#ff8c00 214px,#f2ff0d 218px,#00fcff 225px,#0063ff 231px,#0029ff 237px,#0046ff 244px,#00c4ff 250px,#00feff 252px,#d9ff26 260px,#fff400 263px,#ffd400 269px,#edff12 275px,#5fffa0 285px,#52ffad 292px,#7fff80 307px,#7fff80 311px)"></i><i style="width:3px;background:linear-gradient(#6cff93 0px,#06fff9 33px,#2affd5 50px,#b9ff46 64px,#fff600 70px,#ff8000 83px,#ff7400 99px,#ffc500 111px,#ecff13 117px,#00f5ff 131px,#0036ff 143px,#0000fc 152px,#0019ff 162px,#0081ff 169px,#04fffb 174px,#fffd00 182px,#ff3600 190px,#f80000 195px,#e90000 203px,#ff0d00 207px,#ff8b00 213px,#f6ff09 217px,#02fffd 224px,#0058ff 231px,#0029ff 238px,#0053ff 244px,#00f7ff 251px,#e7ff18 260px,#ffe200 264px,#ffdc00 270px,#f3ff0c 274px,#58ffa7 285px,#50ffaf 292px,#7fff80 307px,#7fff80 311px)"></i><i style="width:3px;background:linear-gradient(#6bff94 0px,#07fff8 33px,#28ffd7 49px,#b2ff4d 63px,#fff000 70px,#ff7e00 83px,#ff7500 99px,#ffcb00 111px,#f1ff0e 116px,#00f8ff 130px,#0036ff 142px,#0000fb 151px,#0016ff 161px,#007bff 168px,#00fbff 173px,#f9ff06 181px,#ff3a00 189px,#f90000 194px,#e50000 202px,#ff1400 207px,#ffb600 214px,#fff700 216px,#00f3ff 224px,#0060ff 230px,#002aff 236px,#0049ff 243px,#00c7ff 249px,#02fffd 251px,#dbff24 259px,#fff200 262px,#ffd300 268px,#f0ff0f 274px,#5fffa0 284px,#4cffb3 291px,#7fff80 306px,#7fff80 311px)"></i><i style="width:3px;background:linear-gradient(#68ff97 0px,#05fffa 32px,#25ffda 48px,#b1ff4e 62px,#ffef00 69px,#ff7700 82px,#ff6d00 98px,#ffc400 110px,#f5ff0a 115px,#00f0ff 129px,#002aff 141px,#0000f4 148px,#000bff 160px,#0075ff 167px,#00f9ff 172px,#feff01 180px,#ff2f00 188px,#f50000 192px,#d70000 201px,#ff0500 206px,#ff8b00 212px,#f0ff0f 216px,#00f6ff 223px,#005cff 229px,#0020ff 235px,#003cff 242px,#00b8ff 248px,#13ffec 251px,#ebff14 259px,#ffd400 264px,#ffdc00 270px,#ebff14 274px,#58ffa7 284px,#4cffb3 291px,#7fff80 306px,#7fff80 311px)"></i><i style="width:3px;background:linear-gradient(#67ff98 0px,#06fff9 31px,#29ffd6 48px,#b8ff47 62px,#fff600 68px,#ff7a00 81px,#ff6b00 97px,#ffc000 109px,#ebff14 115px,#00f3ff 128px,#002aff 140px,#0000f3 147px,#0011ff 160px,#0084ff 167px,#0ffff0 172px,#f5ff0a 179px,#ff2200 188px,#ed0000 192px,#d70000 201px,#ff0c00 206px,#ffb700 213px,#fffb00 215px,#0afff5 222px,#0054ff 229px,#001eff 235px,#0040ff 242px,#00c2ff 248px,#00fdff 250px,#deff21 258px,#ffed00 261px,#ffcb00 267px,#f8ff07 273px,#5fffa0 283px,#48ffb7 290px,#7fff80 305px,#7fff80 311px)"></i><i style="width:3px;background:linear-gradient(#69ff96 0px,#0bfff4 32px,#31ffce 49px,#cbff34 64px,#fff300 69px,#ff8000 82px,#ff7600 98px,#ffcd00 110px,#edff12 115px,#00fdff 128px,#0038ff 140px,#0000fc 149px,#0013ff 159px,#0072ff 166px,#0bfff4 172px,#fff700 180px,#ff3200 188px,#f40000 193px,#e70000 202px,#ff1000 206px,#ffb000 213px,#ecff13 216px,#00fbff 223px,#0066ff 229px,#002bff 235px,#0044ff 242px,#00baff 248px,#11ffee 251px,#e5ff1a 259px,#ffe100 263px,#ffd500 269px,#efff10 274px,#5cffa3 284px,#4affb5 291px,#7fff80 306px,#7fff80 311px)"></i><i style="width:3px;background:linear-gradient(#68ff97 0px,#0cfff3 32px,#34ffcb 49px,#d1ff2e 64px,#ffed00 69px,#ff7e00 82px,#ff7700 98px,#ffd300 110px,#f4ff0b 114px,#00f2ff 128px,#0032ff 140px,#0000fb 149px,#0018ff 159px,#007fff 166px,#00feff 171px,#fbff04 179px,#ff3800 187px,#f60000 192px,#e30000 201px,#ff1600 206px,#ffbd00 213px,#fffe00 215px,#0ffff0 222px,#004fff 230px,#0028ff 237px,#0056ff 243px,#00fcff 250px,#ebff14 259px,#ffd100 265px,#ffe700 271px,#ebff14 274px,#5affa5 284px,#4affb5 291px,#7fff80 306px,#7fff80 311px)"></i><i style="width:3px;background:linear-gradient(#67ff98 0px,#0efff1 31px,#32ffcd 48px,#caff35 63px,#fff400 68px,#ff8000 81px,#ff7600 97px,#ffcc00 109px,#ecff13 114px,#00fbff 127px,#0037ff 139px,#0000fd 148px,#0016ff 158px,#0077ff 165px,#00f3ff 170px,#efff10 178px,#ff6900 184px,#ff0300 190px,#dc0000 199px,#ff0d00 205px,#ffac00 212px,#f2ff0d 215px,#01fffe 222px,#0058ff 229px,#0027ff 236px,#004cff 242px,#07fff8 250px,#dfff20 258px,#ffee00 261px,#ffcd00 267px,#f8ff07 273px,#60ff9f 283px,#47ffb8 290px,#7fff80 306px,#7fff80 311px)"></i><i style="width:3px;background:linear-gradient(#69ff96 0px,#16ffe9 32px,#3effc1 49px,#e9ff16 66px,#ffdc00 71px,#ff8600 84px,#ff9100 100px,#f4ff0b 113px,#03fffc 127px,#0042ff 140px,#0015ff 150px,#0040ff 160px,#00cbff 168px,#00feff 170px,#fff700 179px,#ff4100 187px,#fc0000 194px,#ff0c00 203px,#ff8200 210px,#eeff11 215px,#0cfff3 222px,#005eff 230px,#003cff 237px,#006aff 243px,#0afff5 250px,#e8ff17 259px,#ffde00 264px,#ffe500 270px,#e6ff19 274px,#5cffa3 284px,#4fffb0 292px,#7fff80 307px,#7fff80 311px)"></i><i style="width:3px;background:linear-gradient(#65ff9a 0px,#15ffea 30px,#38ffc7 47px,#c8ff37 62px,#ffee00 68px,#ff8700 81px,#ff8800 98px,#ffee00 110px,#b5ff4a 116px,#00fbff 126px,#0043ff 138px,#000fff 148px,#0033ff 158px,#00a0ff 165px,#04fffb 169px,#f4ff0b 177px,#ff3600 186px,#f70000 192px,#f40000 200px,#ff2c00 205px,#ffd300 212px,#ecff13 214px,#07fff8 221px,#0065ff 228px,#0035ff 235px,#0065ff 242px,#08fff7 249px,#ebff14 258px,#ffd500 264px,#ffea00 270px,#d9ff26 274px,#5cffa3 283px,#4dffb2 291px,#7fff80 306px,#7fff80 311px)"></i><i style="width:3px;background:linear-gradient(#66ff99 0px,#11ffee 31px,#38ffc7 48px,#d2ff2d 63px,#ffed00 68px,#ff7e00 81px,#ff7700 97px,#ffc700 108px,#f2ff0d 113px,#00feff 126px,#003aff 138px,#0000fe 148px,#0020ff 158px,#008cff 165px,#10ffef 170px,#fff300 178px,#ff2d00 186px,#f60000 190px,#d90000 199px,#ff1200 205px,#ffb800 212px,#fff900 214px,#00f4ff 222px,#0061ff 228px,#0027ff 234px,#0041ff 241px,#00b6ff 247px,#0cfff3 250px,#e3ff1c 258px,#ffdf00 262px,#ffcc00 268px,#ecff13 274px,#58ffa7 284px,#47ffb8 291px,#7fff80 307px,#7fff80 311px)"></i><i style="width:3px;background:linear-gradient(#64ff9b 0px,#12ffed 30px,#36ffc9 47px,#cbff34 62px,#fff400 67px,#ff8000 80px,#ff7500 96px,#ffc100 107px,#faff05 112px,#00f3ff 126px,#0034ff 138px,#0000fe 148px,#0026ff 158px,#009aff 165px,#04fffb 169px,#ffff00 177px,#ff3300 185px,#f90000 189px,#d60000 198px,#ff0800 204px,#ffa700 211px,#f7ff08 214px,#07fff8 221px,#005aff 228px,#0025ff 235px,#0044ff 241px,#00bfff 247px,#00f8ff 249px,#eaff15 258px,#ffd300 263px,#ffd200 269px,#e8ff17 274px,#5effa1 283px,#44ffbb 290px,#7fff80 307px,#7fff80 311px)"></i><i style="width:3px;background:linear-gradient(#62ff9d 0px,#18ffe7 29px,#3cffc3 46px,#d8ff27 62px,#ffeb00 67px,#ff8700 80px,#ff8500 96px,#ffd900 107px,#efff10 111px,#00f2ff 125px,#003fff 137px,#0011ff 147px,#003cff 157px,#00b0ff 164px,#00fbff 167px,#fff600 176px,#ff3900 184px,#f60000 190px,#f20000 199px,#ff2e00 204px,#ffd800 211px,#e7ff18 213px,#03fffc 220px,#0063ff 227px,#0034ff 234px,#0064ff 241px,#06fff9 248px,#eaff15 257px,#ffd900 262px,#ffda00 268px,#f2ff0d 272px,#5effa1 282px,#49ffb6 290px,#7fff80 306px,#7fff80 311px)"></i><i style="width:3px;background:linear-gradient(#61ff9e 0px,#1dffe2 28px,#44ffbb 44px,#e4ff1b 60px,#ffe000 65px,#ff8300 78px,#ff8a00 94px,#ffed00 106px,#ccff33 111px,#00fcff 123px,#004aff 135px,#0012ff 145px,#0031ff 155px,#0096ff 162px,#00f6ff 166px,#fffc00 175px,#ff3d00 183px,#f70000 189px,#f00000 198px,#ff1900 202px,#ffb000 209px,#f3ff0c 212px,#10ffef 219px,#005aff 227px,#0033ff 234px,#005cff 240px,#00f6ff 247px,#f1ff0e 257px,#ffce00 265px,#fbff04 271px,#59ffa6 282px,#48ffb7 290px,#7fff80 306px,#7fff80 311px)"></i><i style="width:3px;background:linear-gradient(#60ff9f 0px,#22ffdd 27px,#52ffad 43px,#fff600 60px,#ff8900 73px,#ff8100 89px,#ffdc00 102px,#f2ff0d 106px,#00f7ff 122px,#0040ff 135px,#0010ff 146px,#0040ff 156px,#00baff 163px,#08fff7 166px,#f9ff06 174px,#ff2f00 183px,#f60000 188px,#e90000 197px,#ff0f00 201px,#ffa000 208px,#fff900 211px,#02fffd 219px,#0060ff 226px,#0030ff 233px,#005fff 240px,#00ffff 247px,#e6ff19 256px,#ffe100 260px,#ffd000 266px,#f7ff08 271px,#5dffa2 281px,#43ffbc 289px,#7eff81 305px,#7fff80 311px)"></i><i style="width:3px;background:linear-gradient(#5fffa0 0px,#26ffd9 27px,#53ffac 42px,#fff800 59px,#ff8a00 72px,#ff8200 89px,#ffe200 102px,#ddff22 107px,#00fdff 121px,#0044ff 134px,#0011ff 144px,#0034ff 154px,#009fff 161px,#03fffc 165px,#f3ff0c 173px,#ff3200 182px,#f70000 187px,#e70000 196px,#ff0b00 200px,#ff9700 207px,#f1ff0e 211px,#0ffff0 218px,#0058ff 226px,#0030ff 233px,#0067ff 240px,#0efff1 247px,#dcff23 255px,#fff300 258px,#ffce00 265px,#f0ff0f 271px,#58ffa7 281px,#42ffbd 289px,#7eff81 305px,#7fff80 311px)"></i><i style="width:3px;background:linear-gradient(#59ffa6 0px,#26ffd9 25px,#54ffab 40px,#fff400 57px,#ff8000 70px,#ff7400 86px,#ffcc00 99px,#f4ff0b 104px,#00fdff 119px,#003bff 132px,#0003ff 142px,#0027ff 152px,#0095ff 159px,#00fbff 163px,#f6ff09 171px,#ff2600 180px,#f00000 184px,#d20000 193px,#ff0700 199px,#ffa300 206px,#feff01 209px,#00f3ff 217px,#0050ff 224px,#0022ff 231px,#0056ff 238px,#00fdff 245px,#eaff15 254px,#ffd200 259px,#ffcf00 265px,#eaff15 270px,#59ffa6 279px,#3dffc2 287px,#7eff81 303px,#7fff80 311px)"></i><i style="width:3px;background:linear-gradient(#5fffa0 0px,#30ffcf 27px,#61ff9e 42px,#fff900 58px,#ff8900 72px,#ff8800 89px,#ffeb00 102px,#d3ff2c 107px,#00f3ff 121px,#0043ff 134px,#0019ff 145px,#0047ff 154px,#00d5ff 162px,#0afff5 164px,#f6ff09 172px,#ff3500 181px,#f50000 187px,#f20000 196px,#ff2c00 201px,#f5ff0a 210px,#00fbff 218px,#0061ff 225px,#0034ff 232px,#0065ff 239px,#02fffd 246px,#e2ff1d 255px,#fff000 258px,#ffd200 265px,#f7ff08 270px,#5bffa4 280px,#3effc1 288px,#7eff81 305px,#7fff80 311px)"></i><i style="width:3px;background:linear-gradient(#5effa1 0px,#33ffcc 27px,#68ff97 42px,#fff000 58px,#ff8400 72px,#ff8600 89px,#ffee00 102px,#c0ff3f 108px,#00fbff 120px,#0045ff 133px,#0016ff 143px,#003fff 153px,#00b2ff 160px,#00fcff 163px,#fff600 172px,#ff3800 180px,#fa0000 185px,#e50000 194px,#ff1100 199px,#ff9f00 206px,#fff500 209px,#0dfff2 217px,#0059ff 225px,#0030ff 232px,#0066ff 239px,#08fff7 246px,#e7ff18 255px,#ffe200 259px,#ffd100 265px,#f6ff09 270px,#58ffa7 280px,#3dffc2 288px,#7eff81 305px,#7fff80 311px)"></i><i style="width:3px;background:linear-gradient(#5dffa2 0px,#38ffc7 27px,#71ff8e 42px,#fff300 57px,#ff8500 71px,#ff8400 88px,#ffe800 101px,#e3ff1c 105px,#00f1ff 120px,#0040ff 133px,#0017ff 143px,#0048ff 153px,#00c2ff 160px,#10ffef 163px,#ffff00 171px,#ff3d00 179px,#fc0000 184px,#e20000 193px,#ff0b00 198px,#ff9300 205px,#f9ff06 209px,#00feff 217px,#0060ff 224px,#002fff 231px,#005dff 238px,#00f6ff 245px,#edff12 255px,#ffcd00 264px,#f1ff0e 270px,#56ffa9 280px,#3dffc2 288px,#7eff81 305px,#7fff80 311px)"></i><i style="width:3px;background:linear-gradient(#5dffa2 0px,#3cffc3 27px,#79ff86 42px,#fff600 56px,#ff8700 70px,#ff8300 87px,#ffe300 100px,#e9ff16 104px,#00f8ff 119px,#0044ff 132px,#0017ff 142px,#0045ff 152px,#00bbff 159px,#08fff7 162px,#f6ff09 170px,#ff3100 179px,#f60000 184px,#e30000 193px,#ff1200 198px,#ffa100 205px,#fff600 208px,#0efff1 216px,#005aff 224px,#002fff 231px,#0062ff 238px,#01fffe 245px,#e2ff1d 254px,#ffef00 257px,#ffcb00 263px,#edff12 270px,#53ffac 280px,#3dffc2 288px,#7eff81 305px,#7fff80 311px)"></i><i style="width:3px;background:linear-gradient(#5affa5 0px,#41ffbe 26px,#83ff7c 41px,#fff300 54px,#ff8300 68px,#ff7e00 85px,#ffde00 98px,#eeff11 102px,#00fcff 117px,#0043ff 130px,#0013ff 140px,#003dff 150px,#00b1ff 157px,#00fcff 160px,#fff200 169px,#ff3100 177px,#f10000 182px,#da0000 191px,#ff1300 197px,#ffc700 205px,#fbff04 207px,#00feff 215px,#005dff 222px,#0029ff 229px,#0054ff 236px,#09fff6 244px,#eaff15 253px,#ffcd00 259px,#ffda00 265px,#eaff15 269px,#59ffa6 278px,#39ffc6 286px,#7eff81 304px,#7fff80 311px)"></i><i style="width:3px;background:linear-gradient(#5cffa3 0px,#47ffb8 27px,#90ff6f 42px,#fff200 54px,#ff8500 68px,#ff8100 85px,#ffdf00 98px,#edff12 102px,#01fffe 117px,#0040ff 131px,#0017ff 141px,#004aff 151px,#00c6ff 158px,#00f9ff 160px,#fff900 169px,#ff3800 177px,#f70000 182px,#dc0000 191px,#ff1200 197px,#ffc000 205px,#fffa00 207px,#0cfff3 215px,#0057ff 223px,#002cff 230px,#005eff 237px,#00fbff 244px,#e0ff1f 253px,#ffef00 256px,#ffca00 263px,#f4ff0b 269px,#55ffaa 279px,#3dffc2 288px,#7eff81 305px,#7fff80 311px)"></i><i style="width:3px;background:linear-gradient(#5dffa2 0px,#4dffb2 27px,#9cff63 42px,#fff100 53px,#ff8500 67px,#ff8000 84px,#ffde00 97px,#efff10 101px,#00f4ff 117px,#0044ff 130px,#0018ff 140px,#0048ff 150px,#00c0ff 157px,#0dfff2 160px,#fbff04 168px,#ff2c00 177px,#f10000 182px,#de0000 191px,#ff0b00 196px,#ffb300 204px,#f4ff0b 207px,#00fdff 215px,#005fff 222px,#002bff 229px,#0055ff 236px,#06fff9 244px,#e7ff18 253px,#ffe000 257px,#ffca00 263px,#efff10 269px,#53ffac 279px,#3dffc2 288px,#7eff81 304px,#7fff80 311px)"></i><i style="width:3px;background:linear-gradient(#5fffa0 0px,#54ffab 27px,#a3ff5c 42px,#fff800 52px,#ff8b00 67px,#ff9000 85px,#f0ff0f 100px,#00f3ff 117px,#004dff 130px,#0027ff 141px,#0058ff 150px,#00e8ff 158px,#1cffe3 160px,#fffc00 168px,#ff4200 176px,#fc0000 182px,#ed0000 191px,#ff1c00 196px,#ffc000 204px,#fff700 206px,#00fcff 215px,#0067ff 222px,#0037ff 229px,#0061ff 236px,#0dfff2 244px,#e4ff1b 253px,#ffe500 257px,#ffd000 263px,#ecff13 269px,#54ffab 279px,#3fffc0 288px,#7eff81 305px,#7fff80 311px)"></i><i style="width:3px;background:linear-gradient(#60ff9f 0px,#5affa5 28px,#aeff51 43px,#ffef00 53px,#ff8900 68px,#ff8e00 85px,#fff400 98px,#5fffa0 110px,#00edff 117px,#0049ff 130px,#0028ff 141px,#005cff 150px,#0bfff4 159px,#fff200 168px,#ff3b00 176px,#f70000 182px,#ec0000 191px,#ff1d00 196px,#ffc400 204px,#fffc00 206px,#00f6ff 215px,#0063ff 222px,#0036ff 229px,#0062ff 236px,#00f5ff 243px,#e9ff16 253px,#ffd800 258px,#ffd300 264px,#edff12 269px,#55ffaa 279px,#3fffc0 288px,#7eff81 305px,#7fff80 311px)"></i><i style="width:3px;background:linear-gradient(#5dffa2 0px,#61ff9e 28px,#c1ff3e 43px,#fff400 50px,#ff7d00 65px,#ff7700 82px,#ffcd00 94px,#f0ff0f 99px,#02fffd 113px,#0040ff 126px,#000cff 136px,#0031ff 146px,#009fff 153px,#05fffa 157px,#fdff02 165px,#ff3000 173px,#f10000 177px,#c10000 186px,#ef0000 193px,#ff3400 197px,#fff100 204px,#09fff6 212px,#004cff 220px,#001bff 227px,#004aff 234px,#07fff8 242px,#f4ff0b 251px,#ffb900 259px,#ffe200 265px,#e9ff16 268px,#55ffaa 277px,#38ffc7 285px,#7eff81 303px,#7fff80 311px)"></i><i style="width:3px;background:linear-gradient(#61ff9e 0px,#68ff97 29px,#c8ff37 44px,#fff000 51px,#ff7d00 66px,#ff7b00 83px,#ffd900 95px,#efff10 99px,#00faff 113px,#0045ff 125px,#000dff 135px,#002cff 145px,#0090ff 152px,#0dfff2 157px,#fff900 165px,#ff2a00 173px,#ec0000 177px,#c00000 186px,#ee0000 193px,#ff3400 197px,#fff300 204px,#04fffb 212px,#0058ff 219px,#001bff 226px,#003cff 233px,#00b3ff 239px,#0afff5 242px,#e5ff1a 250px,#ffd800 254px,#ffb600 260px,#ffef00 266px,#c5ff3a 270px,#4effb1 278px,#3bffc4 286px,#7eff81 303px,#7fff80 311px)"></i><i style="width:3px;background:linear-gradient(#68ff97 0px,#75ff8a 33px,#dfff20 49px,#ffe700 55px,#ff8900 70px,#ff9500 87px,#efff10 100px,#00f3ff 115px,#004fff 127px,#0024ff 138px,#0051ff 148px,#00dbff 156px,#29ffd6 159px,#f6ff09 166px,#ff3100 175px,#f20000 180px,#df0000 190px,#ff0d00 195px,#ff9a00 202px,#f1ff0e 206px,#00f8ff 214px,#005fff 221px,#002fff 228px,#0056ff 235px,#05fffa 243px,#ecff13 252px,#ffd000 257px,#ffc400 263px,#f1ff0e 269px,#57ffa8 279px,#3fffc0 287px,#7fff80 305px,#7fff80 311px)"></i><i style="width:3px;background:linear-gradient(#6bff94 0px,#7cff83 33px,#f0ff0f 50px,#ff8c00 69px,#ff9800 86px,#efff10 99px,#00f6ff 114px,#0052ff 126px,#0025ff 137px,#004dff 147px,#00cfff 155px,#01fffe 157px,#fffb00 166px,#ff3a00 174px,#f60000 179px,#dc0000 189px,#ff1000 195px,#ffa100 202px,#fff700 205px,#0dfff2 213px,#005bff 221px,#002eff 228px,#0059ff 235px,#0cfff3 243px,#f2ff0d 252px,#ffbd00 261px,#ffee00 267px,#cbff34 271px,#56ffa9 279px,#3fffc0 287px,#7fff80 305px,#7fff80 311px)"></i><i style="width:3px;background:linear-gradient(#6eff91 0px,#85ff7a 32px,#fff000 50px,#ff8300 65px,#ff8300 82px,#ffe200 94px,#e6ff19 98px,#00f5ff 112px,#0045ff 124px,#000eff 135px,#0030ff 145px,#00aeff 153px,#00f9ff 156px,#fff100 165px,#ff2300 173px,#f20000 176px,#bb0000 185px,#e70000 193px,#ff1700 196px,#f4ff0b 205px,#0afff5 212px,#0049ff 220px,#0017ff 227px,#0042ff 234px,#00e0ff 241px,#00feff 242px,#f6ff09 251px,#ffb000 259px,#ffd100 265px,#eaff15 269px,#56ffa9 278px,#39ffc6 286px,#7eff81 304px,#7fff80 311px)"></i><i style="width:3px;background:linear-gradient(#72ff8d 0px,#94ff6b 33px,#fff700 48px,#ff8400 64px,#ff8700 81px,#ffe600 93px,#e4ff1b 97px,#00fdff 111px,#0043ff 124px,#0010ff 135px,#0033ff 145px,#00b0ff 153px,#00fbff 156px,#fff000 165px,#ff2300 173px,#f20000 176px,#bd0000 184px,#da0000 192px,#ff1500 196px,#ffe500 204px,#d8ff27 206px,#0ffff0 212px,#004cff 220px,#0017ff 227px,#003fff 234px,#00daff 241px,#17ffe8 243px,#f2ff0d 251px,#ffb000 259px,#ffcd00 265px,#efff10 269px,#58ffa7 278px,#38ffc7 286px,#7eff81 304px,#7fff80 311px)"></i><i style="width:3px;background:linear-gradient(#76ff89 0px,#9eff61 32px,#ffef00 47px,#ff8700 62px,#ff8a00 79px,#fff100 92px,#9fff60 100px,#00fbff 110px,#0046ff 123px,#0011ff 134px,#003aff 145px,#00c0ff 153px,#0efff1 156px,#fffd00 164px,#ff2b00 172px,#f80000 175px,#be0000 183px,#d50000 191px,#ff0b00 195px,#ffb400 202px,#ebff14 205px,#02fffd 212px,#0055ff 219px,#0017ff 226px,#0037ff 233px,#00adff 239px,#04fffb 242px,#f9ff06 251px,#ffaf00 259px,#ffd100 265px,#e9ff16 269px,#55ffaa 278px,#38ffc7 286px,#7eff81 304px,#7fff80 311px)"></i><i style="width:3px;background:linear-gradient(#7aff85 0px,#adff52 32px,#fff000 45px,#ff8900 60px,#ff8d00 77px,#fff000 90px,#a6ff59 98px,#00faff 109px,#003fff 123px,#0013ff 134px,#0038ff 144px,#00b8ff 152px,#04fffb 155px,#f5ff0a 163px,#ff2000 172px,#f00000 175px,#bc0000 184px,#e50000 192px,#ff1400 195px,#ffe000 203px,#fdff02 204px,#00f4ff 212px,#004fff 219px,#0017ff 226px,#003cff 233px,#00b8ff 239px,#10ffef 242px,#edff12 250px,#ffd000 254px,#ffb000 261px,#f7ff08 268px,#5cffa3 277px,#36ffc9 285px,#7eff81 304px,#7fff80 311px)"></i><i style="width:3px;background:linear-gradient(#7fff80 0px,#bbff44 31px,#fff400 42px,#ff8e00 58px,#ff9800 75px,#f6ff09 89px,#00fdff 107px,#004aff 121px,#001cff 132px,#0046ff 143px,#00caff 151px,#00fbff 153px,#fffb00 162px,#ff3100 170px,#f20000 174px,#c50000 183px,#f30000 191px,#ff4b00 196px,#efff10 203px,#0cfff3 210px,#0050ff 218px,#001eff 225px,#0047ff 232px,#00e0ff 239px,#1cffe3 241px,#f0ff0f 249px,#ffb100 258px,#ffdb00 264px,#f0ff0f 267px,#5affa5 276px,#39ffc6 285px,#7eff81 303px,#7fff80 311px)"></i><i style="width:3px;background:linear-gradient(#84ff7b 0px,#c3ff3c 31px,#ffee00 42px,#ff8f00 58px,#ff9e00 75px,#f6ff09 88px,#00f2ff 107px,#0045ff 121px,#001eff 133px,#004eff 143px,#00daff 151px,#28ffd7 154px,#f7ff08 161px,#ff2600 170px,#ec0000 174px,#c60000 183px,#ff0800 192px,#ffa300 199px,#fffd00 202px,#00ffff 210px,#0059ff 217px,#001eff 224px,#003fff 231px,#00cfff 238px,#09fff6 240px,#f8ff07 249px,#ffb100 257px,#ffd100 263px,#ebff14 267px,#57ffa8 276px,#39ffc6 285px,#7eff81 303px,#7fff80 311px)"></i><i style="width:3px;background:linear-gradient(#89ff76 0px,#d0ff2f 33px,#fff100 42px,#ff9b00 58px,#ffad00 75px,#f3ff0c 87px,#00fcff 106px,#0055ff 120px,#0030ff 132px,#005bff 142px,#00dcff 150px,#25ffda 153px,#fff900 161px,#ff2b00 170px,#f80000 174px,#dc0000 184px,#ff1300 191px,#ffbb00 199px,#ebff14 202px,#00f6ff 210px,#005eff 217px,#002dff 224px,#0054ff 231px,#00e4ff 238px,#1dffe2 240px,#fbff04 249px,#ffb900 257px,#ffde00 263px,#f1ff0e 266px,#54ffab 276px,#3cffc3 285px,#7eff81 303px,#7fff80 311px)"></i><i style="width:3px;background:linear-gradient(#8dff72 0px,#dbff24 34px,#ffe600 43px,#ff9c00 59px,#ffb700 76px,#f6ff09 86px,#00f2ff 106px,#0051ff 120px,#0032ff 132px,#0064ff 142px,#04fffb 151px,#faff05 160px,#ff3200 169px,#f30000 174px,#de0000 184px,#ff0c00 190px,#ff9200 197px,#fcff03 201px,#07fff8 209px,#0059ff 217px,#002dff 224px,#0059ff 231px,#0bfff4 239px,#f0ff0f 248px,#ffb800 257px,#ffe200 263px,#ebff14 266px,#5bffa4 275px,#3affc5 284px,#7eff81 303px,#7fff80 311px)"></i><i style="width:3px;background:linear-gradient(#92ff6d 0px,#e5ff1a 35px,#ffe400 43px,#ff9e00 59px,#ffb700 75px,#eeff11 86px,#00f6ff 105px,#0054ff 119px,#0033ff 131px,#0061ff 141px,#00e4ff 149px,#14ffeb 151px,#fff300 160px,#ff2900 169px,#f70000 173px,#dd0000 183px,#ff1300 190px,#ffb800 198px,#efff10 201px,#00faff 209px,#0061ff 216px,#002dff 223px,#0051ff 230px,#00deff 237px,#16ffe9 239px,#f7ff08 248px,#ffb800 256px,#ffd900 262px,#e6ff19 266px,#58ffa7 275px,#3affc5 284px,#7eff81 303px,#7fff80 311px)"></i><i style="width:3px;background:linear-gradient(#95ff6a 0px,#eeff11 36px,#ffc600 47px,#ff9600 62px,#ffbb00 77px,#f4ff0b 86px,#00f3ff 105px,#004aff 119px,#0026ff 131px,#0055ff 141px,#00d8ff 149px,#09fff6 151px,#fff600 160px,#ff2100 169px,#eb0000 173px,#cb0000 183px,#ff0c00 191px,#ffa300 198px,#fffb00 201px,#04fffb 209px,#004dff 217px,#001eff 224px,#004aff 231px,#00e4ff 238px,#20ffdf 240px,#f2ff0d 248px,#ffae00 257px,#ffd600 263px,#e3ff1c 267px,#52ffad 276px,#37ffc8 285px,#7eff81 303px,#7fff80 311px)"></i><i style="width:3px;background:linear-gradient(#97ff68 0px,#f7ff08 37px,#ff9b00 58px,#ffaf00 74px,#f7ff08 85px,#00f7ff 104px,#004dff 118px,#0028ff 130px,#0052ff 140px,#00d0ff 148px,#00feff 150px,#f9ff06 159px,#ff1900 169px,#e70000 173px,#cc0000 183px,#ff1100 191px,#ffc900 199px,#f8ff07 201px,#00f9ff 209px,#0057ff 216px,#001eff 223px,#0041ff 230px,#00d0ff 237px,#0bfff4 239px,#f8ff07 248px,#ffae00 256px,#ffcb00 262px,#f4ff0b 266px,#5bffa4 275px,#35ffca 284px,#7eff81 304px,#7fff80 311px)"></i><i style="width:3px;background:linear-gradient(#97ff68 0px,#fff600 40px,#ffa100 58px,#ffb700 74px,#f0ff0f 85px,#00f3ff 104px,#0050ff 118px,#0030ff 131px,#0067ff 141px,#0afff5 150px,#ffff00 159px,#ff2c00 168px,#f50000 172px,#d20000 182px,#ff0a00 190px,#ff9800 197px,#f2ff0d 201px,#00f7ff 209px,#005aff 216px,#0023ff 223px,#0046ff 230px,#00d4ff 237px,#0efff1 239px,#f8ff07 248px,#ffb000 256px,#ffcc00 262px,#f3ff0c 266px,#5cffa3 275px,#36ffc9 284px,#7eff81 304px,#7fff80 311px)"></i><i style="width:3px;background:linear-gradient(#99ff66 0px,#fff400 40px,#ffa300 58px,#ffbc00 74px,#f3ff0c 84px,#00f7ff 103px,#0053ff 117px,#0031ff 130px,#0065ff 140px,#00ffff 149px,#fff100 159px,#ff2500 168px,#f10000 172px,#d30000 182px,#ff0f00 190px,#ffa100 197px,#fff800 200px,#0bfff4 208px,#0054ff 216px,#0022ff 223px,#0049ff 230px,#00dcff 237px,#16ffe9 239px,#feff01 248px,#ffb100 255px,#ffc200 261px,#f1ff0e 266px,#5bffa4 275px,#37ffc8 284px,#7eff81 304px,#7fff80 311px)"></i><i style="width:3px;background:linear-gradient(#99ff66 0px,#fff100 41px,#ffaf00 58px,#ffcb00 74px,#eeff11 83px,#00f4ff 103px,#005dff 117px,#0044ff 131px,#0085ff 141px,#00fdff 148px,#f9ff06 158px,#ff2f00 168px,#f90000 173px,#ee0000 184px,#ff1800 189px,#ffb400 197px,#f6ff09 200px,#07fff8 208px,#005dff 216px,#0032ff 223px,#005bff 230px,#07fff8 238px,#ecff13 247px,#ffd600 251px,#ffb700 258px,#fbff04 265px,#5bffa4 275px,#3affc5 284px,#7eff81 304px,#7fff80 311px)"></i><i style="width:3px;background:linear-gradient(#9bff64 0px,#fff000 40px,#ffb100 58px,#ffd400 74px,#ecff13 82px,#00f6ff 102px,#0060ff 116px,#0045ff 130px,#0082ff 140px,#0bfff4 148px,#fff900 158px,#ff3800 167px,#f60000 173px,#f00000 184px,#ff1d00 189px,#ffbd00 197px,#ecff13 200px,#00fcff 208px,#0066ff 215px,#0032ff 222px,#0052ff 229px,#00d8ff 236px,#0ffff0 238px,#f2ff0d 247px,#ffb400 256px,#ffe600 263px,#e6ff19 266px,#5affa5 275px,#3affc5 284px,#7eff81 304px,#7fff80 311px)"></i><i style="width:3px;background:linear-gradient(#9eff61 0px,#fff400 37px,#ffaf00 56px,#ffd000 72px,#f0ff0f 80px,#00f5ff 101px,#005eff 115px,#0041ff 128px,#0075ff 138px,#0bfff4 147px,#fff500 157px,#ff3100 166px,#f60000 171px,#e50000 182px,#ff0b00 187px,#ff8900 194px,#fff500 198px,#00f8ff 207px,#005fff 214px,#002aff 221px,#004cff 228px,#00d6ff 235px,#0ffff0 237px,#f9ff06 246px,#ffad00 254px,#ffc400 260px,#ffff00 264px,#5affa5 274px,#38ffc7 283px,#7eff81 303px,#7fff80 311px)"></i><i style="width:3px;background:linear-gradient(#9eff61 0px,#fff300 36px,#ffb100 55px,#ffd200 71px,#f0ff0f 79px,#00f3ff 101px,#005fff 115px,#0046ff 129px,#0088ff 139px,#00ffff 146px,#fcff03 156px,#ff2a00 166px,#f20000 171px,#e70000 182px,#ff1100 187px,#ff9500 194px,#faff05 198px,#06fff9 206px,#0057ff 214px,#0028ff 221px,#0050ff 228px,#00e3ff 235px,#00ffff 236px,#f3ff0c 245px,#ffa600 254px,#ffc300 260px,#fdff02 264px,#57ffa8 274px,#38ffc7 283px,#7eff81 303px,#7fff80 311px)"></i><i style="width:3px;background:linear-gradient(#9eff61 0px,#fff200 35px,#ffb200 55px,#ffd400 70px,#eeff11 78px,#00f1ff 101px,#0061ff 115px,#004aff 129px,#008fff 139px,#0bfff4 146px,#fff600 156px,#ff3100 165px,#f60000 170px,#e50000 181px,#ff0b00 186px,#ff8900 193px,#fff500 197px,#00f6ff 206px,#005dff 213px,#0027ff 220px,#0048ff 227px,#00d5ff 234px,#0ffff0 236px,#fffe00 245px,#ffa600 252px,#ffac00 258px,#faff05 264px,#5effa1 273px,#36ffc9 282px,#7eff81 303px,#7fff80 311px)"></i><i style="width:3px;background:linear-gradient(#a1ff5e 0px,#fff400 34px,#ffaa00 54px,#ffc900 69px,#f1ff0e 78px,#00f4ff 100px,#005aff 114px,#003dff 127px,#0076ff 137px,#00ffff 145px,#fff700 155px,#ff2600 164px,#ef0000 168px,#cc0000 178px,#ff0300 186px,#ff9200 193px,#f7ff08 197px,#00f6ff 205px,#0052ff 212px,#0015ff 219px,#0036ff 226px,#00aaff 232px,#03fffc 235px,#efff10 243px,#ffa000 250px,#ff9300 256px,#f6ff09 264px,#56ffa9 273px,#33ffcc 282px,#7eff81 302px,#7fff80 311px)"></i><i style="width:3px;background:linear-gradient(#a1ff5e 0px,#fff300 35px,#ffac00 54px,#ffcf00 70px,#f0ff0f 78px,#00f4ff 100px,#005bff 114px,#0041ff 127px,#007dff 137px,#0bfff4 145px,#f9ff06 154px,#ff1e00 164px,#f40000 167px,#cb0000 176px,#f00000 184px,#ff2c00 188px,#fff700 196px,#06fff9 204px,#0049ff 212px,#0013ff 219px,#003aff 226px,#00b7ff 232px,#12ffed 235px,#feff01 243px,#ff9600 250px,#ff8f00 256px,#f2ff0d 264px,#53ffac 273px,#32ffcd 282px,#7eff81 301px,#7fff80 311px)"></i><i style="width:3px;background:linear-gradient(#a5ff5a 0px,#ffef00 35px,#ffa500 53px,#ffc400 69px,#f1ff0e 78px,#00f6ff 99px,#0054ff 113px,#0034ff 125px,#0066ff 135px,#04fffb 144px,#fbff04 153px,#ff0f00 163px,#b80000 173px,#d20000 182px,#ff0800 186px,#ffb000 193px,#eeff11 196px,#02fffd 203px,#004cff 210px,#0002ff 217px,#001cff 224px,#008eff 230px,#0bfff4 234px,#fff800 242px,#ff9000 248px,#ff7700 254px,#ffbf00 260px,#fffe00 263px,#53ffac 272px,#2dffd2 281px,#7eff81 301px,#7fff80 311px)"></i><i style="width:3px;background:linear-gradient(#a5ff5a 0px,#fff400 35px,#ffa700 53px,#ffc500 69px,#f1ff0e 78px,#00f5ff 99px,#0055ff 113px,#0039ff 126px,#006eff 135px,#00f7ff 143px,#fff500 153px,#ff1800 162px,#dd0000 166px,#b70000 175px,#e20000 183px,#ff1100 186px,#ffc000 193px,#feff01 195px,#12ffed 202px,#009aff 206px,#0017ff 213px,#0002ff 220px,#003eff 226px,#00d8ff 232px,#1bffe4 234px,#fcff03 241px,#ff8500 248px,#ff7200 254px,#ffc100 260px,#fbff04 263px,#5cffa3 271px,#2cffd3 279px,#7eff81 301px,#7fff80 311px)"></i><i style="width:3px;background:linear-gradient(#a1ff5e 0px,#fff200 39px,#ffbe00 56px,#ffe600 71px,#e3ff1c 78px,#00f6ff 100px,#0070ff 114px,#0064ff 128px,#00abff 137px,#00feff 142px,#fff400 153px,#ff3500 162px,#f50000 168px,#f30000 179px,#ff2300 184px,#ffca00 192px,#fbff04 194px,#0bfff4 202px,#004bff 211px,#0026ff 218px,#0059ff 225px,#00fbff 232px,#fffd00 241px,#ff9500 248px,#ff8c00 254px,#fbff04 262px,#5affa5 271px,#34ffcb 280px,#7eff81 301px,#7fff80 311px)"></i><i style="width:3px;background:linear-gradient(#a2ff5d 0px,#fff000 40px,#ffc000 56px,#ffe600 71px,#e3ff1c 78px,#00f6ff 100px,#0072ff 114px,#0068ff 128px,#00b2ff 137px,#09fff6 142px,#fcff03 152px,#ff2e00 162px,#f80000 167px,#f00000 178px,#ff1d00 183px,#ffbd00 191px,#edff12 194px,#00fbff 202px,#005fff 209px,#0025ff 216px,#0044ff 223px,#00b4ff 229px,#0bfff4 232px,#f8ff07 240px,#ff8c00 248px,#ff8900 254px,#f7ff08 262px,#57ffa8 271px,#34ffcb 280px,#7eff81 301px,#7fff80 311px)"></i><i style="width:3px;background:linear-gradient(#a2ff5d 0px,#fff100 37px,#ffc100 54px,#ffeb00 69px,#dfff20 76px,#00f4ff 100px,#0074ff 114px,#006eff 128px,#00c4ff 137px,#0ffff0 141px,#fff500 151px,#ff3200 160px,#f40000 166px,#f50000 177px,#ff3600 183px,#fdff02 192px,#00f7ff 201px,#0051ff 209px,#0024ff 216px,#0053ff 223px,#0ffff0 231px,#f9ff06 239px,#ff8b00 247px,#ff8a00 253px,#f4ff0b 261px,#56ffa9 270px,#32ffcd 279px,#7eff81 301px,#7fff80 311px)"></i><i style="width:3px;background:linear-gradient(#a3ff5c 0px,#fff000 33px,#ffc600 52px,#fff800 67px,#1bffe4 96px,#00d7ff 102px,#006bff 115px,#0070ff 128px,#00c6ff 136px,#00ffff 139px,#fffa00 149px,#ff2e00 158px,#f30000 163px,#e80000 174px,#ff1400 179px,#ffa700 187px,#f0ff0f 191px,#00f5ff 200px,#004fff 208px,#001fff 215px,#0050ff 222px,#0dfff2 230px,#f3ff0c 238px,#ff8700 247px,#ff9800 253px,#f0ff0f 260px,#53ffac 269px,#2dffd2 278px,#7eff81 301px,#7fff80 311px)"></i><i style="width:3px;background:linear-gradient(#a1ff5e 0px,#fff300 33px,#ffc300 52px,#fff100 67px,#7aff85 86px,#00f9ff 99px,#0061ff 114px,#0057ff 127px,#009dff 135px,#00fdff 140px,#f7ff08 149px,#ff1200 159px,#c40000 168px,#da0000 177px,#ff0b00 181px,#ffb600 189px,#f3ff0c 192px,#04fffb 200px,#0046ff 208px,#0005ff 215px,#002dff 222px,#00abff 228px,#08fff7 231px,#ffff00 239px,#ff8500 246px,#ff7600 252px,#ffdd00 259px,#e0ff1f 262px,#4fffb0 270px,#27ffd8 279px,#7eff81 301px,#7fff80 311px)"></i><i style="width:3px;background:linear-gradient(#a1ff5e 0px,#fff000 36px,#ffcf00 55px,#f5ff0a 69px,#0dfff2 97px,#005dff 115px,#0060ff 128px,#00b6ff 136px,#09fff6 140px,#fffb00 149px,#ff1d00 158px,#ef0000 161px,#c30000 170px,#e80000 178px,#ff1100 181px,#ffdc00 190px,#e9ff16 192px,#00faff 200px,#0041ff 208px,#0004ff 215px,#0031ff 222px,#00b3ff 228px,#11ffee 231px,#fff800 239px,#ff8200 246px,#ff7800 252px,#ffe200 259px,#daff25 262px,#4bffb4 270px,#26ffd9 279px,#7eff81 301px,#7fff80 311px)"></i><i style="width:3px;background:linear-gradient(#a2ff5d 0px,#fff000 42px,#fffa00 61px,#38ffc7 92px,#00f0ff 99px,#007bff 113px,#007fff 127px,#00d4ff 135px,#0dfff2 138px,#fff600 148px,#ff3300 157px,#f70000 163px,#f90000 174px,#ff4a00 181px,#fff800 189px,#00f8ff 199px,#0056ff 207px,#0026ff 214px,#0055ff 221px,#0cfff3 229px,#fffa00 238px,#ff9400 245px,#ff9200 251px,#f1ff0e 259px,#55ffaa 268px,#2effd1 277px,#7eff81 300px,#7fff80 311px)"></i><i style="width:3px;background:linear-gradient(#a2ff5d 0px,#fff300 45px,#eeff11 64px,#21ffde 94px,#00edff 99px,#007cff 113px,#0084ff 127px,#00ddff 135px,#17ffe8 138px,#f8ff07 147px,#ff2e00 157px,#f60000 163px,#fd0000 174px,#ff6300 182px,#fdff02 189px,#0bfff4 198px,#0046ff 208px,#0028ff 215px,#0069ff 222px,#00f6ff 228px,#f4ff0b 237px,#ff8c00 246px,#ff9e00 252px,#ffff00 258px,#52ffad 268px,#2dffd2 277px,#7eff81 300px,#7fff80 311px)"></i><i style="width:3px;background:linear-gradient(#a3ff5c 0px,#fff200 45px,#f0ff0f 63px,#1effe1 94px,#00eaff 99px,#007dff 113px,#0083ff 126px,#00d5ff 134px,#0cfff3 137px,#fffb00 147px,#ff3800 156px,#fa0000 162px,#fa0000 173px,#ff4700 180px,#f4ff0b 189px,#03fffc 198px,#004eff 207px,#0026ff 214px,#005dff 221px,#00feff 228px,#fbff04 237px,#ff9000 245px,#ff9700 251px,#faff05 258px,#50ffaf 268px,#2effd1 278px,#7eff81 299px,#7fff80 311px)"></i><i style="width:3px;background:linear-gradient(#a3ff5c 0px,#fff100 38px,#ffe800 58px,#e9ff16 67px,#1bffe4 94px,#00e1ff 99px,#0063ff 113px,#0064ff 126px,#00b6ff 134px,#06fff9 138px,#fdff02 147px,#ff1e00 156px,#ee0000 159px,#be0000 167px,#dd0000 176px,#ff1400 180px,#ffe500 189px,#dfff20 191px,#0cfff3 198px,#0036ff 207px,#0000fc 213px,#001fff 220px,#0097ff 226px,#00f2ff 229px,#f3ff0c 237px,#ff7a00 245px,#ff7300 251px,#ffe200 258px,#d9ff26 261px,#48ffb7 269px,#22ffdd 278px,#7eff81 300px,#7fff80 311px)"></i><i style="width:3px;background:linear-gradient(#a3ff5c 0px,#ffef00 38px,#ffea00 58px,#e6ff19 67px,#17ffe8 94px,#00deff 99px,#0068ff 112px,#0064ff 125px,#00afff 133px,#11ffee 138px,#fff500 147px,#ff1800 156px,#df0000 160px,#bf0000 170px,#ff0b00 179px,#ffd300 188px,#f2ff0d 190px,#03fffc 198px,#0042ff 206px,#0000fe 212px,#0017ff 219px,#0084ff 225px,#00fcff 229px,#fbff04 237px,#ff8200 244px,#ff6e00 250px,#ffd200 257px,#fffe00 259px,#51ffae 268px,#22ffdd 276px,#52ffad 288px,#7fff80 302px,#7fff80 311px)"></i><i style="width:3px;background:linear-gradient(#a3ff5c 0px,#fff100 40px,#f3ff0c 62px,#1fffe0 93px,#00eaff 98px,#007bff 112px,#0086ff 126px,#00e1ff 134px,#1dffe2 137px,#fffd00 146px,#ff3200 155px,#f60000 160px,#e70000 171px,#ff0e00 176px,#ff9800 184px,#fffa00 188px,#00f1ff 198px,#004aff 206px,#0018ff 213px,#0049ff 220px,#00e6ff 227px,#24ffdb 229px,#f1ff0e 236px,#ff8400 245px,#ff9200 251px,#f8ff07 258px,#55ffaa 267px,#28ffd7 276px,#7eff81 300px,#7fff80 311px)"></i><i style="width:3px;background:linear-gradient(#a3ff5c 0px,#fff200 38px,#f3ff0c 61px,#1bffe4 93px,#00e7ff 98px,#007dff 112px,#0085ff 125px,#00d9ff 133px,#12ffed 136px,#fff200 146px,#ff2d00 155px,#f40000 160px,#e90000 171px,#ff1300 176px,#ffb800 185px,#faff05 188px,#04fffb 197px,#0046ff 206px,#0018ff 213px,#004dff 220px,#0efff1 228px,#f7ff08 236px,#ff8900 244px,#ff8b00 250px,#f2ff0d 258px,#52ffad 267px,#27ffd8 276px,#7eff81 299px,#7fff80 311px)"></i><i style="width:3px;background:linear-gradient(#a9ff56 0px,#fff000 32px,#ffe900 53px,#e3ff1c 63px,#14ffeb 92px,#00ddff 97px,#0072ff 110px,#0073ff 123px,#00c2ff 131px,#0ffff0 135px,#fcff03 144px,#ff2700 153px,#ed0000 157px,#c70000 166px,#f00000 174px,#ff3d00 179px,#fffd00 187px,#00fbff 196px,#0042ff 204px,#0001ff 211px,#002aff 218px,#00a8ff 224px,#05fffa 227px,#feff01 235px,#ff8300 242px,#ff7300 248px,#ffd900 255px,#e4ff1b 258px,#44ffbb 267px,#21ffde 276px,#7eff81 298px,#7fff80 311px)"></i><i style="width:3px;background:linear-gradient(#a4ff5b 0px,#fff200 32px,#fff000 54px,#dbff24 64px,#1fffe0 92px,#00eaff 97px,#0079ff 111px,#0082ff 125px,#00dcff 133px,#18ffe7 136px,#ffff00 145px,#ff2c00 154px,#f50000 158px,#d40000 168px,#ff0a00 176px,#ffb800 185px,#f8ff07 188px,#00f9ff 197px,#0047ff 205px,#000aff 212px,#0034ff 219px,#00b1ff 225px,#0cfff3 228px,#feff01 236px,#ff8900 243px,#ff7b00 249px,#ffdf00 256px,#e0ff1f 259px,#44ffbb 268px,#23ffdc 277px,#7eff81 299px,#7fff80 311px)"></i><i style="width:3px;background:linear-gradient(#a4ff5b 0px,#fff100 30px,#fff000 53px,#dbff24 63px,#1bffe4 92px,#00dbff 98px,#0078ff 111px,#007fff 124px,#00d2ff 132px,#0bfff4 135px,#fff500 145px,#ff2700 154px,#f20000 158px,#d60000 168px,#ff1000 176px,#ffc100 185px,#eeff11 188px,#00f1ff 197px,#0043ff 205px,#000aff 212px,#0038ff 219px,#00b9ff 225px,#00f4ff 227px,#fff900 236px,#ff8600 243px,#ff7d00 249px,#ffe500 256px,#daff25 259px,#4cffb3 267px,#22ffdd 276px,#7eff81 299px,#7fff80 311px)"></i><i style="width:3px;background:linear-gradient(#a9ff56 0px,#fff100 26px,#ffe800 49px,#eaff15 59px,#20ffdf 90px,#00ebff 95px,#0075ff 109px,#007bff 123px,#00d4ff 131px,#0ffff0 134px,#f8ff07 143px,#ff1c00 153px,#f30000 156px,#cd0000 165px,#ff0f00 175px,#ffc500 184px,#fffa00 186px,#04fffb 195px,#003aff 204px,#0002ff 211px,#0033ff 218px,#00b8ff 224px,#00f6ff 226px,#f2ff0d 234px,#ff7f00 242px,#ff7800 248px,#ffe300 255px,#daff25 258px,#4affb5 266px,#20ffdf 275px,#7eff81 298px,#7fff80 311px)"></i><i style="width:3px;background:linear-gradient(#aaff55 0px,#fff200 24px,#ffe600 47px,#e9ff16 58px,#26ffd9 89px,#00e6ff 95px,#0074ff 109px,#0078ff 122px,#00c9ff 130px,#02fffd 133px,#fffb00 143px,#ff2700 152px,#f00000 156px,#d00000 166px,#ff0700 174px,#ffb600 183px,#f9ff06 186px,#00faff 195px,#0045ff 203px,#0003ff 210px,#0028ff 217px,#00a2ff 223px,#00fdff 226px,#f8ff07 234px,#ff7c00 242px,#ff7900 248px,#fffc00 256px,#48ffb7 266px,#20ffdf 275px,#7dff82 297px,#7fff80 311px)"></i><i style="width:3px;background:linear-gradient(#a4ff5b 0px,#fff500 26px,#fffa00 50px,#31ffce 89px,#00eeff 96px,#0089ff 110px,#0096ff 124px,#04fffb 133px,#fff900 144px,#ff3c00 153px,#fc0000 160px,#ff0f00 172px,#ff9200 181px,#fbff04 186px,#00f9ff 196px,#004bff 205px,#0022ff 212px,#0056ff 219px,#00f5ff 226px,#f7ff08 235px,#ff8e00 243px,#ff9100 249px,#f0ff0f 257px,#48ffb7 267px,#29ffd6 277px,#7eff81 298px,#7fff80 311px)"></i><i style="width:3px;background:linear-gradient(#aaff55 0px,#fff100 22px,#ffe600 43px,#edff12 55px,#22ffdd 89px,#00e4ff 95px,#0079ff 109px,#0082ff 122px,#00d8ff 130px,#12ffed 133px,#f5ff0a 142px,#ff2800 152px,#f70000 156px,#de0000 166px,#ff0f00 173px,#ffb300 182px,#fffd00 185px,#00f1ff 195px,#0046ff 203px,#000bff 210px,#0033ff 217px,#00aeff 223px,#0afff5 226px,#fdff02 234px,#ff8800 241px,#ff7900 247px,#ffda00 254px,#e5ff1a 257px,#46ffb9 266px,#22ffdd 275px,#7dff82 297px,#7fff80 311px)"></i><i style="width:3px;background:linear-gradient(#a5ff5a 0px,#fff300 23px,#fff400 46px,#ceff31 59px,#2cffd3 89px,#00e8ff 96px,#0087ff 110px,#0094ff 123px,#0efff1 133px,#f9ff06 143px,#ff3600 153px,#fc0000 160px,#ff0e00 171px,#ff8a00 180px,#fff800 185px,#09fff6 195px,#0046ff 205px,#0021ff 212px,#0058ff 219px,#00fbff 226px,#fdff02 235px,#ff9400 242px,#ff8900 248px,#fffc00 256px,#51ffae 266px,#27ffd8 275px,#7eff81 299px,#7fff80 311px)"></i><i style="width:3px;background:linear-gradient(#a6ff59 0px,#fff300 22px,#fff000 43px,#e7ff18 54px,#28ffd7 89px,#00eeff 95px,#0089ff 109px,#0096ff 123px,#02fffd 132px,#fffc00 143px,#ff4000 152px,#fc0000 160px,#ff1100 171px,#ff9100 180px,#feff01 185px,#01fffe 195px,#004fff 204px,#0020ff 211px,#004dff 218px,#00e4ff 225px,#02fffd 226px,#fffb00 235px,#ff9100 242px,#ff8a00 248px,#ffff00 256px,#4fffb0 266px,#26ffd9 275px,#7eff81 298px,#7fff80 311px)"></i><i style="width:3px;background:linear-gradient(#adff52 0px,#ffee00 20px,#ffe000 38px,#efff10 53px,#29ffd6 87px,#00ecff 93px,#0079ff 107px,#0080ff 121px,#00d7ff 129px,#10ffef 132px,#fff000 142px,#ff2800 151px,#f70000 155px,#dd0000 165px,#ff0d00 172px,#ffb000 181px,#fffa00 184px,#00f4ff 194px,#0037ff 203px,#0006ff 210px,#0037ff 217px,#00bcff 223px,#00faff 225px,#f5ff0a 233px,#ff7e00 241px,#ff7800 247px,#ffe100 254px,#dcff23 257px,#4bffb4 265px,#20ffdf 273px,#51ffae 285px,#7fff80 299px,#7fff80 311px)"></i><i style="width:3px;background:linear-gradient(#adff52 0px,#ffef00 20px,#ffe100 38px,#efff10 53px,#26ffd9 87px,#00e8ff 93px,#0078ff 107px,#0082ff 121px,#00dcff 129px,#17ffe8 132px,#fbff04 141px,#ff2500 151px,#f50000 155px,#e20000 166px,#ff1100 172px,#ffb600 181px,#fdff02 184px,#08fff7 193px,#0033ff 203px,#0006ff 210px,#003aff 217px,#00c2ff 223px,#02fffd 225px,#fbff04 233px,#ff8600 240px,#ff7200 246px,#ffd000 253px,#efff10 256px,#49ffb6 265px,#1fffe0 274px,#7dff82 296px,#7fff80 311px)"></i><i style="width:3px;background:linear-gradient(#adff52 0px,#fff000 20px,#ffe100 38px,#efff10 53px,#22ffdd 87px,#00e3ff 93px,#0077ff 107px,#007eff 120px,#00d0ff 128px,#08fff7 131px,#fffc00 141px,#ff3100 150px,#f40000 155px,#e40000 166px,#ff0900 171px,#ffa600 180px,#f6ff09 184px,#01fffe 193px,#003eff 202px,#0006ff 209px,#002eff 216px,#00abff 222px,#08fff7 225px,#fffc00 233px,#ff8300 240px,#ff7200 246px,#ffd300 253px,#ebff14 256px,#46ffb9 265px,#1fffe0 274px,#7dff82 296px,#7fff80 311px)"></i><i style="width:3px;background:linear-gradient(#a8ff57 0px,#fff000 22px,#ffea00 43px,#ecff13 54px,#21ffde 88px,#00e3ff 94px,#007dff 108px,#0087ff 121px,#00ecff 130px,#27ffd8 133px,#fff700 142px,#ff3600 151px,#f80000 157px,#f60000 168px,#ff4000 175px,#fffa00 184px,#00fcff 194px,#0042ff 203px,#0010ff 210px,#003bff 217px,#00b8ff 223px,#14ffeb 226px,#fff900 234px,#ff8700 241px,#ff7a00 247px,#ffdc00 254px,#e3ff1c 257px,#45ffba 266px,#21ffde 275px,#7eff81 297px,#7fff80 311px)"></i><i style="width:3px;background:linear-gradient(#a8ff57 0px,#fff100 22px,#ffea00 43px,#ecff13 54px,#27ffd8 87px,#00eaff 93px,#007fff 107px,#0089ff 121px,#00f1ff 130px,#5bffa4 135px,#fff100 142px,#ff3300 151px,#f70000 157px,#f90000 168px,#ff4500 175px,#fdff02 184px,#00f5ff 194px,#003eff 203px,#0010ff 210px,#003dff 217px,#00beff 223px,#00faff 225px,#f2ff0d 233px,#ff8400 241px,#ff7b00 247px,#ffdf00 254px,#e0ff1f 257px,#43ffbc 266px,#21ffde 275px,#7eff81 297px,#7fff80 311px)"></i><i style="width:3px;background:linear-gradient(#adff52 0px,#ffef00 20px,#ffe300 38px,#f1ff0e 52px,#22ffdd 86px,#00e4ff 92px,#0079ff 106px,#0085ff 120px,#00e0ff 128px,#1bffe4 131px,#faff05 140px,#ff2b00 150px,#f60000 155px,#ee0000 166px,#ff1800 171px,#ffb900 180px,#fbff04 183px,#0afff5 192px,#0036ff 202px,#0008ff 209px,#0038ff 216px,#00bdff 222px,#00faff 224px,#f7ff08 232px,#ff7e00 240px,#ff7600 246px,#ffdd00 253px,#e0ff1f 256px,#41ffbe 265px,#1effe1 274px,#7dff82 295px,#7fff80 311px)"></i><i style="width:3px;background:linear-gradient(#aaff55 0px,#fff000 20px,#ffe300 37px,#efff10 52px,#2affd5 86px,#00edff 92px,#007fff 106px,#0086ff 120px,#00e8ff 129px,#22ffdd 132px,#feff01 141px,#ff3d00 150px,#fc0000 156px,#f70000 167px,#ff3c00 174px,#f3ff0c 184px,#06fff9 193px,#0046ff 202px,#000fff 209px,#0032ff 216px,#00a9ff 222px,#03fffc 225px,#faff05 233px,#ff8900 240px,#ff7500 246px,#ffcf00 253px,#f1ff0e 256px,#4bffb4 265px,#20ffdf 273px,#51ffae 285px,#7fff80 299px,#7fff80 311px)"></i><i style="width:3px;background:linear-gradient(#acff53 0px,#ffee00 19px,#ffe000 35px,#eeff11 51px,#24ffdb 86px,#00e7ff 92px,#007cff 106px,#0087ff 120px,#00efff 129px,#41ffbe 133px,#fff400 141px,#ff3600 150px,#f90000 156px,#f80000 167px,#ff4100 174px,#fffc00 183px,#00f9ff 193px,#003fff 202px,#000cff 209px,#0035ff 216px,#00b2ff 222px,#0ffff0 225px,#fff900 233px,#ff8400 240px,#ff7500 246px,#ffd400 253px,#ebff14 256px,#47ffb8 265px,#1fffe0 274px,#7dff82 296px,#7fff80 311px)"></i><i style="width:3px;background:linear-gradient(#b2ff4d 0px,#ffed00 17px,#ffdc00 32px,#f0ff0f 49px,#2cffd3 84px,#00efff 90px,#007eff 104px,#0081ff 118px,#00deff 127px,#17ffe8 130px,#fff400 140px,#ff3500 149px,#f80000 155px,#f70000 166px,#ff4000 173px,#fffc00 182px,#00f8ff 192px,#003dff 201px,#000aff 208px,#0033ff 215px,#00afff 221px,#0cfff3 224px,#fff900 232px,#ff8200 239px,#ff7200 245px,#ffd100 252px,#edff12 255px,#47ffb8 264px,#1effe1 273px,#7dff82 295px,#7fff80 311px)"></i><i style="width:3px;background:linear-gradient(#b8ff47 0px,#ffef00 15px,#ffd900 29px,#f1ff0e 47px,#2cffd3 83px,#00f0ff 89px,#0080ff 103px,#0086ff 116px,#00d9ff 124px,#12ffed 127px,#fff100 137px,#ff3400 146px,#f80000 153px,#ff0b00 164px,#ff8700 173px,#fcff03 179px,#00fbff 190px,#003dff 200px,#0014ff 207px,#004fff 214px,#00f4ff 221px,#faff05 230px,#ff8900 238px,#ff8e00 244px,#f1ff0e 252px,#47ffb8 262px,#1dffe2 271px,#51ffae 283px,#7fff80 297px,#7fff80 311px)"></i><i style="width:3px;background:linear-gradient(#e1ff1e 0px,#ffed00 7px,#ffcf00 20px,#edff12 37px,#86ff79 59px,#41ffbe 77px,#00f7ff 85px,#0089ff 99px,#008fff 113px,#00e6ff 121px,#1fffe0 124px,#fcff03 133px,#ff4400 142px,#ff0300 150px,#ff1500 160px,#ff9b00 170px,#f0ff0f 176px,#00f2ff 188px,#003aff 198px,#0016ff 205px,#005bff 212px,#0afff5 219px,#f1ff0e 227px,#ff8500 236px,#ff9800 242px,#f3ff0c 249px,#30ffcf 260px,#04fffb 268px,#2cffd3 278px,#79ff86 290px,#7fff80 311px)"></i><i style="width:3px;background:linear-gradient(#d4ff2b 0px,#fff400 11px,#f0ff0f 33px,#35ffca 72px,#00eaff 80px,#0095ff 93px,#00a3ff 108px,#0dfff2 119px,#fff700 133px,#ff4d00 143px,#ff1900 152px,#ff3800 162px,#ffbc00 171px,#edff12 175px,#00f6ff 185px,#0039ff 194px,#0004ff 201px,#0030ff 208px,#00b6ff 214px,#00f6ff 216px,#fffd00 224px,#ff8600 230px,#ff6500 237px,#ffa800 243px,#feff01 247px,#0efff1 257px,#00d5ff 266px,#0ffff0 274px,#70ff8f 284px,#7fff80 311px)"></i><i style="width:3px;background:linear-gradient(#bfff40 0px,#fdff02 19px,#c9ff36 42px,#33ffcc 69px,#00e9ff 77px,#009cff 90px,#00b0ff 105px,#0ffff0 116px,#e9ff16 132px,#ffbe00 137px,#ff3b00 147px,#ff2900 158px,#ff6900 166px,#fbff04 174px,#00f1ff 184px,#003bff 192px,#0000ff 198px,#001fff 206px,#009dff 212px,#00ffff 215px,#f5ff0a 222px,#ff7600 229px,#ff5a00 236px,#ff9d00 242px,#fffb00 246px,#0dfff2 255px,#00c1ff 263px,#00e5ff 270px,#1cffe3 274px,#73ff8c 283px,#7fff80 311px)"></i><i style="width:3px;background:linear-gradient(#adff52 0px,#faff05 22px,#d6ff29 42px,#34ffcb 69px,#00efff 76px,#0092ff 89px,#009aff 104px,#0cfff3 117px,#eeff11 133px,#ffb500 138px,#ff2800 148px,#ff1200 159px,#ff5400 167px,#fff800 175px,#04fffb 184px,#0022ff 193px,#0000ef 197px,#0000ed 204px,#001aff 208px,#00b6ff 214px,#00ffff 216px,#fffb00 223px,#ff6e00 229px,#ff4200 236px,#ff7900 242px,#f0ff0f 248px,#07fff8 256px,#00b8ff 263px,#00d1ff 270px,#17ffe8 275px,#73ff8c 284px,#7fff80 311px)"></i><i style="width:3px;background:linear-gradient(#a6ff59 0px,#f4ff0b 23px,#d4ff2b 42px,#31ffce 69px,#00ebff 76px,#0092ff 89px,#009eff 104px,#10ffef 117px,#ebff14 133px,#ffcb00 137px,#ff3400 147px,#ff1000 157px,#ff3900 165px,#ffc500 173px,#eeff11 176px,#03fffc 184px,#0021ff 193px,#0000ef 197px,#0000ee 204px,#001cff 208px,#00b9ff 214px,#03fffc 216px,#fff900 223px,#ff6e00 229px,#ff4200 236px,#ff7800 242px,#f2ff0d 248px,#0afff5 256px,#00baff 263px,#00d3ff 270px,#0afff5 274px,#6eff91 283px,#7fff80 311px)"></i><i style="width:3px;background:linear-gradient(#a7ff58 0px,#f4ff0b 23px,#d3ff2c 42px,#37ffc8 68px,#00f2ff 75px,#0095ff 88px,#009cff 103px,#09fff6 116px,#e9ff16 133px,#ffcf00 137px,#ff2e00 148px,#ff1200 158px,#ff4400 166px,#ffda00 174px,#f0ff0f 176px,#03fffc 184px,#0032ff 192px,#0000f7 196px,#0000e9 203px,#000cff 207px,#0097ff 213px,#02fffd 216px,#fffa00 223px,#ff6e00 229px,#ff4300 236px,#ff7700 242px,#f4ff0b 248px,#0cfff3 256px,#00bcff 263px,#00d5ff 270px,#0bfff4 274px,#6fff90 283px,#7fff80 311px)"></i><i style="width:3px;background:linear-gradient(#a9ff56 0px,#f7ff08 22px,#daff25 41px,#30ffcf 69px,#00edff 76px,#009bff 89px,#00aaff 104px,#0efff1 116px,#ddff22 133px,#fff000 136px,#ff3f00 148px,#ff1f00 158px,#ff5500 167px,#f7ff08 176px,#00f2ff 185px,#0030ff 193px,#0000f7 198px,#0008ff 206px,#0076ff 212px,#00f7ff 216px,#f4ff0b 223px,#ff7000 230px,#ff4e00 237px,#ff8900 243px,#fdff02 248px,#05fffa 257px,#00c2ff 264px,#00e3ff 271px,#1affe5 275px,#73ff8c 284px,#7fff80 311px)"></i><i style="width:3px;background:linear-gradient(#aeff51 0px,#ffff00 22px,#deff21 41px,#2dffd2 69px,#00eaff 76px,#009bff 89px,#00adff 104px,#08fff7 115px,#daff25 133px,#fff400 136px,#ff4300 148px,#ff2000 158px,#ff5400 167px,#f9ff06 176px,#00f2ff 185px,#002fff 193px,#0000f7 198px,#0008ff 206px,#0075ff 212px,#00f6ff 216px,#f3ff0c 223px,#ff7000 230px,#ff4f00 237px,#ff8800 243px,#ffff00 248px,#08fff7 257px,#00c4ff 264px,#00e5ff 271px,#1cffe3 275px,#73ff8c 284px,#7fff80 311px)"></i><i style="width:3px;background:linear-gradient(#afff50 0px,#fffc00 21px,#e9ff16 39px,#30ffcf 69px,#00efff 76px,#00a4ff 89px,#00b5ff 104px,#0dfff2 115px,#e4ff1b 134px,#ffeb00 137px,#ff4700 149px,#ff2e00 160px,#ff6800 168px,#faff05 176px,#00fcff 185px,#003eff 193px,#0001ff 199px,#001aff 207px,#008fff 213px,#12ffed 217px,#fffc00 224px,#ff7d00 230px,#ff5800 237px,#ff8a00 243px,#fff800 248px,#01fffe 258px,#00caff 265px,#00f3ff 272px,#72ff8d 284px,#7fff80 311px)"></i><i style="width:3px;background:linear-gradient(#b4ff4b 0px,#fff900 19px,#efff10 38px,#2dffd2 69px,#00edff 76px,#00a4ff 89px,#00b8ff 104px,#08fff7 114px,#dcff23 133px,#ffe400 137px,#ff4c00 148px,#ff2f00 159px,#ff6200 167px,#f0ff0f 176px,#00f5ff 185px,#003bff 193px,#0000ff 199px,#001bff 207px,#0091ff 213px,#00efff 216px,#e5ff1a 223px,#ffdf00 225px,#ff7300 231px,#ff5b00 238px,#ff9c00 244px,#fff800 248px,#02fffd 258px,#00cbff 265px,#0ffff0 274px,#73ff8c 284px,#7fff80 311px)"></i><i style="width:3px;background:linear-gradient(#b5ff4a 0px,#fffe00 20px,#e2ff1d 39px,#2affd5 69px,#00eaff 76px,#00a5ff 89px,#00bcff 104px,#0dfff2 114px,#e3ff1c 133px,#ffec00 136px,#ff4900 148px,#ff3100 159px,#ff6900 167px,#ffff00 175px,#0bfff4 184px,#0038ff 193px,#0000ff 199px,#001bff 207px,#0092ff 213px,#00f1ff 216px,#fffb00 224px,#ff7e00 230px,#ff5c00 238px,#ff9c00 244px,#fff900 248px,#15ffea 257px,#00d7ff 262px,#00d9ff 269px,#11ffee 274px,#73ff8c 284px,#7fff80 311px)"></i><i style="width:3px;background:linear-gradient(#beff41 0px,#fffe00 20px,#d8ff27 39px,#2bffd4 67px,#00e9ff 74px,#009fff 87px,#00b3ff 102px,#0efff1 113px,#e0ff1f 131px,#ffee00 134px,#ff4200 146px,#ff2300 156px,#ff5a00 165px,#f7ff08 174px,#00faff 183px,#0037ff 191px,#0000f9 196px,#0010ff 206px,#008eff 212px,#00f1ff 215px,#eeff11 222px,#ff9100 227px,#ff5100 234px,#ff6900 240px,#ffdc00 246px,#e9ff16 248px,#0ffff0 256px,#00c7ff 264px,#10ffef 273px,#6fff90 282px,#7fff80 311px)"></i><i style="width:3px;background:linear-gradient(#bbff44 0px,#f4ff0b 21px,#c3ff3c 41px,#30ffcf 66px,#00efff 73px,#00a1ff 86px,#00b1ff 101px,#0afff5 112px,#d8ff27 130px,#ffe600 134px,#ff3f00 146px,#ff2700 157px,#ff6100 165px,#fff800 173px,#00f3ff 183px,#0035ff 191px,#0000f8 196px,#0011ff 206px,#0090ff 212px,#00f3ff 215px,#efff10 222px,#ff7300 229px,#ff5100 236px,#ff8500 242px,#fff800 247px,#10ffef 256px,#00c9ff 264px,#12ffed 273px,#6fff90 282px,#7fff80 311px)"></i><i style="width:3px;background:linear-gradient(#b6ff49 0px,#e3ff1c 22px,#a1ff5e 46px,#2dffd2 66px,#00ecff 73px,#00a2ff 86px,#00b5ff 101px,#0efff1 112px,#dfff20 130px,#ffef00 133px,#ff4400 145px,#ff2600 155px,#ff5c00 164px,#fcff03 173px,#0afff5 182px,#0022ff 192px,#0000f2 197px,#0012ff 206px,#0092ff 212px,#00f5ff 215px,#f0ff0f 222px,#ff7400 229px,#ff5200 236px,#ff8600 242px,#fff900 247px,#11ffee 256px,#00cfff 262px,#00e1ff 269px,#21ffde 274px,#74ff8b 283px,#7fff80 311px)"></i><i style="width:3px;background:linear-gradient(#aeff51 0px,#c9ff36 25px,#5bffa4 59px,#00efff 73px,#00b3ff 87px,#00d3ff 102px,#11ffee 110px,#d7ff28 129px,#ffec00 133px,#ff5800 145px,#ff4a00 157px,#ff9d00 166px,#f3ff0c 172px,#00feff 182px,#0043ff 191px,#0010ff 198px,#0038ff 206px,#00b7ff 212px,#00f4ff 214px,#f7ff08 222px,#ff8500 229px,#ff7100 237px,#ffb600 243px,#fff900 246px,#11ffee 256px,#00dcff 265px,#0cfff3 271px,#74ff8b 282px,#7fff80 311px)"></i><i style="width:3px;background:linear-gradient(#acff53 0px,#beff41 27px,#58ffa7 58px,#00efff 71px,#00a6ff 85px,#00beff 100px,#0efff1 110px,#d4ff2b 128px,#ffeb00 132px,#ff4700 144px,#ff2f00 155px,#ff7200 164px,#f6ff09 172px,#00f2ff 182px,#002aff 191px,#0000f8 196px,#000fff 205px,#0085ff 211px,#08fff7 215px,#fcff03 222px,#ff7f00 228px,#ff5600 235px,#ff8000 241px,#f9ff06 247px,#0cfff3 256px,#00ceff 264px,#0ffff0 272px,#72ff8d 282px,#7fff80 311px)"></i><i style="width:3px;background:linear-gradient(#adff52 0px,#beff41 27px,#58ffa7 57px,#00f0ff 70px,#00a8ff 84px,#00bfff 99px,#0dfff2 109px,#d3ff2c 127px,#ffee00 131px,#ff4a00 143px,#ff3100 154px,#ff7200 163px,#fcff03 171px,#04fffb 181px,#0027ff 191px,#0000f7 196px,#0011ff 205px,#0088ff 211px,#0bfff4 215px,#ffff00 222px,#ff7d00 228px,#ff5600 235px,#ff8100 241px,#f8ff07 247px,#1fffe0 255px,#00efff 258px,#00d1ff 265px,#11ffee 272px,#73ff8c 282px,#7fff80 311px)"></i><i style="width:3px;background:linear-gradient(#adff52 0px,#beff41 27px,#58ffa7 56px,#00f1ff 69px,#00aaff 83px,#00c0ff 98px,#0cfff3 108px,#d1ff2e 126px,#fff000 130px,#ff4c00 142px,#ff3200 153px,#ff7200 162px,#fffc00 170px,#00faff 181px,#0034ff 190px,#0000f7 196px,#0012ff 205px,#008bff 211px,#0ffff0 215px,#fffd00 222px,#ff7c00 228px,#ff5700 236px,#ff9100 242px,#f7ff08 247px,#20ffdf 255px,#00f0ff 258px,#00d3ff 265px,#13ffec 272px,#73ff8c 282px,#7fff80 311px)"></i><i style="width:3px;background:linear-gradient(#acff53 0px,#bcff43 27px,#55ffaa 56px,#00f1ff 69px,#00b2ff 83px,#00d1ff 99px,#0dfff2 107px,#c9ff36 125px,#ffea00 130px,#ff5a00 141px,#ff3f00 152px,#ff7900 161px,#f2ff0d 170px,#00fbff 181px,#0031ff 191px,#0001ff 198px,#0029ff 206px,#00adff 212px,#0ffff0 215px,#faff05 222px,#ff8600 228px,#ff6000 236px,#ff9600 242px,#f8ff07 247px,#15ffea 256px,#00dcff 262px,#00f2ff 269px,#77ff88 283px,#7fff80 311px)"></i><i style="width:3px;background:linear-gradient(#adff52 0px,#c2ff3d 26px,#64ff9b 53px,#00f7ff 67px,#00aaff 81px,#00bdff 97px,#10ffef 108px,#daff25 126px,#ffe500 130px,#ff4b00 141px,#ff2b00 151px,#ff5b00 160px,#ffff00 170px,#01fffe 181px,#0024ff 191px,#0000f6 195px,#0000f1 203px,#001aff 207px,#00acff 213px,#00f0ff 215px,#eeff11 222px,#ff9000 227px,#ff5200 233px,#ff6200 240px,#ffd000 246px,#f7ff08 248px,#1bffe4 256px,#00e2ff 260px,#00d5ff 267px,#14ffeb 273px,#74ff8b 283px,#7fff80 311px)"></i><i style="width:3px;background:linear-gradient(#adff52 0px,#c1ff3e 26px,#65ff9a 52px,#00f0ff 67px,#00aaff 81px,#00c3ff 97px,#0ffff0 107px,#cdff32 125px,#fff400 129px,#ff4c00 141px,#ff2e00 152px,#ff6a00 161px,#fcff03 170px,#00fdff 181px,#0023ff 191px,#0000ef 196px,#000eff 206px,#0091ff 212px,#00f6ff 215px,#f3ff0c 222px,#ff6f00 229px,#ff4f00 237px,#ff8f00 243px,#f4ff0b 248px,#1affe5 256px,#00e2ff 260px,#00d6ff 267px,#08fff7 272px,#70ff8f 282px,#7fff80 311px)"></i><i style="width:3px;background:linear-gradient(#aaff55 0px,#bdff42 27px,#5fffa0 53px,#00f0ff 68px,#00b7ff 83px,#00dcff 99px,#10ffef 106px,#cfff30 126px,#fff500 130px,#ff5d00 142px,#ff4500 153px,#ff8200 162px,#fdff02 170px,#00f8ff 182px,#0031ff 192px,#0002ff 199px,#002dff 207px,#00b1ff 213px,#13ffec 216px,#fdff02 223px,#ff8500 229px,#ff6000 237px,#ff9600 243px,#f9ff06 248px,#18ffe7 257px,#00e9ff 261px,#00e4ff 268px,#16ffe9 273px,#73ff8c 283px,#7fff80 311px)"></i><i style="width:3px;background:linear-gradient(#aaff55 0px,#bcff43 27px,#60ff9f 52px,#00f1ff 67px,#00b9ff 82px,#00ddff 98px,#0ffff0 105px,#c4ff3b 125px,#fff400 130px,#ff5e00 142px,#ff4a00 154px,#ff9200 163px,#faff05 170px,#00f5ff 182px,#0030ff 192px,#0003ff 199px,#0022ff 206px,#0099ff 212px,#00f5ff 215px,#fffd00 223px,#ff8300 229px,#ff6000 237px,#ff9800 243px,#f7ff08 248px,#17ffe8 257px,#00e3ff 262px,#00ecff 269px,#18ffe7 273px,#73ff8c 283px,#7fff80 311px)"></i><i style="width:3px;background:linear-gradient(#abff54 0px,#b6ff49 28px,#54ffab 52px,#00f1ff 66px,#00c4ff 82px,#00f2ff 98px,#90ff6f 119px,#fff600 129px,#ff6a00 141px,#ff5b00 153px,#ffa200 162px,#ffff00 168px,#00f2ff 181px,#003bff 191px,#0016ff 199px,#0045ff 206px,#00ccff 212px,#0bfff4 214px,#fff700 222px,#ff8a00 228px,#ff6f00 236px,#ffa900 242px,#fffd00 246px,#27ffd8 255px,#00f5ff 259px,#00efff 267px,#21ffde 272px,#75ff8a 282px,#7fff80 311px)"></i><i style="width:3px;background:linear-gradient(#aeff51 0px,#bbff44 27px,#5affa5 50px,#00f1ff 64px,#00baff 79px,#00dbff 95px,#13ffec 103px,#c9ff36 124px,#fff000 129px,#ff5b00 141px,#ff4800 153px,#ff9300 162px,#f7ff08 169px,#05fffa 180px,#0034ff 190px,#0000fc 197px,#0016ff 204px,#0082ff 210px,#00feff 214px,#f0ff0f 221px,#ff7a00 228px,#ff5c00 236px,#ff9800 242px,#f3ff0c 247px,#24ffdb 255px,#00f7ff 258px,#00e0ff 266px,#0dfff2 271px,#74ff8b 282px,#7fff80 311px)"></i><i style="width:3px;background:linear-gradient(#afff50 0px,#bbff44 27px,#5bffa4 49px,#00f2ff 63px,#00bcff 78px,#00dbff 94px,#12ffed 102px,#cbff34 124px,#ffee00 129px,#ff5b00 141px,#ff4b00 153px,#ff9600 162px,#f3ff0c 169px,#01fffe 180px,#0032ff 190px,#0000fd 197px,#0018ff 204px,#0087ff 210px,#05fffa 214px,#f4ff0b 221px,#ff7800 228px,#ff5c00 236px,#ff9a00 242px,#f0ff0f 247px,#23ffdc 255px,#00f7ff 258px,#00e1ff 266px,#0efff1 271px,#74ff8b 282px,#7fff80 311px)"></i><i style="width:3px;background:linear-gradient(#aeff51 0px,#beff41 26px,#68ff97 47px,#00f1ff 63px,#00bbff 78px,#00daff 94px,#10ffef 102px,#c8ff37 124px,#fff100 129px,#ff5b00 141px,#ff4700 153px,#ff9000 162px,#fbff04 169px,#00f6ff 181px,#002aff 191px,#0000f9 197px,#0016ff 205px,#008bff 211px,#0dfff2 215px,#feff01 222px,#ff7d00 228px,#ff5600 236px,#ff8a00 242px,#fff800 247px,#1effe1 256px,#00f3ff 259px,#00e1ff 267px,#10ffef 272px,#71ff8e 282px,#7fff80 311px)"></i><i style="width:3px;background:linear-gradient(#aeff51 0px,#beff41 26px,#6aff95 46px,#00f3ff 62px,#00bdff 77px,#00e0ff 94px,#17ffe8 102px,#c3ff3c 123px,#fff800 128px,#ff6000 140px,#ff4600 151px,#ff8000 160px,#f1ff0e 169px,#00f0ff 181px,#0028ff 191px,#0000f9 197px,#000eff 204px,#0075ff 210px,#00eeff 214px,#7eff81 218px,#fffb00 222px,#ff7b00 228px,#ff5600 236px,#ff8c00 242px,#fffa00 247px,#1dffe2 256px,#00f3ff 259px,#00e2ff 267px,#11ffee 272px,#71ff8e 282px,#7fff80 311px)"></i><i style="width:3px;background:linear-gradient(#aeff51 0px,#bdff42 26px,#65ff9a 46px,#00f4ff 61px,#00beff 77px,#00e1ff 93px,#16ffe9 101px,#beff41 122px,#fff000 128px,#ff5d00 140px,#ff4c00 152px,#ff9500 161px,#faff05 168px,#03fffc 180px,#0027ff 191px,#0000f9 197px,#0010ff 204px,#0079ff 210px,#00f4ff 214px,#fff700 222px,#ff7900 228px,#ff5600 236px,#ff8e00 242px,#fffd00 247px,#1cffe3 256px,#00f3ff 259px,#00e3ff 267px,#13ffec 272px,#72ff8d 282px,#7fff80 311px)"></i><i style="width:3px;background:linear-gradient(#afff50 0px,#beff41 26px,#68ff97 45px,#00f5ff 60px,#00bdff 76px,#00e3ff 93px,#19ffe6 101px,#c2ff3d 122px,#ffea00 128px,#ff5800 140px,#ff4900 152px,#ff9600 161px,#f8ff07 168px,#03fffc 180px,#0023ff 191px,#0000f7 196px,#0012ff 205px,#008cff 211px,#10ffef 215px,#fff900 222px,#ff7700 228px,#ff5100 236px,#ff8600 242px,#fff500 247px,#0efff1 257px,#00dcff 266px,#0ffff0 272px,#70ff8f 282px,#7fff80 311px)"></i><i style="width:3px;background:linear-gradient(#afff50 0px,#beff41 26px,#63ff9c 45px,#00f1ff 60px,#00bfff 76px,#00e4ff 92px,#1bffe4 100px,#c6ff39 116px,#ffec00 121px,#ff5f00 132px,#ff4800 143px,#ff8e00 153px,#f1ff0e 162px,#02fffd 179px,#0022ff 191px,#0000fb 197px,#0029ff 204px,#00b1ff 210px,#00f2ff 212px,#fffb00 220px,#ff8000 226px,#ff5c00 233px,#ffa200 240px,#f1ff0e 245px,#0afff5 255px,#00d4ff 264px,#10ffef 272px,#71ff8e 282px,#7fff80 311px)"></i><i style="width:3px;background:linear-gradient(#aeff51 0px,#baff45 26px,#5effa1 45px,#00f4ff 59px,#00c1ff 75px,#00e7ff 92px,#1effe1 100px,#bbff44 116px,#ffea00 122px,#ff6000 133px,#ff4b00 145px,#ff9c00 155px,#edff12 163px,#00ffff 178px,#001eff 190px,#0000f8 196px,#0014ff 202px,#0087ff 208px,#08fff7 212px,#fcff03 219px,#ff8000 225px,#ff5600 232px,#ff8f00 239px,#f3ff0c 245px,#09fff6 255px,#00d5ff 264px,#13ffec 272px,#72ff8d 282px,#7fff80 311px)"></i><i style="width:3px;background:linear-gradient(#aaff55 0px,#acff53 27px,#41ffbe 48px,#00f3ff 60px,#00d3ff 78px,#0ffff0 95px,#adff52 115px,#fff600 122px,#ff7300 134px,#ff6d00 147px,#ffd900 158px,#ecff13 162px,#00f2ff 177px,#0037ff 188px,#001aff 196px,#0057ff 203px,#0cfff3 210px,#eeff11 217px,#ffa200 222px,#ff6c00 229px,#ff8900 236px,#feff01 243px,#12ffed 254px,#00e5ff 263px,#0afff5 269px,#74ff8b 281px,#7fff80 311px)"></i><i style="width:3px;background:linear-gradient(#a7ff58 0px,#a5ff5a 28px,#28ffd7 51px,#00edff 61px,#00d8ff 81px,#11ffee 95px,#b1ff4e 116px,#fff400 123px,#ff7300 135px,#ff6f00 148px,#ffd000 158px,#f3ff0c 162px,#04fffb 175px,#003cff 186px,#0016ff 194px,#0043ff 201px,#00c7ff 207px,#05fffa 209px,#fffa00 217px,#ff8800 223px,#ff6800 231px,#ffa100 238px,#ffff00 243px,#20ffdf 253px,#00f2ff 257px,#00f2ff 266px,#39ffc6 273px,#7aff85 283px,#7fff80 311px)"></i><i style="width:3px;background:linear-gradient(#a5ff5a 0px,#a1ff5e 28px,#18ffe7 53px,#00e8ff 62px,#00deff 83px,#14ffeb 95px,#b9ff46 117px,#fff900 123px,#ff7600 135px,#ff6e00 148px,#ffce00 158px,#f1ff0e 162px,#01fffe 174px,#0043ff 184px,#0014ff 192px,#0041ff 200px,#00c2ff 206px,#00feff 208px,#fdff02 216px,#ff8a00 222px,#ff6400 230px,#ff9200 237px,#ffff00 243px,#1effe1 253px,#00f2ff 257px,#00f3ff 266px,#76ff89 281px,#7fff80 311px)"></i><i style="width:3px;background:linear-gradient(#a4ff5b 0px,#a2ff5d 28px,#2effd1 49px,#00f1ff 58px,#00c7ff 75px,#00f4ff 92px,#9bff64 115px,#fff000 124px,#ff6000 136px,#ff5200 148px,#ff9f00 157px,#f7ff08 163px,#00f3ff 174px,#0030ff 183px,#0000f6 189px,#000aff 198px,#0074ff 204px,#10ffef 209px,#ffff00 216px,#ff7700 222px,#ff4900 229px,#ff6f00 237px,#fff600 244px,#13ffec 254px,#00d8ff 261px,#08fff7 270px,#72ff8d 281px,#7fff80 311px)"></i><i style="width:3px;background:linear-gradient(#a2ff5d 0px,#9dff62 28px,#23ffdc 50px,#00eaff 59px,#00c9ff 77px,#11ffee 96px,#b8ff47 118px,#fff600 124px,#ff6400 136px,#ff5200 148px,#ff9c00 157px,#f9ff06 163px,#07fff8 173px,#002aff 183px,#0000f9 188px,#000dff 198px,#007aff 204px,#00f4ff 208px,#fffa00 216px,#ff7500 222px,#ff4800 229px,#ff6d00 237px,#fff500 244px,#12ffed 254px,#00d8ff 263px,#0bfff4 270px,#73ff8c 281px,#7fff80 311px)"></i><i style="width:3px;background:linear-gradient(#9eff61 0px,#90ff6f 29px,#00f4ff 58px,#00dbff 78px,#11ffee 93px,#b3ff4c 117px,#fff600 124px,#ff7600 136px,#ff7000 149px,#ffca00 158px,#eeff11 162px,#07fff8 172px,#003eff 182px,#0010ff 190px,#003aff 198px,#00ceff 205px,#0bfff4 207px,#fffc00 215px,#ff8500 221px,#ff5e00 229px,#ff9000 237px,#faff05 243px,#17ffe8 253px,#00ebff 258px,#0efff1 268px,#72ff8d 279px,#7fff80 311px)"></i><i style="width:3px;background:linear-gradient(#9bff64 0px,#8cff73 29px,#00f3ff 58px,#00deff 79px,#0ffff0 92px,#b0ff4f 117px,#ffed00 125px,#ff7300 137px,#ff7500 150px,#ffd800 159px,#eeff11 162px,#02fffd 172px,#0046ff 181px,#0011ff 189px,#0031ff 197px,#00b9ff 204px,#12ffed 207px,#fff800 215px,#ff8400 221px,#ff5d00 229px,#ff8e00 237px,#faff05 243px,#26ffd9 252px,#00f5ff 256px,#00eeff 264px,#27ffd8 270px,#76ff89 280px,#7fff80 311px)"></i><i style="width:3px;background:linear-gradient(#9aff65 0px,#8bff74 28px,#00f4ff 55px,#00cfff 73px,#10ffef 93px,#b2ff4d 117px,#fff300 124px,#ff6700 136px,#ff5800 148px,#ff9c00 156px,#f4ff0b 162px,#09fff6 171px,#0036ff 180px,#0000f9 186px,#0012ff 196px,#007fff 202px,#00f4ff 206px,#fcff03 214px,#ff6d00 221px,#ff4600 229px,#ff6f00 236px,#fffe00 243px,#1cffe3 252px,#00eaff 256px,#00e6ff 264px,#19ffe6 269px,#73ff8c 279px,#7fff80 311px)"></i><i style="width:3px;background:linear-gradient(#97ff68 0px,#83ff7c 29px,#00f3ff 55px,#00d1ff 74px,#0dfff2 92px,#b0ff4f 117px,#fff800 124px,#ff6a00 136px,#ff5800 148px,#ff9b00 156px,#f4ff0b 162px,#03fffc 171px,#0031ff 180px,#0000f8 186px,#000bff 195px,#006dff 201px,#00fbff 206px,#ffff00 214px,#ff7a00 220px,#ff4600 227px,#ff6200 235px,#ffe400 242px,#e4ff1b 244px,#1bffe4 252px,#00eaff 256px,#00e8ff 264px,#1cffe3 269px,#74ff8b 279px,#7fff80 311px)"></i><i style="width:3px;background:linear-gradient(#94ff6b 0px,#7fff80 29px,#00f1ff 55px,#00d3ff 75px,#0ffff0 92px,#b7ff48 118px,#ffee00 125px,#ff6600 137px,#ff5c00 149px,#ffa800 157px,#f3ff0c 162px,#00fcff 171px,#003cff 179px,#0000fb 185px,#000eff 195px,#0074ff 201px,#03fffc 206px,#fffb00 214px,#ff6b00 221px,#ff4500 229px,#ff6d00 236px,#fffe00 243px,#1bffe4 252px,#00ebff 256px,#00eaff 264px,#1fffe0 269px,#75ff8a 279px,#7fff80 311px)"></i><i style="width:3px;background:linear-gradient(#8fff70 0px,#7aff85 30px,#00f4ff 57px,#00e0ff 78px,#12ffed 92px,#b1ff4e 119px,#ffee00 127px,#ff7300 139px,#ff7000 151px,#ffc100 159px,#efff10 163px,#01fffe 172px,#004aff 180px,#000cff 187px,#0024ff 196px,#009eff 203px,#0efff1 207px,#fcff03 215px,#ff7a00 222px,#ff5500 230px,#ff7900 237px,#fbff04 244px,#21ffde 253px,#00f4ff 257px,#00f3ff 265px,#76ff89 280px,#7fff80 311px)"></i><i style="width:3px;background:linear-gradient(#8cff73 0px,#76ff89 30px,#00f2ff 57px,#00e3ff 79px,#15ffea 92px,#b8ff47 120px,#fff300 127px,#ff7500 139px,#ff7000 151px,#ffc100 159px,#eeff11 163px,#00faff 172px,#0046ff 180px,#000cff 187px,#001eff 195px,#008dff 202px,#00f6ff 206px,#ffff00 215px,#ff7900 222px,#ff5400 230px,#ff7800 237px,#fbff04 244px,#21ffde 253px,#00eeff 258px,#00f5ff 265px,#77ff88 280px,#7fff80 311px)"></i><i style="width:3px;background:linear-gradient(#89ff76 0px,#6eff91 31px,#00f4ff 56px,#00e3ff 78px,#13ffec 91px,#b6ff49 120px,#fff600 127px,#ff7800 139px,#ff7000 151px,#ffc100 159px,#fffc00 162px,#00f4ff 172px,#0041ff 180px,#000cff 187px,#0022ff 195px,#0094ff 202px,#00fdff 206px,#fffc00 215px,#ff7800 222px,#ff5300 230px,#ff7700 237px,#fbff04 244px,#21ffde 253px,#00efff 258px,#00f7ff 265px,#74ff8b 279px,#7fff80 311px)"></i><i style="width:3px;background:linear-gradient(#86ff79 0px,#6aff95 31px,#00f4ff 54px,#00d6ff 74px,#0dfff2 91px,#b1ff4e 119px,#fffa00 126px,#ff6e00 138px,#ff5e00 150px,#ffa800 158px,#efff10 163px,#09fff6 171px,#002dff 180px,#0000f7 186px,#000cff 195px,#0086ff 202px,#00f4ff 206px,#fff700 215px,#ff6a00 222px,#ff4100 230px,#ff6500 237px,#fff700 244px,#1effe1 253px,#00f5ff 256px,#00e2ff 263px,#0cfff3 268px,#73ff8c 279px,#7fff80 311px)"></i><i style="width:3px;background:linear-gradient(#82ff7d 0px,#65ff9a 31px,#00f2ff 54px,#00d8ff 75px,#10ffef 91px,#b6ff49 119px,#fff200 126px,#ff6b00 138px,#ff6100 150px,#ffb200 158px,#faff05 162px,#00f9ff 171px,#0036ff 179px,#0000f8 185px,#0011ff 195px,#0092ff 202px,#06fff9 206px,#fdff02 214px,#ff6d00 221px,#ff4000 229px,#ff6000 236px,#ffd000 242px,#f8ff07 244px,#27ffd8 252px,#00f0ff 256px,#00e2ff 263px,#0efff1 268px,#74ff8b 279px,#7fff80 311px)"></i><i style="width:3px;background:linear-gradient(#7fff80 0px,#5dffa2 30px,#00f3ff 51px,#00d3ff 71px,#0dfff2 89px,#afff50 116px,#fff900 123px,#ff6a00 135px,#ff5500 146px,#ff9100 154px,#f9ff06 160px,#00f2ff 169px,#002cff 177px,#0000f9 181px,#0000ef 190px,#0023ff 195px,#00c7ff 202px,#07fff8 204px,#fff700 212px,#ff6200 219px,#ff3700 227px,#ff5a00 234px,#ffe900 241px,#dbff24 243px,#10ffef 251px,#00d9ff 260px,#09fff6 266px,#74ff8b 277px,#80ff7f 311px)"></i><i style="width:3px;background:linear-gradient(#7fff80 0px,#5fffa0 29px,#00f1ff 51px,#00d5ff 72px,#10ffef 89px,#adff52 115px,#ffef00 123px,#ff6500 135px,#ff5c00 147px,#ffad00 155px,#fffe00 159px,#00ffff 168px,#0034ff 176px,#0000f6 181px,#0000f2 190px,#001bff 194px,#00b9ff 201px,#00f7ff 203px,#fcff03 211px,#ff6700 218px,#ff3700 225px,#ff5500 233px,#ffdd00 240px,#e9ff16 242px,#18ffe7 250px,#00e4ff 254px,#00e2ff 262px,#0cfff3 266px,#74ff8b 276px,#80ff7f 311px)"></i><i style="width:3px;background:linear-gradient(#7fff80 0px,#5cffa3 29px,#00f3ff 50px,#00d6ff 71px,#0efff1 88px,#b0ff4f 114px,#fff600 121px,#ff6a00 133px,#ff5a00 145px,#ffa100 153px,#feff01 158px,#06fff9 167px,#0029ff 176px,#0000f8 180px,#0000ef 189px,#0022ff 194px,#00c9ff 201px,#0afff5 203px,#f0ff0f 210px,#ff5d00 218px,#ff3600 226px,#ff5c00 233px,#f7ff08 241px,#20ffdf 249px,#00f1ff 252px,#00d6ff 260px,#0efff1 266px,#78ff87 276px,#80ff7f 311px)"></i><i style="width:3px;background:linear-gradient(#7fff80 0px,#5dffa2 29px,#00f2ff 52px,#00e3ff 75px,#13ffec 88px,#a5ff5a 112px,#fff900 120px,#ff7500 132px,#ff6900 144px,#ffbb00 153px,#fbff04 157px,#00ffff 167px,#0035ff 176px,#0000fb 183px,#000fff 191px,#0083ff 198px,#00f3ff 202px,#f1ff0e 210px,#ff6700 218px,#ff4400 226px,#ff6b00 233px,#fff500 240px,#11ffee 250px,#00d9ff 259px,#10ffef 266px,#7bff84 276px,#80ff7f 300px,#80ff7f 311px)"></i><i style="width:3px;background:linear-gradient(#7fff80 0px,#5affa5 29px,#00f4ff 51px,#00e3ff 74px,#11ffee 87px,#a0ff5f 110px,#fff100 119px,#ff7200 131px,#ff7100 144px,#ffd300 153px,#f5ff0a 156px,#04fffb 166px,#003bff 175px,#0000fc 182px,#0013ff 191px,#0090ff 198px,#05fffa 202px,#fffb00 210px,#ff6b00 217px,#ff4300 225px,#ff7400 233px,#faff05 240px,#18ffe7 249px,#00e6ff 253px,#00e0ff 261px,#13ffec 266px,#7fff80 276px,#82ff7d 296px,#80ff7f 311px)"></i><i style="width:3px;background:linear-gradient(#7fff80 0px,#5bffa4 28px,#00f3ff 51px,#00e5ff 74px,#14ffeb 87px,#a5ff5a 109px,#fff600 117px,#ff7500 129px,#ff7100 142px,#ffcb00 151px,#eeff11 155px,#00f0ff 166px,#0033ff 175px,#0000fb 182px,#000fff 190px,#006dff 196px,#00f7ff 201px,#f9ff06 209px,#ff6e00 216px,#ff4300 224px,#ff7000 232px,#fffa00 239px,#0ffff0 249px,#00d4ff 258px,#09fff6 265px,#84ff7b 276px,#85ff7a 294px,#80ff7f 311px)"></i><i style="width:3px;background:linear-gradient(#7fff80 0px,#58ffa7 28px,#00f3ff 49px,#00dcff 71px,#12ffed 87px,#9bff64 107px,#fff000 116px,#ff7100 127px,#ff6000 139px,#ffa800 148px,#f4ff0b 154px,#00f5ff 165px,#002eff 174px,#0000f6 179px,#0000f4 188px,#002eff 193px,#00e3ff 200px,#05fffa 201px,#f3ff0c 208px,#ff5a00 216px,#ff3600 224px,#ff6000 231px,#faff05 239px,#13ffec 248px,#00d5ff 253px,#00d9ff 261px,#14ffeb 266px,#88ff77 276px,#8aff75 292px,#80ff7f 311px)"></i><i style="width:3px;background:linear-gradient(#7fff80 0px,#57ffa8 28px,#00f6ff 52px,#00fcff 77px,#7bff84 102px,#fff400 115px,#ff8a00 126px,#ff8700 139px,#ffe500 149px,#ebff14 152px,#00fbff 164px,#0041ff 174px,#0016ff 182px,#003bff 190px,#00c6ff 197px,#00ffff 199px,#f3ff0c 207px,#ff7400 215px,#ff5b00 224px,#ffa100 232px,#fbff04 237px,#19ffe6 247px,#00eaff 251px,#00eaff 260px,#1fffe0 265px,#8aff75 275px,#8bff74 291px,#80ff7f 311px)"></i><i style="width:3px;background:linear-gradient(#7fff80 0px,#54ffab 28px,#00f6ff 52px,#11ffee 82px,#93ff6c 104px,#fff600 114px,#ff8b00 125px,#ff8800 138px,#ffe400 148px,#edff12 151px,#06fff9 163px,#003cff 174px,#0016ff 182px,#0041ff 190px,#00d4ff 197px,#10ffef 199px,#fffb00 207px,#ff7700 214px,#ff5a00 223px,#ff9b00 231px,#efff10 237px,#11ffee 247px,#00dcff 257px,#08fff7 263px,#8eff71 275px,#8fff70 290px,#80ff7f 311px)"></i><i style="width:3px;background:linear-gradient(#7fff80 0px,#54ffab 28px,#00f6ff 51px,#00f9ff 76px,#67ff98 99px,#fffb00 114px,#ff8500 126px,#ff8500 139px,#ffe700 149px,#d7ff28 153px,#00f4ff 164px,#0038ff 174px,#000dff 182px,#0034ff 190px,#00c3ff 197px,#00feff 199px,#f7ff08 207px,#ff7800 214px,#ff5100 222px,#ff7d00 230px,#fffd00 237px,#08fff7 248px,#00d7ff 257px,#0bfff4 264px,#8eff71 275px,#96ff69 289px,#80ff7f 311px)"></i><i style="width:3px;background:linear-gradient(#7eff81 0px,#50ffaf 27px,#00f3ff 48px,#00e9ff 72px,#18ffe7 85px,#9fff60 105px,#fffa00 113px,#ff7700 125px,#ff7200 138px,#ffd600 148px,#e4ff1b 152px,#00f0ff 163px,#0032ff 172px,#0000f8 178px,#000eff 188px,#0077ff 194px,#0bfff4 199px,#f3ff0c 206px,#ff5e00 214px,#ff3b00 222px,#ff7000 230px,#ffff00 237px,#06fff9 247px,#00cbff 254px,#00e4ff 261px,#19ffe6 265px,#96ff69 275px,#9cff63 288px,#80ff7f 311px)"></i><i style="width:3px;background:linear-gradient(#7eff81 0px,#52ffad 26px,#00f5ff 47px,#00e8ff 71px,#16ffe9 84px,#96ff69 104px,#fff900 113px,#ff7800 125px,#ff7300 138px,#ffd900 148px,#f2ff0d 151px,#00ffff 162px,#002cff 172px,#0000f6 178px,#0012ff 188px,#007fff 194px,#00f2ff 198px,#f9ff06 206px,#ff6900 213px,#ff3b00 220px,#ff5800 228px,#ffcf00 235px,#fdff02 237px,#03fffc 247px,#00c9ff 254px,#00e6ff 261px,#0dfff2 264px,#93ff6c 274px,#a5ff5a 286px,#80ff7f 307px,#80ff7f 311px)"></i><i style="width:3px;background:linear-gradient(#7eff81 0px,#52ffad 26px,#00f3ff 47px,#00e4ff 71px,#15ffea 85px,#9bff64 105px,#ffef00 114px,#ff7500 125px,#ff6800 137px,#ffb100 146px,#feff01 151px,#00f1ff 163px,#002bff 172px,#0000f3 177px,#0000f1 186px,#001aff 190px,#00baff 197px,#00faff 199px,#fff900 207px,#ff6c00 213px,#ff3200 220px,#ff4700 228px,#ffb800 235px,#fbff04 238px,#0dfff2 247px,#00c3ff 255px,#00e3ff 262px,#0cfff3 265px,#98ff67 275px,#acff53 286px,#80ff7f 306px,#80ff7f 311px)"></i><i style="width:3px;background:linear-gradient(#7eff81 0px,#4fffb0 26px,#00f2ff 47px,#00e6ff 71px,#15ffea 84px,#90ff6f 99px,#ffee00 108px,#ff7400 119px,#ff7000 132px,#ffde00 143px,#e7ff18 147px,#00fcff 161px,#0014ff 173px,#0000e9 179px,#000fff 188px,#008fff 194px,#00f1ff 197px,#eeff11 204px,#ff8700 209px,#ff3c00 215px,#ff4400 224px,#ffb800 232px,#fffa00 235px,#03fffc 246px,#00c0ff 253px,#00d9ff 261px,#0ffff0 265px,#9cff63 275px,#afff50 286px,#80ff7f 306px,#80ff7f 311px)"></i><i style="width:3px;background:linear-gradient(#7eff81 0px,#4bffb4 26px,#00f5ff 46px,#00edff 71px,#1cffe3 83px,#9aff65 97px,#fff100 105px,#ff7a00 116px,#ff7800 129px,#fff100 141px,#31ffce 157px,#00e5ff 161px,#001fff 172px,#0000f9 179px,#001bff 186px,#0093ff 192px,#00f1ff 195px,#fff500 203px,#ff6a00 209px,#ff3b00 216px,#ff6100 224px,#fffd00 233px,#00fdff 245px,#00c2ff 252px,#00ddff 260px,#13ffec 264px,#9cff63 274px,#aeff51 285px,#80ff7f 305px,#80ff7f 311px)"></i><i style="width:3px;background:linear-gradient(#7dff82 0px,#48ffb7 26px,#00f4ff 46px,#00efff 71px,#1effe1 83px,#9bff64 97px,#fff100 105px,#ff7b00 116px,#ff7700 129px,#ffee00 141px,#8cff73 151px,#00f7ff 160px,#002eff 171px,#0001ff 179px,#0025ff 186px,#00a1ff 192px,#00ffff 195px,#f4ff0b 202px,#ff6500 209px,#ff3900 216px,#ff6000 224px,#fffe00 233px,#00faff 245px,#00c0ff 252px,#00ddff 260px,#14ffeb 264px,#9eff61 274px,#abff54 286px,#80ff7f 305px,#80ff7f 311px)"></i><i style="width:3px;background:linear-gradient(#7dff82 0px,#49ffb6 25px,#00f4ff 45px,#00edff 70px,#1bffe4 82px,#92ff6d 96px,#fffb00 104px,#ff7d00 115px,#ff7100 128px,#ffd200 139px,#eaff15 144px,#05fffa 159px,#002aff 171px,#0004ff 179px,#002fff 186px,#00b3ff 192px,#15ffea 195px,#fff700 202px,#ff6900 208px,#ff3500 215px,#ff5300 223px,#ffec00 232px,#ceff31 235px,#03fffc 244px,#00beff 251px,#00d3ff 259px,#08fff7 263px,#99ff66 273px,#b0ff4f 284px,#80ff7f 304px,#80ff7f 311px)"></i><i style="width:3px;background:linear-gradient(#7dff82 0px,#46ffb9 25px,#00f3ff 45px,#00efff 70px,#1effe1 82px,#94ff6b 96px,#fffb00 104px,#ff7e00 115px,#ff7000 128px,#ffcf00 139px,#edff12 144px,#03fffc 159px,#002cff 171px,#000bff 179px,#003aff 186px,#00c1ff 192px,#01fffe 194px,#f1ff0e 201px,#ff6400 208px,#ff3400 215px,#ff5300 223px,#ffec00 232px,#cdff32 235px,#00ffff 244px,#00bcff 251px,#00d4ff 259px,#0afff5 263px,#9aff65 273px,#b0ff4f 284px,#80ff7f 304px,#80ff7f 311px)"></i><i style="width:3px;background:linear-gradient(#7cff83 0px,#44ffbb 25px,#00f5ff 44px,#00f0ff 70px,#20ffdf 82px,#a1ff5e 97px,#ffed00 105px,#ff7800 116px,#ff7300 129px,#ffd900 140px,#f0ff0f 144px,#02fffd 159px,#003aff 170px,#0012ff 178px,#0037ff 185px,#00b2ff 191px,#0ffff0 194px,#fcff03 201px,#ff6000 208px,#ff3200 215px,#ff5200 223px,#ffed00 232px,#cbff34 235px,#00fcff 244px,#00baff 251px,#00d4ff 259px,#0bfff4 263px,#9bff64 273px,#afff50 284px,#80ff7f 304px,#80ff7f 311px)"></i><i style="width:3px;background:linear-gradient(#7dff82 0px,#46ffb9 26px,#00f7ff 47px,#10ffef 78px,#7bff84 95px,#fffb00 106px,#ff8900 117px,#ff7e00 130px,#ffd900 141px,#f3ff0c 145px,#00f8ff 161px,#004fff 171px,#002bff 179px,#0050ff 186px,#00c5ff 192px,#00fdff 194px,#f8ff07 202px,#ff6e00 209px,#ff4200 217px,#ff6900 225px,#f8ff07 234px,#04fffb 245px,#00c3ff 252px,#00dbff 260px,#10ffef 264px,#99ff66 274px,#adff52 285px,#80ff7f 305px,#80ff7f 311px)"></i><i style="width:3px;background:linear-gradient(#7cff83 0px,#3dffc2 27px,#00f7ff 48px,#10ffef 76px,#82ff7d 95px,#fff900 106px,#ff8900 118px,#ff8e00 132px,#faff05 144px,#00feff 160px,#005bff 170px,#003cff 179px,#006dff 186px,#09fff6 193px,#f8ff07 201px,#ff6800 209px,#ff4a00 218px,#ff8600 226px,#f9ff06 233px,#07fff8 244px,#00c5ff 252px,#00e8ff 260px,#22ffdd 264px,#a0ff5f 274px,#a3ff5c 287px,#80ff7f 306px,#80ff7f 311px)"></i><i style="width:3px;background:linear-gradient(#7cff83 0px,#3bffc4 27px,#00f7ff 48px,#0ffff0 75px,#7eff81 95px,#fff700 107px,#ff8900 119px,#ff8d00 133px,#fbff04 145px,#01fffe 160px,#005eff 170px,#0042ff 179px,#0077ff 186px,#10ffef 193px,#f7ff08 201px,#ff6a00 209px,#ff4800 218px,#ff7f00 226px,#fffe00 233px,#06fff9 244px,#00c5ff 251px,#00deff 259px,#14ffeb 263px,#9aff65 273px,#a9ff56 285px,#80ff7f 305px,#80ff7f 311px)"></i><i style="width:3px;background:linear-gradient(#7bff84 0px,#38ffc7 27px,#00f7ff 47px,#10ffef 75px,#83ff7c 96px,#fff400 108px,#ff8700 120px,#ff8c00 134px,#f9ff06 146px,#01fffe 160px,#0069ff 169px,#0047ff 178px,#0073ff 185px,#00feff 192px,#f9ff06 201px,#ff6a00 209px,#ff4500 217px,#ff6c00 225px,#fff800 233px,#03fffc 244px,#00c3ff 251px,#00dfff 259px,#17ffe8 263px,#9cff63 273px,#a8ff57 285px,#80ff7f 304px,#80ff7f 311px)"></i><i style="width:3px;background:linear-gradient(#7cff83 0px,#3bffc4 27px,#00f9ff 48px,#11ffee 75px,#89ff76 98px,#fff200 110px,#ff8a00 122px,#ff9000 136px,#f3ff0c 148px,#02fffd 161px,#006fff 170px,#0052ff 179px,#0083ff 186px,#0efff1 193px,#fbff04 202px,#ff6f00 210px,#ff4900 218px,#ff6d00 226px,#fff700 234px,#02fffd 245px,#00c4ff 252px,#00e4ff 260px,#0dfff2 263px,#97ff68 273px,#abff54 284px,#80ff7f 305px,#80ff7f 311px)"></i><i style="width:3px;background:linear-gradient(#7bff84 0px,#34ffcb 28px,#00f8ff 49px,#13ffec 75px,#8dff72 99px,#fff100 111px,#ff8a00 123px,#ff9000 137px,#f0ff0f 149px,#00f1ff 162px,#0073ff 170px,#0059ff 179px,#008dff 186px,#00fdff 192px,#f8ff07 202px,#ff6700 211px,#ff4900 220px,#ff7f00 228px,#f6ff09 235px,#02fffd 245px,#00c3ff 252px,#00daff 259px,#0ffff0 263px,#98ff67 273px,#a9ff56 285px,#80ff7f 305px,#80ff7f 311px)"></i><i style="width:3px;background:linear-gradient(#7bff84 0px,#32ffcd 28px,#00f8ff 49px,#12ffed 74px,#90ff6f 100px,#fff000 112px,#ff8a00 124px,#ff8f00 138px,#fdff02 149px,#00f5ff 162px,#0078ff 170px,#0061ff 179px,#00a6ff 187px,#07fff8 192px,#fff200 203px,#ff6b00 211px,#ff4800 220px,#ff7900 228px,#fdff02 235px,#03fffc 245px,#00c2ff 252px,#00dbff 259px,#11ffee 263px,#99ff66 273px,#a8ff57 285px,#80ff7f 305px,#80ff7f 311px)"></i><i style="width:3px;background:linear-gradient(#79ff86 0px,#2bffd4 28px,#00f5ff 46px,#11ffee 74px,#9cff63 101px,#fff600 111px,#ff8500 123px,#ff8100 137px,#ffdf00 147px,#eeff11 150px,#00fcff 161px,#0076ff 169px,#005cff 178px,#0093ff 185px,#02fffd 191px,#fffa00 202px,#ff5d00 211px,#ff3b00 220px,#ff7000 228px,#f9ff06 235px,#06fff9 244px,#00bbff 251px,#00d0ff 258px,#08fff7 262px,#98ff67 272px,#adff52 283px,#80ff7f 303px,#80ff7f 311px)"></i><i style="width:3px;background:linear-gradient(#7aff85 0px,#30ffcf 27px,#00f4ff 45px,#0ffff0 75px,#99ff66 102px,#fff900 112px,#ff7c00 125px,#ff7b00 139px,#ffd000 148px,#e9ff16 152px,#03fffc 162px,#0076ff 170px,#005bff 179px,#0093ff 186px,#01fffe 192px,#fdff02 203px,#ff5c00 212px,#ff3000 220px,#ff5100 228px,#ffd600 235px,#efff10 237px,#0afff5 245px,#00b6ff 252px,#00c9ff 259px,#12ffed 264px,#98ff67 273px,#afff50 284px,#80ff7f 304px,#80ff7f 311px)"></i><i style="width:3px;background:linear-gradient(#79ff86 0px,#29ffd6 28px,#00f3ff 45px,#11ffee 75px,#a1ff5e 103px,#fff000 113px,#ff7e00 125px,#ff7900 139px,#ffcc00 148px,#edff12 152px,#03fffc 162px,#0079ff 170px,#0061ff 179px,#00acff 187px,#0afff5 192px,#fff100 204px,#ff5500 213px,#ff2f00 221px,#ff5700 229px,#ffcf00 235px,#f6ff09 237px,#0cfff3 245px,#00b5ff 252px,#00c9ff 259px,#14ffeb 264px,#99ff66 273px,#aeff51 284px,#80ff7f 304px,#80ff7f 311px)"></i><i style="width:3px;background:linear-gradient(#79ff86 0px,#27ffd8 28px,#00f3ff 45px,#0ffff0 74px,#9fff60 103px,#fff400 113px,#ff7b00 126px,#ff7c00 140px,#ffdd00 149px,#e8ff17 152px,#00f5ff 162px,#007cff 169px,#005eff 178px,#00a1ff 186px,#0cfff3 192px,#fff900 204px,#ff4f00 214px,#ff2f00 223px,#ff5f00 230px,#fdff02 237px,#0ffff0 245px,#00b5ff 252px,#00caff 259px,#16ffe9 264px,#9aff65 273px,#aeff51 284px,#80ff7f 304px,#80ff7f 311px)"></i><i style="width:3px;background:linear-gradient(#78ff87 0px,#17ffe8 33px,#00f7ff 55px,#1cffe3 75px,#a6ff59 104px,#fff200 114px,#ff8700 127px,#ff9100 141px,#ffec00 149px,#d8ff27 152px,#04fffb 161px,#0083ff 169px,#0072ff 179px,#00d3ff 188px,#1affe5 192px,#feff01 204px,#ff6000 214px,#ff4200 223px,#ff7000 230px,#f2ff0d 237px,#10ffef 245px,#00c0ff 252px,#00d7ff 259px,#11ffee 263px,#9bff64 273px,#a8ff57 285px,#80ff7f 304px,#80ff7f 311px)"></i><i style="width:3px;background:linear-gradient(#78ff87 0px,#00faff 46px,#14ffeb 72px,#98ff67 100px,#fff600 111px,#ff8800 124px,#ff8d00 138px,#ffed00 147px,#daff25 150px,#00f6ff 160px,#007dff 168px,#006dff 178px,#00baff 186px,#10ffef 191px,#feff01 203px,#ff5e00 213px,#ff4100 222px,#ff6f00 229px,#f9ff06 236px,#01fffe 245px,#00bdff 251px,#00cdff 258px,#13ffec 263px,#95ff6a 272px,#acff53 283px,#80ff7f 304px,#80ff7f 311px)"></i><i style="width:3px;background:linear-gradient(#77ff88 0px,#00fbff 46px,#14ffeb 71px,#8aff75 95px,#fff800 107px,#ff8b00 120px,#ff8f00 134px,#fff200 144px,#8cff73 151px,#00f6ff 158px,#007fff 166px,#0068ff 176px,#00a7ff 184px,#0afff5 190px,#ffff00 202px,#ff6700 211px,#ff4200 220px,#ff7200 228px,#fbff04 235px,#07fff8 244px,#00baff 251px,#00cfff 258px,#17ffe8 263px,#96ff69 272px,#abff54 283px,#80ff7f 304px,#80ff7f 311px)"></i><i style="width:3px;background:linear-gradient(#74ff8b 0px,#00f4ff 39px,#00fcff 66px,#6eff91 90px,#fff000 105px,#ff7800 117px,#ff7000 131px,#ffc000 140px,#fbff04 144px,#00feff 155px,#006cff 163px,#0043ff 171px,#006cff 180px,#08fff7 189px,#fff000 200px,#ff4500 209px,#ff1e00 217px,#ff4700 225px,#ffd500 232px,#f0ff0f 234px,#01fffe 242px,#00a7ff 248px,#00a8ff 255px,#0efff1 262px,#9bff64 271px,#b0ff4f 282px,#80ff7f 301px,#80ff7f 311px)"></i><i style="width:3px;background:linear-gradient(#75ff8a 0px,#00f7ff 41px,#10ffef 71px,#8aff75 94px,#fff000 106px,#ff8000 118px,#ff7c00 132px,#ffd000 141px,#ebff14 145px,#00f4ff 156px,#006dff 164px,#004aff 173px,#0076ff 181px,#00fdff 189px,#fff700 200px,#ff5a00 208px,#ff2900 216px,#ff4700 224px,#ffbe00 231px,#f2ff0d 234px,#0efff1 242px,#00a9ff 249px,#00b7ff 257px,#01fffe 262px,#92ff6d 271px,#b1ff4e 281px,#80ff7f 303px,#80ff7f 311px)"></i><i style="width:3px;background:linear-gradient(#74ff8b 0px,#00fdff 44px,#19ffe6 70px,#8dff72 93px,#fff500 105px,#ff9200 117px,#ff9400 131px,#fff300 141px,#8dff72 148px,#00f9ff 155px,#0076ff 164px,#0063ff 175px,#00aaff 183px,#03fffc 188px,#fdff02 199px,#ff6400 208px,#ff4300 217px,#ff7700 225px,#ffff00 232px,#00feff 242px,#00b7ff 248px,#00c5ff 256px,#0afff5 261px,#99ff66 271px,#a8ff57 283px,#80ff7f 303px,#80ff7f 311px)"></i><i style="width:3px;background:linear-gradient(#73ff8c 0px,#00fdff 44px,#1bffe4 70px,#8bff74 92px,#fff600 104px,#ff9300 116px,#ff9500 130px,#fff100 140px,#a8ff57 146px,#04fffb 154px,#0079ff 163px,#005bff 173px,#0099ff 182px,#00ffff 188px,#feff01 199px,#ff6e00 207px,#ff4300 215px,#ff6200 223px,#ffeb00 231px,#e1ff1e 233px,#00faff 242px,#00b5ff 248px,#00c5ff 256px,#0cfff3 261px,#92ff6d 270px,#acff53 281px,#80ff7f 302px,#80ff7f 311px)"></i><i style="width:3px;background:linear-gradient(#72ff8d 0px,#00feff 43px,#1affe5 69px,#8aff75 91px,#fff800 103px,#ff9500 115px,#ff9600 129px,#ffef00 139px,#adff52 145px,#00f9ff 154px,#0074ff 163px,#0058ff 173px,#0095ff 182px,#00fbff 188px,#ffff00 199px,#ff6c00 207px,#ff4300 215px,#ff6400 223px,#f6ff09 232px,#0afff5 241px,#00b3ff 248px,#00c6ff 256px,#0efff1 261px,#93ff6c 270px,#acff53 281px,#80ff7f 302px,#80ff7f 311px)"></i><i style="width:3px;background:linear-gradient(#71ff8e 0px,#00f8ff 40px,#11ffee 69px,#81ff7e 90px,#fffa00 102px,#ff8900 114px,#ff8200 128px,#ffd600 138px,#ebff14 142px,#00f8ff 154px,#0064ff 163px,#003dff 172px,#0068ff 181px,#08fff7 190px,#fff200 200px,#ff5500 208px,#ff2b00 216px,#ff5100 224px,#ffd300 231px,#f7ff08 233px,#00f9ff 242px,#00a5ff 248px,#00afff 256px,#09fff6 262px,#97ff68 271px,#aeff51 282px,#80ff7f 302px,#80ff7f 311px)"></i><i style="width:3px;background:linear-gradient(#70ff8f 0px,#00fbff 41px,#15ffea 68px,#86ff79 90px,#fff800 102px,#ff8f00 114px,#ff8e00 128px,#ffe600 138px,#ebff14 141px,#03fffc 153px,#0065ff 163px,#0045ff 173px,#007fff 182px,#00fcff 189px,#faff05 199px,#ff6400 207px,#ff3600 215px,#ff5800 223px,#ffd000 230px,#fcff03 232px,#05fffa 241px,#00adff 247px,#00b1ff 255px,#06fff9 261px,#93ff6c 270px,#afff50 280px,#80ff7f 302px,#80ff7f 311px)"></i><i style="width:3px;background:linear-gradient(#6fff90 0px,#00fbff 41px,#14ffeb 67px,#86ff79 90px,#fff900 102px,#ff8d00 115px,#ff9300 129px,#faff05 140px,#00feff 153px,#006bff 162px,#0041ff 171px,#0064ff 180px,#00e3ff 188px,#2affd5 191px,#fbff04 199px,#ff6300 207px,#ff3600 215px,#ff5a00 223px,#ffd500 230px,#f7ff08 232px,#00ffff 241px,#00aaff 247px,#00b1ff 255px,#08fff7 261px,#94ff6b 270px,#afff50 280px,#80ff7f 302px,#80ff7f 311px)"></i><i style="width:3px;background:linear-gradient(#6dff92 0px,#00fdff 40px,#18ffe7 67px,#8aff75 90px,#fff800 102px,#ff9300 114px,#ff9300 128px,#ffee00 138px,#bfff40 143px,#00f4ff 153px,#0066ff 162px,#0040ff 172px,#0072ff 181px,#01fffe 189px,#fffa00 199px,#ff6000 207px,#ff3900 215px,#ff6300 223px,#ffe400 230px,#e7ff18 232px,#0afff5 240px,#00a7ff 247px,#00b6ff 255px,#00ffff 260px,#8fff70 269px,#afff50 279px,#80ff7f 302px,#80ff7f 311px)"></i><i style="width:3px;background:linear-gradient(#6cff93 0px,#00fbff 39px,#13ffec 66px,#88ff77 90px,#fff900 102px,#ff8d00 115px,#ff9300 129px,#f6ff09 140px,#00f1ff 153px,#005eff 162px,#0036ff 171px,#005bff 180px,#00dfff 188px,#29ffd6 191px,#fffb00 199px,#ff6800 206px,#ff3400 213px,#ff5100 222px,#ffc800 229px,#fffa00 231px,#07fff8 240px,#00a7ff 246px,#00a7ff 254px,#0efff1 261px,#99ff66 270px,#adff52 281px,#80ff7f 301px,#80ff7f 311px)"></i><i style="width:3px;background:linear-gradient(#6bff94 0px,#00fbff 39px,#15ffea 66px,#88ff77 90px,#fff000 103px,#ff8f00 115px,#ff9400 129px,#f5ff0a 140px,#03fffc 152px,#005aff 162px,#0033ff 171px,#0057ff 180px,#00dcff 188px,#26ffd9 191px,#fffb00 199px,#ff6700 206px,#ff3400 213px,#ff4900 221px,#ffb600 228px,#ffff00 231px,#02fffd 240px,#00a4ff 246px,#00a7ff 254px,#00fdff 260px,#91ff6e 269px,#b0ff4f 279px,#80ff7f 301px,#80ff7f 311px)"></i><i style="width:3px;background:linear-gradient(#6aff95 0px,#00fcff 39px,#16ffe9 66px,#89ff76 90px,#fff000 103px,#ff9000 115px,#ff9600 129px,#f1ff0e 140px,#00fcff 152px,#0062ff 161px,#0032ff 170px,#0050ff 179px,#00cbff 187px,#12ffed 190px,#fff600 199px,#ff6400 206px,#ff3400 213px,#ff4b00 221px,#ffba00 228px,#faff05 231px,#00fcff 240px,#00a2ff 246px,#00a9ff 254px,#04fffb 260px,#92ff6d 269px,#a4ff5b 279px,#80ff7f 300px,#80ff7f 311px)"></i><i style="width:3px;background:linear-gradient(#69ff96 0px,#00fdff 39px,#1affe5 66px,#8eff71 90px,#fff600 102px,#ff9100 115px,#ff9d00 129px,#f4ff0b 139px,#02fffd 151px,#005bff 161px,#0035ff 171px,#0065ff 180px,#0efff1 189px,#fffd00 198px,#ff6a00 205px,#ff3600 212px,#ff5400 221px,#ffcc00 228px,#fffe00 230px,#04fffb 239px,#00a6ff 245px,#00a3ff 252px,#00fbff 258px,#a2ff5d 266px,#c5ff3a 273px,#7cff83 289px,#80ff7f 311px)"></i><i style="width:3px;background:linear-gradient(#69ff96 0px,#03fffc 39px,#22ffdd 67px,#90ff6f 90px,#fff800 102px,#ff9a00 115px,#ffa800 129px,#f8ff07 138px,#00faff 151px,#0069ff 160px,#003fff 170px,#006aff 179px,#07fff8 188px,#fff500 198px,#ff6d00 205px,#ff4000 213px,#ff6300 221px,#ffdc00 228px,#d6ff29 231px,#00fdff 239px,#00aaff 245px,#00aeff 252px,#00feff 257px,#bdff42 265px,#e5ff1a 271px,#78ff87 285px,#80ff7f 311px)"></i><i style="width:3px;background:linear-gradient(#69ff96 0px,#04fffb 39px,#23ffdc 67px,#91ff6e 90px,#fff800 102px,#ff9b00 115px,#ffab00 129px,#f3ff0c 138px,#00f4ff 151px,#0066ff 160px,#003fff 170px,#006dff 179px,#0dfff2 188px,#f6ff09 197px,#ff5f00 206px,#ff4100 215px,#ff7f00 223px,#fff900 229px,#00f8ff 239px,#00a9ff 245px,#00b1ff 252px,#09fff6 257px,#d2ff2d 265px,#f5ff0a 271px,#73ff8c 284px,#7fff80 311px)"></i><i style="width:3px;background:linear-gradient(#69ff96 0px,#05fffa 39px,#24ffdb 67px,#90ff6f 89px,#fff800 101px,#ff9d00 114px,#ffad00 128px,#f4ff0b 137px,#00fdff 150px,#0061ff 160px,#003fff 170px,#0071ff 179px,#00fcff 187px,#fcff03 197px,#ff6700 205px,#ff4000 213px,#ff6700 221px,#ffe500 228px,#e6ff19 230px,#0bfff4 238px,#00a8ff 245px,#00b3ff 252px,#0efff1 257px,#d5ff2a 265px,#f5ff0a 271px,#6eff91 284px,#7fff80 311px)"></i><i style="width:3px;background:linear-gradient(#68ff97 0px,#01fffe 39px,#20ffdf 66px,#8dff72 87px,#fff500 99px,#ff9a00 111px,#ffa200 125px,#fcff03 135px,#00f9ff 149px,#005bff 159px,#0035ff 169px,#0063ff 178px,#05fffa 187px,#fff200 197px,#ff6600 204px,#ff3600 212px,#ff5800 220px,#ffd300 227px,#f8ff07 229px,#00fcff 238px,#00a5ff 244px,#00a7ff 251px,#00faff 256px,#ceff31 264px,#faff05 270px,#beff41 276px,#6bff94 283px,#7fff80 311px)"></i><i style="width:3px;background:linear-gradient(#67ff98 0px,#00fbff 36px,#13ffec 64px,#7cff83 84px,#fff300 97px,#ff8f00 109px,#ff9200 123px,#f3ff0c 135px,#00fdff 148px,#0050ff 158px,#001fff 167px,#003bff 176px,#00b4ff 184px,#00fbff 187px,#f8ff07 196px,#ff5400 204px,#ff2000 211px,#ff3800 219px,#ffac00 226px,#fffa00 229px,#00f5ff 238px,#009eff 243px,#0091ff 250px,#00d5ff 255px,#0afff5 257px,#d2ff2d 264px,#fffb00 269px,#e5ff1a 274px,#6cff93 282px,#6bff94 291px,#7fff80 311px)"></i><i style="width:3px;background:linear-gradient(#67ff98 0px,#00fcff 36px,#14ffeb 64px,#7bff84 83px,#fff300 96px,#ff9000 108px,#ff9500 122px,#f2ff0d 134px,#00f1ff 148px,#004cff 158px,#001eff 167px,#003eff 176px,#00bbff 184px,#03fffc 187px,#ffff00 196px,#ff5000 204px,#ff2000 211px,#ff3a00 219px,#ffb100 226px,#fdff02 229px,#0bfff4 237px,#0095ff 244px,#0099ff 251px,#10ffef 257px,#d6ff29 264px,#fffa00 269px,#e3ff1c 274px,#66ff99 282px,#63ff9c 290px,#7fff80 305px,#7fff80 311px)"></i><i style="width:3px;background:linear-gradient(#68ff97 0px,#04fffb 39px,#23ffdc 66px,#89ff76 84px,#fff500 96px,#ffa000 108px,#ffab00 122px,#f9ff06 132px,#00f1ff 148px,#005cff 158px,#0037ff 168px,#0062ff 177px,#00feff 186px,#fffe00 196px,#ff6000 204px,#ff3800 212px,#ff5f00 220px,#ffdf00 227px,#ebff14 229px,#0afff5 237px,#00a3ff 244px,#00acff 251px,#05fffa 256px,#d5ff2a 264px,#fbff04 270px,#b6ff49 276px,#61ff9e 282px,#63ff9c 290px,#7fff80 305px,#7fff80 311px)"></i><i style="width:3px;background:linear-gradient(#67ff98 0px,#00fdff 37px,#17ffe8 64px,#7aff85 82px,#fff300 95px,#ff9400 107px,#ff9c00 121px,#fbff04 132px,#00f7ff 147px,#0047ff 158px,#0021ff 168px,#0050ff 177px,#00deff 185px,#10ffef 187px,#fff400 196px,#ff5b00 203px,#ff2300 210px,#ff4000 219px,#ffbb00 226px,#f2ff0d 229px,#03fffc 237px,#009bff 243px,#0095ff 250px,#00e1ff 255px,#19ffe6 257px,#dbff24 264px,#fff900 269px,#dfff20 274px,#5bffa4 282px,#5dffa2 290px,#7fff80 302px,#7fff80 311px)"></i><i style="width:3px;background:linear-gradient(#67ff98 0px,#00feff 37px,#18ffe7 64px,#7fff80 82px,#fff800 94px,#ff9700 106px,#ff9d00 120px,#f1ff0e 132px,#03fffc 146px,#004eff 157px,#0021ff 166px,#003fff 175px,#00b9ff 183px,#00feff 186px,#f6ff09 195px,#ff4a00 204px,#ff2100 212px,#ff4e00 220px,#ffda00 227px,#ecff13 229px,#00fcff 237px,#0099ff 243px,#0097ff 250px,#00e6ff 255px,#1effe1 257px,#deff21 264px,#fff900 269px,#ddff22 274px,#59ffa6 282px,#5cffa3 290px,#7fff80 302px,#7fff80 311px)"></i><i style="width:3px;background:linear-gradient(#66ff99 0px,#00ffff 37px,#1bffe4 64px,#7fff80 81px,#fff900 93px,#ff9a00 105px,#ffa000 119px,#eeff11 131px,#00f2ff 146px,#0047ff 157px,#0022ff 167px,#0053ff 176px,#00e0ff 184px,#12ffed 186px,#fff600 195px,#ff4f00 203px,#ff2300 211px,#ff4b00 219px,#ffd200 226px,#f5ff0a 228px,#06fff9 236px,#009dff 242px,#0095ff 249px,#00deff 254px,#14ffeb 256px,#d8ff27 263px,#fff900 268px,#e4ff1b 273px,#5dffa2 281px,#5affa5 289px,#7fff80 301px,#7fff80 311px)"></i><i style="width:3px;background:linear-gradient(#6bff94 0px,#08fff7 40px,#26ffd9 67px,#8aff75 84px,#fff500 96px,#ffa600 108px,#ffb600 122px,#efff10 132px,#00f1ff 148px,#0055ff 159px,#0039ff 170px,#0078ff 179px,#0efff1 187px,#fff200 197px,#ff5c00 205px,#ff3800 213px,#ff6400 221px,#fcff03 229px,#02fffd 238px,#00a7ff 244px,#00a7ff 251px,#0cfff3 257px,#daff25 265px,#fdff02 271px,#b7ff48 277px,#5cffa3 283px,#5effa1 291px,#7fff80 304px,#7fff80 311px)"></i><i style="width:3px;background:linear-gradient(#67ff98 0px,#00ffff 38px,#1dffe2 65px,#83ff7c 82px,#fff500 94px,#ff9900 106px,#ffa300 120px,#f4ff0b 131px,#00f1ff 146px,#0043ff 157px,#001eff 167px,#0050ff 176px,#00deff 184px,#2affd5 187px,#fff700 195px,#ff4d00 203px,#ff1f00 211px,#ff4500 219px,#ffcb00 226px,#fcff03 228px,#09fff6 236px,#009cff 242px,#0091ff 249px,#00d7ff 254px,#0cfff3 256px,#d5ff2a 263px,#fffa00 267px,#ecff13 273px,#58ffa7 282px,#5cffa3 290px,#7fff80 302px,#7fff80 311px)"></i><i style="width:3px;background:linear-gradient(#67ff98 0px,#04fffb 38px,#22ffdd 65px,#85ff7a 82px,#fff700 94px,#ffa100 106px,#ffac00 120px,#f8ff07 130px,#00feff 145px,#0050ff 156px,#0028ff 166px,#0053ff 175px,#08fff7 185px,#f6ff09 194px,#ff5000 203px,#ff2800 211px,#ff5400 219px,#ffdc00 226px,#ebff14 228px,#01fffe 236px,#009eff 242px,#009bff 249px,#00e6ff 254px,#1cffe3 256px,#dbff24 263px,#fff900 268px,#e4ff1b 273px,#5effa1 281px,#59ffa6 289px,#7fff80 301px,#7fff80 311px)"></i><i style="width:3px;background:linear-gradient(#66ff99 0px,#01fffe 38px,#20ffdf 65px,#85ff7a 82px,#fff500 94px,#ff9d00 106px,#ffa800 120px,#faff05 130px,#00f6ff 145px,#0045ff 156px,#001eff 166px,#004eff 175px,#0afff5 185px,#ffff00 194px,#ff5200 202px,#ff2000 209px,#ff3700 217px,#ffaa00 224px,#fff800 227px,#00f8ff 236px,#0097ff 242px,#0096ff 249px,#00e5ff 254px,#00ffff 255px,#e0ff1f 263px,#fff700 267px,#f4ff0b 272px,#5dffa2 281px,#58ffa7 289px,#7fff80 301px,#7fff80 311px)"></i><i style="width:3px;background:linear-gradient(#66ff99 0px,#02fffd 38px,#21ffde 65px,#86ff79 82px,#fff600 94px,#ff9f00 106px,#ffaa00 120px,#f8ff07 130px,#00f1ff 145px,#004cff 155px,#001eff 164px,#003dff 173px,#00b5ff 181px,#12ffed 185px,#fff800 194px,#ff4f00 202px,#ff1f00 209px,#ff3900 217px,#ffaf00 224px,#fffe00 227px,#0dfff2 235px,#0095ff 242px,#0097ff 249px,#05fffa 255px,#d1ff2e 262px,#fffa00 266px,#f3ff0c 272px,#5cffa3 281px,#58ffa7 289px,#7fff80 301px,#7fff80 311px)"></i><i style="width:3px;background:linear-gradient(#66ff99 0px,#04fffb 38px,#22ffdd 65px,#8dff72 83px,#ffef00 95px,#ffa000 107px,#ffb200 121px,#f6ff09 130px,#04fffb 144px,#004dff 155px,#0021ff 164px,#0041ff 173px,#00baff 181px,#00fdff 184px,#fff600 194px,#ff5000 202px,#ff2200 210px,#ff4700 218px,#ffcb00 225px,#fdff02 227px,#0cfff3 235px,#0097ff 242px,#009aff 249px,#07fff8 255px,#e4ff1b 263px,#fff600 267px,#f2ff0d 272px,#5dffa2 281px,#58ffa7 289px,#7fff80 301px,#7fff80 311px)"></i><i style="width:3px;background:linear-gradient(#66ff99 0px,#05fffa 38px,#24ffdb 65px,#88ff77 81px,#fff300 93px,#ffa200 105px,#ffb200 119px,#efff10 129px,#00f6ff 144px,#0048ff 155px,#0021ff 165px,#004fff 174px,#08fff7 184px,#f9ff06 193px,#ff5800 201px,#ff2300 208px,#ff3800 216px,#ffa600 223px,#f1ff0e 227px,#03fffc 235px,#009cff 241px,#0094ff 248px,#00daff 253px,#0ffff0 255px,#d7ff28 262px,#fff900 266px,#f0ff0f 272px,#5bffa4 281px,#59ffa6 289px,#7fff80 301px,#7fff80 311px)"></i><i style="width:3px;background:linear-gradient(#66ff99 0px,#06fff9 38px,#23ffdc 64px,#8aff75 80px,#fff800 91px,#ffa300 103px,#ffb000 117px,#f7ff08 127px,#00feff 143px,#004fff 154px,#0021ff 163px,#003fff 172px,#00b5ff 180px,#12ffed 184px,#fff700 193px,#ff5000 201px,#ff2200 209px,#ff4800 217px,#ffca00 224px,#fffe00 226px,#00f9ff 235px,#0099ff 241px,#0096ff 248px,#00e1ff 253px,#17ffe8 255px,#ddff22 262px,#fff700 266px,#ecff13 272px,#59ffa6 281px,#59ffa6 289px,#7fff80 301px,#7fff80 311px)"></i><i style="width:3px;background:linear-gradient(#68ff97 0px,#10ffef 39px,#2fffd0 65px,#99ff66 81px,#fff300 92px,#ffb100 104px,#ffca00 118px,#f1ff0e 126px,#11ffee 142px,#00aeff 148px,#004cff 157px,#0048ff 169px,#009aff 177px,#00faff 182px,#fff200 193px,#ff6000 201px,#ff3e00 210px,#ff7600 218px,#ffff00 225px,#00f8ff 235px,#00a8ff 241px,#00b4ff 249px,#11ffee 254px,#ddff22 262px,#ffff00 268px,#beff41 274px,#5affa5 281px,#63ff9c 290px,#7fff80 304px,#7fff80 311px)"></i><i style="width:3px;background:linear-gradient(#68ff97 0px,#11ffee 38px,#31ffce 65px,#9dff62 81px,#fff700 91px,#ffb200 103px,#ffc700 117px,#f5ff0a 125px,#1cffe3 141px,#00d8ff 145px,#0057ff 155px,#003fff 166px,#0082ff 175px,#04fffb 182px,#fffd00 192px,#ff6500 200px,#ff3e00 208px,#ff6400 216px,#f3ff0c 225px,#07fff8 234px,#00a6ff 241px,#00adff 248px,#00feff 253px,#d1ff2e 261px,#ffff00 266px,#daff25 272px,#59ffa6 281px,#63ff9c 290px,#7fff80 304px,#7fff80 311px)"></i><i style="width:3px;background:linear-gradient(#68ff97 0px,#12ffed 38px,#2fffd0 64px,#98ff67 80px,#fff200 91px,#ffb200 103px,#ffca00 117px,#f0ff0f 125px,#15ffea 141px,#00c2ff 146px,#004eff 156px,#0047ff 168px,#0097ff 176px,#0efff1 182px,#fff100 192px,#ff5f00 200px,#ff3f00 209px,#ff7800 217px,#ffff00 224px,#00feff 234px,#00a9ff 240px,#00b0ff 248px,#06fff9 253px,#d7ff28 261px,#fffd00 267px,#c6ff39 273px,#58ffa7 281px,#64ff9b 290px,#7fff80 304px,#7fff80 311px)"></i><i style="width:3px;background:linear-gradient(#68ff97 0px,#11ffee 39px,#32ffcd 65px,#9bff64 80px,#fff800 90px,#ffb100 102px,#ffc400 116px,#eeff11 125px,#02fffd 142px,#0058ff 154px,#003bff 165px,#0079ff 174px,#00f9ff 181px,#fbff04 191px,#ff6400 199px,#ff3b00 207px,#ff6000 215px,#fbff04 224px,#00fbff 234px,#00a7ff 240px,#00adff 248px,#05fffa 253px,#d8ff27 261px,#fffc00 266px,#e5ff1a 271px,#58ffa7 281px,#62ff9d 290px,#7fff80 304px,#7fff80 311px)"></i><i style="width:3px;background:linear-gradient(#68ff97 0px,#0bfff4 39px,#27ffd8 64px,#8fff70 79px,#fff200 90px,#ffa400 102px,#ffb700 116px,#f8ff07 125px,#12ffed 141px,#00caff 145px,#0040ff 155px,#0027ff 166px,#0062ff 174px,#01fffe 182px,#fdff02 191px,#ff5400 199px,#ff2600 206px,#ff4000 214px,#ffc400 222px,#f1ff0e 225px,#00fcff 234px,#009bff 240px,#009bff 248px,#0cfff3 254px,#d5ff2a 261px,#fff800 265px,#f2ff0d 271px,#59ffa6 281px,#56ffa9 289px,#7fff80 301px,#7fff80 311px)"></i><i style="width:3px;background:linear-gradient(#68ff97 0px,#0bfff4 39px,#29ffd6 64px,#94ff6b 79px,#fff700 89px,#ffa500 101px,#ffb500 115px,#f2ff0d 125px,#00f8ff 142px,#0045ff 154px,#0024ff 164px,#005aff 173px,#0dfff2 182px,#fff300 191px,#ff5b00 198px,#ff2600 205px,#ff3d00 213px,#ffba00 221px,#feff01 224px,#00f3ff 234px,#0099ff 240px,#009dff 248px,#00f7ff 253px,#dcff23 261px,#fff700 265px,#eeff11 271px,#58ffa7 281px,#5cffa3 290px,#7fff80 302px,#7fff80 311px)"></i><i style="width:3px;background:linear-gradient(#6aff95 0px,#14ffeb 40px,#33ffcc 65px,#9eff61 80px,#fff500 90px,#ffb200 102px,#ffc900 116px,#f2ff0d 124px,#12ffed 141px,#00a1ff 148px,#0047ff 157px,#004bff 169px,#00abff 177px,#00feff 181px,#fff800 191px,#ff6c00 198px,#ff3d00 206px,#ff5e00 214px,#f1ff0e 224px,#00fcff 234px,#00a8ff 240px,#00acff 248px,#00ffff 253px,#d5ff2a 261px,#fffc00 266px,#e7ff18 271px,#5cffa3 281px,#5dffa2 290px,#7fff80 303px,#7fff80 311px)"></i><i style="width:3px;background:linear-gradient(#6aff95 0px,#15ffea 40px,#35ffca 65px,#a3ff5c 80px,#fff000 90px,#ffb100 102px,#ffcd00 116px,#edff12 124px,#00fbff 142px,#0058ff 154px,#003eff 165px,#0073ff 173px,#0afff5 181px,#faff05 190px,#ff6500 198px,#ff3d00 206px,#ff6500 214px,#fcff03 223px,#00f5ff 234px,#00a6ff 240px,#00afff 248px,#07fff8 253px,#daff25 261px,#fffc00 266px,#e4ff1b 271px,#5affa5 281px,#5effa1 290px,#7fff80 303px,#7fff80 311px)"></i><i style="width:3px;background:linear-gradient(#6aff95 0px,#15ffea 40px,#37ffc8 65px,#abff54 80px,#fff200 89px,#ffb200 101px,#ffcc00 115px,#efff10 123px,#15ffea 140px,#00c4ff 145px,#004eff 155px,#0045ff 167px,#0096ff 175px,#00fcff 180px,#fff600 190px,#ff6a00 197px,#ff3d00 205px,#ff6100 213px,#f0ff0f 223px,#03fffc 233px,#00a4ff 240px,#00b1ff 248px,#0ffff0 253px,#dfff20 261px,#fffc00 267px,#c2ff3d 273px,#59ffa6 281px,#5effa1 290px,#7fff80 303px,#7fff80 311px)"></i><i style="width:3px;background:linear-gradient(#69ff96 0px,#15ffea 39px,#32ffcd 62px,#a4ff5b 76px,#fff400 85px,#ffb100 97px,#ffc600 110px,#f0ff0f 119px,#16ffe9 139px,#00c8ff 144px,#004dff 154px,#003aff 165px,#007fff 173px,#00fbff 179px,#fdff02 188px,#ff6a00 195px,#ff3a00 202px,#ff5300 210px,#f9ff06 221px,#00f3ff 233px,#009eff 240px,#00b1ff 248px,#00faff 252px,#d5ff2a 260px,#fffa00 265px,#ebff14 270px,#58ffa7 281px,#5effa1 290px,#7fff80 303px,#7fff80 311px)"></i><i style="width:3px;background:linear-gradient(#69ff96 0px,#15ffea 39px,#32ffcd 61px,#a6ff59 75px,#fff300 84px,#ffb100 96px,#ffc800 109px,#f6ff09 117px,#1effe1 138px,#00f0ff 141px,#0052ff 153px,#0039ff 164px,#0076ff 172px,#08fff7 179px,#fff300 188px,#ff6300 195px,#ff3900 203px,#ff6400 211px,#fffd00 220px,#01fffe 232px,#00a1ff 239px,#00a9ff 247px,#01fffe 252px,#daff25 260px,#fff800 265px,#e9ff16 270px,#57ffa8 281px,#5effa1 290px,#7fff80 303px,#7fff80 311px)"></i><i style="width:3px;background:linear-gradient(#64ff9b 0px,#0ffff0 37px,#2affd5 59px,#93ff6c 72px,#fff200 82px,#ffa600 93px,#ffb100 106px,#f3ff0c 117px,#1bffe4 136px,#00ebff 139px,#003fff 151px,#0021ff 161px,#0051ff 169px,#00d9ff 176px,#10ffef 178px,#fff900 186px,#ff5800 193px,#ff2400 200px,#ff3e00 208px,#ffd100 217px,#edff12 220px,#01fffe 230px,#0095ff 237px,#0098ff 245px,#0bfff4 251px,#d9ff26 258px,#fff400 262px,#f6ff09 268px,#58ffa7 279px,#59ffa6 288px,#7fff80 300px,#7fff80 311px)"></i><i style="width:3px;background:linear-gradient(#64ff9b 0px,#10ffef 37px,#2fffd0 60px,#a9ff56 74px,#fff400 82px,#ffa700 93px,#ffb400 107px,#f6ff09 117px,#17ffe8 136px,#00d5ff 140px,#003cff 151px,#0021ff 161px,#0054ff 169px,#00dcff 176px,#13ffec 178px,#fff900 186px,#ff5800 193px,#ff2300 200px,#ff3c00 208px,#ffce00 217px,#eeff11 220px,#00fcff 230px,#009bff 236px,#0092ff 244px,#00dbff 249px,#11ffee 251px,#deff21 258px,#fff800 261px,#f5ff0a 268px,#57ffa8 279px,#59ffa6 288px,#7fff80 300px,#7fff80 311px)"></i><i style="width:3px;background:linear-gradient(#64ff9b 0px,#11ffee 37px,#2fffd0 60px,#a7ff58 74px,#fff600 82px,#ffa700 93px,#ffb200 107px,#eeff11 118px,#13ffec 136px,#00afff 142px,#0032ff 152px,#0026ff 163px,#0076ff 171px,#00faff 177px,#fff800 186px,#ff5900 193px,#ff2300 200px,#ff3b00 208px,#ffcc00 217px,#efff10 220px,#00f8ff 230px,#0099ff 236px,#0094ff 244px,#00e0ff 249px,#17ffe8 251px,#e2ff1d 258px,#fff600 261px,#f4ff0b 268px,#56ffa9 279px,#5affa5 288px,#7fff80 300px,#7fff80 311px)"></i><i style="width:3px;background:linear-gradient(#64ff9b 0px,#14ffeb 37px,#32ffcd 60px,#a6ff59 74px,#ffef00 83px,#ffa800 95px,#ffbc00 108px,#f7ff08 117px,#1fffe0 135px,#00edff 138px,#0045ff 150px,#002aff 161px,#0064ff 169px,#07fff8 177px,#fff600 186px,#ff5e00 193px,#ff2b00 200px,#ff4200 208px,#ffd200 217px,#fffd00 219px,#00f4ff 230px,#009cff 236px,#009dff 244px,#08fff7 250px,#e7ff18 258px,#fff200 262px,#eeff11 268px,#5dffa2 278px,#56ffa9 287px,#7fff80 299px,#7fff80 311px)"></i><i style="width:3px;background:linear-gradient(#67ff98 0px,#15ffea 38px,#31ffce 61px,#a0ff5f 75px,#fff400 84px,#ffa700 96px,#ffb700 109px,#f3ff0c 119px,#0ffff0 137px,#0057ff 149px,#0027ff 158px,#004bff 168px,#00d0ff 176px,#02fffd 178px,#fffe00 187px,#ff6200 194px,#ff2a00 201px,#ff4600 210px,#ffde00 219px,#daff25 222px,#00f7ff 231px,#009cff 237px,#009bff 245px,#05fffa 251px,#e5ff1a 259px,#fff100 263px,#f1ff0e 269px,#57ffa8 280px,#5affa5 289px,#7fff80 301px,#7fff80 311px)"></i><i style="width:3px;background:linear-gradient(#67ff98 0px,#15ffea 38px,#31ffce 61px,#a0ff5f 75px,#fff500 84px,#ffa700 96px,#ffb700 109px,#f4ff0b 119px,#00f9ff 138px,#004aff 150px,#0027ff 160px,#0059ff 169px,#05fffa 178px,#fffe00 187px,#ff6300 194px,#ff2a00 201px,#ff4500 210px,#ffc600 218px,#f4ff0b 221px,#00f3ff 231px,#009bff 237px,#009dff 245px,#0bfff4 251px,#e9ff16 259px,#ffed00 264px,#f0ff0f 269px,#57ffa8 280px,#5bffa4 289px,#7fff80 301px,#7fff80 311px)"></i><i style="width:3px;background:linear-gradient(#66ff99 0px,#17ffe8 38px,#38ffc7 61px,#adff52 75px,#fff500 83px,#ffaa00 95px,#ffbb00 108px,#f0ff0f 118px,#00f9ff 137px,#004dff 149px,#002cff 159px,#005dff 168px,#05fffa 177px,#f8ff07 186px,#ff5d00 194px,#ff2c00 202px,#ff4f00 210px,#ffd700 218px,#f9ff06 220px,#00f7ff 230px,#009eff 236px,#00a0ff 244px,#0cfff3 250px,#e8ff17 258px,#ffee00 263px,#f0ff0f 268px,#58ffa7 279px,#5affa5 288px,#7fff80 300px,#7fff80 311px)"></i><i style="width:3px;background:linear-gradient(#66ff99 0px,#18ffe7 38px,#35ffca 60px,#a7ff58 74px,#fff000 83px,#ffa900 95px,#ffbd00 108px,#f5ff0a 117px,#14ffeb 135px,#00b1ff 141px,#003bff 151px,#0036ff 163px,#008cff 171px,#09fff6 177px,#f8ff07 186px,#ff5e00 194px,#ff2c00 202px,#ff4d00 210px,#ffd500 218px,#faff05 220px,#00f4ff 230px,#009dff 236px,#00a2ff 244px,#00f6ff 249px,#ecff13 258px,#fff200 265px,#e0ff1f 269px,#58ffa7 279px,#5bffa4 288px,#7fff80 300px,#7fff80 311px)"></i><i style="width:3px;background:linear-gradient(#66ff99 0px,#19ffe6 38px,#37ffc8 60px,#acff53 74px,#fff600 82px,#ffab00 94px,#ffbb00 107px,#f1ff0e 117px,#0ffff0 135px,#0047ff 149px,#002eff 160px,#0072ff 169px,#0dfff2 177px,#f8ff07 186px,#ff5200 195px,#ff2c00 203px,#ff5700 211px,#faff05 220px,#09fff6 229px,#009cff 236px,#00a5ff 244px,#00fcff 249px,#efff10 258px,#fff200 265px,#dfff20 269px,#57ffa8 279px,#5bffa4 288px,#7fff80 300px,#7fff80 311px)"></i><i style="width:2px;background:linear-gradient(#65ff9a 0px,#19ffe6 37px,#3affc5 60px,#b2ff4d 74px,#fff000 82px,#ffa900 94px,#ffbd00 107px,#f5ff0a 116px,#16ffe9 134px,#00c3ff 139px,#0042ff 149px,#002dff 160px,#0076ff 169px,#00fbff 176px,#fcff03 186px,#ff5d00 194px,#ff2b00 202px,#ff4a00 210px,#ffd400 218px,#f8ff07 220px,#02fffd 229px,#00a0ff 235px,#009eff 243px,#05fffa 249px,#e4ff1b 257px,#ffef00 261px,#f8ff07 267px,#5cffa3 278px,#56ffa9 287px,#7fff80 299px,#7fff80 311px)"></i></div>
<div class="box" style="left:97px;top:19px;width:29px;height:27px"></div>
<div class="box" style="left:783px;top:19px;width:90px;height:27px"></div>
<div class="box" style="left:97px;top:330px;width:29px;height:27px"></div>
<div class="box" style="left:795px;top:330px;width:78px;height:27px"></div>
<div class="box" style="left:869px;top:330px;width:5px;height:310px"></div>
<div style="position:absolute;left:926px;top:18px;width:53px;height:622px;background:linear-gradient(#800000 0.00px,#800000 9.72px,#8f0000 9.72px,#8f0000 19.44px,#9f0000 19.44px,#9f0000 29.16px,#af0000 29.16px,#af0000 38.88px,#bf0000 38.88px,#bf0000 48.59px,#cf0000 48.59px,#cf0000 58.31px,#df0000 58.31px,#df0000 68.03px,#ef0000 68.03px,#ef0000 77.75px,#ff0000 77.75px,#ff0000 87.47px,#ff1000 87.47px,#ff1000 97.19px,#ff2000 97.19px,#ff2000 106.91px,#ff3000 106.91px,#ff3000 116.62px,#ff4000 116.62px,#ff4000 126.34px,#ff5000 126.34px,#ff5000 136.06px,#ff6000 136.06px,#ff6000 145.78px,#ff7000 145.78px,#ff7000 155.50px,#ff8000 155.50px,#ff8000 165.22px,#ff8f00 165.22px,#ff8f00 174.94px,#ff9f00 174.94px,#ff9f00 184.66px,#ffaf00 184.66px,#ffaf00 194.38px,#ffbf00 194.38px,#ffbf00 204.09px,#ffcf00 204.09px,#ffcf00 213.81px,#ffdf00 213.81px,#ffdf00 223.53px,#ffef00 223.53px,#ffef00 233.25px,#ffff00 233.25px,#ffff00 242.97px,#efff10 242.97px,#efff10 252.69px,#dfff20 252.69px,#dfff20 262.41px,#cfff30 262.41px,#cfff30 272.12px,#bfff40 272.12px,#bfff40 281.84px,#afff50 281.84px,#afff50 291.56px,#9fff60 291.56px,#9fff60 301.28px,#8fff70 301.28px,#8fff70 311.00px,#80ff80 311.00px,#80ff80 320.72px,#70ff8f 320.72px,#70ff8f 330.44px,#60ff9f 330.44px,#60ff9f 340.16px,#50ffaf 340.16px,#50ffaf 349.88px,#40ffbf 349.88px,#40ffbf 359.59px,#30ffcf 359.59px,#30ffcf 369.31px,#20ffdf 369.31px,#20ffdf 379.03px,#10ffef 379.03px,#10ffef 388.75px,#00ffff 388.75px,#00ffff 398.47px,#00efff 398.47px,#00efff 408.19px,#00dfff 408.19px,#00dfff 417.91px,#00cfff 417.91px,#00cfff 427.62px,#00bfff 427.62px,#00bfff 437.34px,#00afff 437.34px,#00afff 447.06px,#009fff 447.06px,#009fff 456.78px,#008fff 456.78px,#008fff 466.50px,#0080ff 466.50px,#0080ff 476.22px,#0070ff 476.22px,#0070ff 485.94px,#0060ff 485.94px,#0060ff 495.66px,#0050ff 495.66px,#0050ff 505.38px,#0040ff 505.38px,#0040ff 515.09px,#0030ff 515.09px,#0030ff 524.81px,#0020ff 524.81px,#0020ff 534.53px,#0010ff 534.53px,#0010ff 544.25px,#0000ff 544.25px,#0000ff 553.97px,#0000ef 553.97px,#0000ef 563.69px,#0000df 563.69px,#0000df 573.41px,#0000cf 573.41px,#0000cf 583.12px,#0000bf 583.12px,#0000bf 592.84px,#0000af 592.84px,#0000af 602.56px,#00009f 602.56px,#00009f 612.28px,#00008f 612.28px,#00008f 622.00px)"></div>
<svg width="1024" height="701" viewBox="0 0 1024 701"><g fill="none" stroke="#000" stroke-width="3.4" stroke-linejoin="round" stroke-linecap="square"><polyline points="96,203.5 97.5,204.5 99.5,204 101,204.5 102.5,204.5 104,204 106,204 107.5,203.5 109,203.5 111,204 112.5,204.5 114,204.5 115.5,204 117.5,203.5 119,203.5 120.5,203.5 122,201 123.5,200.5 125,200 126.5,197.5 128,197 129.5,196 131,193.5 132.5,193.5 134.5,193 136,191 137.5,191 139.5,190 141,189 143,187.5 144.5,185.5 146.5,184 148,182 149,180.5 150,179 150.5,178.5 150.5,176.5 151,174.5 151.5,173 151.5,171.5 152,170 153.5,170 155,170 157,170 158.5,170 160,170.5 161.5,170 163,170.5 164.5,169.5 166,170.5 168,170 169.5,170 171,170 172.5,168.5 174,166.5 175,164.5 176.5,163 178,162 179.5,162 181.5,162.5 183,163 184.5,162.5 186,162 188,162.5 189.5,163 191,162.5 193,163.5 194.5,163.5 196,164 197.5,163.5 199,164.5 200.5,164 202,164.5 204,165.5 205.5,166 207,166 208.5,166 210,165.5 211.5,164.5 213,163.5 215,162 216.5,161.5 218,160.5 219,159.5 220,157.5 221,155.5 221.5,154 222.5,153 224.5,153 226,152.5 228,153 229.5,153 230.5,150 231,150 232,147.5 232.5,146 233.5,145 234.5,143.5 236,142.5 237.5,143 239.5,142 241,142 242.5,142.5 244.5,142 246,142 247.5,140.5 249,139 250.5,137.5 252.5,135 254,134 255.5,132.5 257,132 258.5,132.5 260.5,132.5 262,133 263.5,133 265,132 267,132 268.5,132.5 270,132 272,132 273.5,133 275,133 276.5,134.5 278,135.5 279.5,135 281,136 282.5,135 284,134.5 286,132 287.5,131 289,130.5 290.5,129.5 292,128.5 294,128.5 295.5,129 297,129 298.5,127.5 300.5,128 302,128 303.5,126.5 305,124.5 306.5,123 308,122 309.5,121 311,120 312.5,119.5 314,120 315.5,119.5 317,119.5 318.5,119 319.5,118 320,116.5 320.5,114.5 321.5,112.5 322,111"/><polyline points="363,118 364.5,118 366,117.5 367.5,115.5 369,114.5 370.5,115 372,114.5 373.5,113.5 375,113.5 376.5,113.5 378,112.5 379.5,112.5 381,111 382.5,111"/><polyline points="96,273.5 97.5,273.5 99,274.5 100.5,273 102.5,274 104,273 105.5,273.5 107,273.5 108.5,273 110,273.5 111.5,273.5 113.5,273 115,273.5 116.5,272.5 118,272.5 119.5,272 121.5,271 123,270 125,270.5 126.5,269.5 128,267.5 130,267 131.5,266 133,265.5 135,264 136.5,263.5 138,263.5 139.5,261.5 141.5,261 143,260 144.5,259 146,257 147.5,256.5 149,255.5 149.5,253.5 150.5,251.5 151,250 152.5,250 154.5,250 156,249.5 157.5,250.5 159.5,250 161,249.5 162.5,249.5 164.5,248.5 166,250 167.5,249.5 169.5,249.5 171,249.5 173,247.5 174.5,246 176,245 178,244 179.5,243.5 181,245 182.5,244.5 184,244.5 185.5,244 187,245 188.5,245.5 190,245 191.5,245 193,246 194.5,245.5 196,246.5 197.5,246.5 199,246 201,247 202.5,247 204,247 205.5,248 207,247.5 208.5,248.5 210,247.5 211.5,246 213,246 215,244.5 216.5,244.5 218,243.5 219,242 220.5,241 221.5,238.5 222.5,237.5 224,236.5 225.5,235.5 227.5,235.5 229,234.5 230.5,234 232,233 233.5,232 235,232 237,230 238.5,229.5 240,229.5 241.5,228.5 243,227.5 245,227.5 246.5,226.5 248,226.5 250,225 251.5,223.5 253,222 255,221 256.5,222.5 258,222 260,221.5 261.5,222 263,223 264.5,222 266,223 267.5,222.5 269,223.5 271,223 272.5,222.5 274,224 275.5,223 277,223.5 278.5,222.5 280,222 282,221.5 283.5,221.5 285,221 286.5,220.5 288,220.5 289.5,221 291,219.5 292.5,219.5 294,218.5 296,218 297.5,218.5 299,218 300.5,217 302,215.5 303.5,216.5 305.5,214.5 307,214 308.5,213.5 310.5,213.5 312,212.5 313.5,211.5 315.5,210.5 317,210.5 318.5,210 320,209 322,207.5 323.5,206 325,205 326.5,204.5 328,203.5 329.5,204 331,203.5 332.5,204 334,204 335.5,204.5 337,204 338.5,204.5 340,204.5 341.5,204.5 343.5,206.5 345,206 346.5,207.5 348,207.5 349.5,207.5 351.5,209.5 353,209 354.5,210.5 356,210 357.5,211.5 359,211.5 361,212.5 362.5,214 364,214 365.5,213.5 367,213 368.5,211.5 370,212 371.5,211.5 373,210 374.5,209.5 376,208.5 377.5,209 379,207.5 381,208 382.5,208 384,207.5 385.5,206 387,206.5 389,205.5 390.5,206 392,205 393,203 394,202 395,200 396,198.5 397.5,198.5 399,197 401,196.5 402.5,196 404,196 404,194.5 404.5,193 405,191.5 405,189.5 406.5,189.5 408,190 409.5,189.5 411,190 412.5,190.5 414,189.5 415.5,188.5 416.5,187 418,184.5 419.5,184 421,184 422.5,182.5 424,182.5 425.5,183 427,183 428.5,184 430,184 431.5,184.5 433,185.5 434.5,185.5 436,186.5 437.5,185.5 439,186.5 440.5,186 442,185.5 444,186 445.5,186.5 447,186 448.5,186 450,185.5 451.5,185.5 453,186.5 454.5,185 456.5,186 458,186 459.5,185 461,185 462.5,185 464.5,185.5 466,185.5 467.5,185 469,184 471,183.5 472.5,183.5 474,183.5 475.5,183.5 476.5,181 477.5,180.5 478.5,179 479.5,177.5 480.5,176 481,174.5 482,173 483,170 484,169.5 485.5,167.5 487,166 488.5,165 490,164.5 492,163 493.5,161 495,159.5 497,159 498.5,158 500.5,155.5 502,154.5 503.5,155 505,155 506.5,155.5 508,155 509.5,156 511,156.5 512.5,156.5 514,156 515.5,156.5 517,157 518.5,157.5 520,157 521.5,157.5 523,158 524.5,158 526,159.5 527.5,159.5 529,159.5 531,159.5 532.5,159 534.5,159 536,158.5 537.5,159 539,159.5 541,159 542.5,159 544,158 545.5,158.5 547,158 549,157.5 550.5,158 552,157.5 553.5,157.5 555,158 557,158 558.5,158 560,157 561.5,157 563,156.5 565,156.5 566.5,156.5 568,157.5 569.5,157.5 571,156.5 573,156.5 574.5,156 576.5,154 578,154.5 579.5,155.5 581,156 583,157 584.5,158 586,158 587.5,158.5 589,157.5 590.5,158.5 592,159 593.5,158 595.5,158.5 597,159 598.5,158.5 600,159.5 601.5,159 603,159 604.5,160 606.5,159 608,160 609.5,159 611,159.5 612.5,159.5 614,159.5 616,159 617.5,159.5 619,159.5 620.5,160 622.5,160 624,159.5 625.5,160 627,159.5 629,159 630.5,158.5 631,157.5 631.5,155.5 632,153.5 632.5,153.5 633,152 633.5,150 634,148.5 635.5,147 636.5,146 637.5,143.5 639,142.5 640,140 641.5,140.5 643.5,141 645,140.5 646.5,140.5 648.5,141 650,142 651.5,141.5 653.5,142.5 655,141 656,139.5 657.5,138.5 659,136 660.5,135.5 662.5,136 664,135.5 665.5,133.5 667.5,134 669,132 670.5,131.5 672.5,132 674,132.5 675.5,133 677.5,134 679,134 680.5,133.5 682.5,134 684,134 685.5,134.5 687,135 688.5,135 690.5,135 692,135 693.5,135 695,136 696.5,135.5 698,135.5 700,136 701.5,135.5 703,135.5 704.5,134 706,133.5 707.5,131.5 709.5,131 711,128.5 712.5,126.5 714,127.5 715.5,127.5 717,128 718.5,127 720,128 721.5,128.5 723,127.5 724.5,128 726.5,128.5 728,128 728.5,127.5 729.5,125.5 730.5,124 731,122 732,120.5 733,118.5 733.5,117.5 735.5,117 737,116.5 738.5,114.5 740.5,113 742,112 743.5,112 745.5,111.5 747,109.5 748.5,110 750,110.5 751.5,111.5 753,110.5 755,110.5 756.5,111.5 758,112 759.5,112 761,113 762.5,113 764,112.5 766,113.5 767.5,114 769,114.5 770.5,113.5 772,115 773.5,113.5 775,114 777,113.5 778.5,113.5 780,112.5 781.5,111 783,110.5 784.5,108.5 786,107.5 787.5,105 789,104 791,103 792.5,100.5 794.5,99.5 796,98.5 798,97"/><polyline points="228.5,296 229.5,294 230.5,292 232,290.5 233,289.5 234.5,288.5 236.5,289 238,288 239.5,287.5 241.5,288.5 243,288 244.5,287 246.5,286.5 248,287 249.5,286.5 251.5,285.5 253,285.5 254.5,286 256,285 258,286.5 259.5,286 261,285.5 262.5,286.5 264.5,285.5 266,286 267.5,286 269,285.5 271,286.5 272.5,286.5 274,286 275.5,286 277.5,285.5 279,286 280.5,285 282,285.5 283.5,285.5 285,285.5 286.5,284 288,284 290,284 291.5,283.5 293,283.5 294.5,283 296,283.5 297.5,282.5 299.5,282 301,281.5 302.5,280.5 304,281 306,280 307.5,280.5 309,279.5 310.5,278.5 312.5,278 314,278.5 315.5,277.5 317.5,276.5 319,276.5 320.5,276 322,275.5 323.5,275 325,274.5 327,274 328.5,273.5 330,272 331.5,272.5 333.5,272 335,273 336.5,272.5 338.5,273 340,273 341.5,273.5 343.5,273 345,273 346.5,274 348.5,274 350,275 351.5,276 353,275.5 355,277.5 356.5,277 358,277.5 360,278.5 361.5,278 363,279 364.5,279.5 366,278 367.5,278.5 369,277 370.5,277.5 372,277 373.5,276 375,276 377,276 378.5,275.5 380,274.5 382,274.5 383.5,275 385,273.5 386.5,274 388,272.5 390,272.5 391.5,272.5 393,271 395,269.5 396.5,269 398,268.5 399.5,268.5 401.5,268.5 403,267 403.5,266.5 404,264.5 405,263 406.5,262.5 408,263.5 410,263 411.5,262 413,262.5 414.5,262 416.5,261.5 418,261 419.5,260 421.5,258.5 423,257.5 424.5,258.5 426.5,259 428,259.5 429.5,259 431.5,259.5 433,260 434.5,260.5 436.5,260.5 438,261 439.5,260.5 441,260.5 442.5,260.5 444,261 446,261 447.5,260.5 449,261 450.5,260 452,260.5 453.5,260.5 455,260.5 457,260.5 458.5,261 460,261 461.5,261 463,261 464.5,260.5 466.5,260.5 468,260 469.5,260 471,259 473,259 474.5,258 476,257.5 478,258.5 479.5,257 480.5,255 481,254.5 482,253 483,251 484.5,250.5 486,249.5 488,248 489.5,247 491,246 492.5,245.5 494,245 495.5,244.5 497,242 498.5,242.5 500,241.5 501.5,241.5 503.5,240.5 505,240.5 506.5,241.5 508,241.5 510,241 511.5,241 513,241 514.5,242 516.5,242 518,242.5 519.5,242 521.5,241.5 523,242.5 524.5,241.5 526,242 528,241.5 529.5,242 531,242.5 533,242 534.5,243 536,242.5 537.5,241.5 539,241.5 541,241 542.5,241.5 544,242 545.5,241 547.5,241 549,241.5 550.5,240.5 552,241 553.5,241 555.5,240.5 557,240.5 558.5,239.5 560,240 562,240 563.5,239 565,239 566.5,238.5 568.5,238.5 570,238.5 571.5,239 573,238.5 574.5,238.5 576.5,238.5 578,238.5 579.5,239 581,239.5 582.5,239 584,239.5 585.5,240 587.5,240.5 589,239.5 590.5,240 592,240.5 593.5,240 595,240.5 597,241 598.5,240 600,240.5 601.5,240 603,240.5 605,241 606.5,240.5 608,240 609.5,240 611,240.5 613,241 614.5,240.5 616,240.5 617.5,241 619,240 621,241 622.5,240.5 624,240 625.5,241 627,240 629,240 630.5,240 631,239 632,237 632.5,235.5 633.5,234 634,233 635.5,231 637,230 638.5,229 640,226.5 641.5,227 643.5,227.5 645,228 646.5,227.5 648.5,228.5 650,229 651.5,229 653.5,229 655,228 656,226 657.5,224 659,223 660.5,223 662,223 663.5,223 665.5,223 667,222 668.5,222.5 670,223 671.5,222 673,222 675,222.5 676.5,222 678,222 679.5,222 681,222 682.5,222 684,222.5 686,223 687.5,222.5 689,222 690.5,222.5 692,222.5 693.5,222.5 695,222.5 696.5,223 698,222.5 700,222.5 701.5,223.5 703,223.5 704.5,222 706,221 708,221 709.5,220.5 711,218.5 713,218.5 714.5,217 716,217.5 717.5,217.5 719,217 720.5,217.5 722,217.5 723.5,217 725,217.5 726.5,218 728,218 729.5,217.5 731,216 733,214 734.5,212.5 736,212 737.5,209.5 739,210 740.5,209.5 742.5,208.5 744,208 745.5,207 747.5,207 749,207 750.5,206.5 752,207.5 754,207 755.5,208 757,208.5 758.5,208.5 760,208 761.5,208.5 763,208.5 765,208.5 766.5,210 768,209.5 769.5,210 771,209 772.5,209 774,209.5 775.5,209.5 777,208 778.5,208.5 780,208 781.5,207 783,206.5 785,205 786.5,203.5 788,203.5 789.5,201.5 791,199.5 793,199.5 794.5,197 796,197.5 798,196 799.5,195 801,193 802.5,192 804.5,192 806,191 807.5,191 809.5,190 811,189.5 812.5,188.5 814,188.5 816,188.5 817.5,186.5 819,186 821,184.5 822.5,184.5 824,183 825.5,181.5 827,182.5 829,182.5 830.5,181.5 832,182 833.5,182 835,182.5 836.5,183 838,183 839.5,182.5 841,182 842.5,183 844,183 846,182.5 847.5,183.5 849,184 850.5,183 852,183 854,184 855.5,183 857,183.5 858.5,183.5 860,184.5 862,183.5 863.5,183.5 865,184.5 866.5,185 868,185 870,184.5 871.5,185.5 873,184.5"/><polyline points="493,299.5 494.5,298.5 496.5,298 498,296.5 500,295.5 501.5,297 503.5,296 505,296.5 506.5,297 508,296 510,296.5 511.5,297 513,296 514.5,296 516.5,297 518,297 519.5,296.5 521.5,297 523,297.5 524.5,298 526,297.5 528,297 529.5,298 531,297.5 533,298.5 534.5,297.5 536,298.5 537.5,298 539,297.5 541,297.5 542.5,297.5 544,297.5 545.5,297 547.5,297.5 549,296.5 550.5,296.5 552,297 553.5,296.5 555.5,297 557,296.5 558.5,296 560,296.5 562,296 563.5,296 565,296 566.5,296 568.5,295 570,296 571.5,295.5 573,295 574.5,295 576.5,296 578,296 579.5,295.5 581,295 583,296 584.5,295 586,295 587.5,296 589.5,296 591,295.5 592.5,296 594.5,295.5 596,296 597.5,296 599,296 601,296 602.5,296.5 604,296.5 605.5,297.5 607.5,297"/><polyline points="626.5,297.5 628,297 630,296 631.5,294.5 633,293 634.5,292.5 636.5,292 638,291 639.5,290.5 641,290 643,289.5 644.5,289.5 646,289 647.5,290 649,289.5 651,288.5 652.5,288.5 654,288.5 655.5,289 657,288 659,287 660.5,287 662,286.5 663.5,286.5 665,286 666.5,285.5 668.5,286.5 670,286 671.5,285 673,285.5 675,285.5 676.5,285 678,286 679.5,286 681.5,285.5 683,286.5 684.5,286 686,285.5 688,286 689.5,286 691,286 692.5,286.5 694.5,286.5 696,285.5 697.5,286 699.5,285.5 701,286 703,286 704.5,285.5 706,285.5 708,284 709.5,283.5 711,283.5 713,282.5 714.5,282 716,282 717.5,281 719,281 720.5,281 722,280.5 723.5,281 725,281 726.5,281 728,280.5 729.5,279.5 731.5,279 733,279 734.5,278.5 736.5,277.5 738,276.5 739.5,275.5 741.5,274.5 743,274.5 744.5,275.5 746,275 747.5,276 749.5,274.5 751,276 752.5,275.5 754,275 755.5,276 757.5,276 759,276 760.5,276.5 762,276.5 763.5,276.5 765,276 767,277 768.5,276.5 770,276 771.5,277.5 773,276.5 775,276.5 776.5,277 778,277.5 779.5,276.5 781.5,275.5 783,275.5 784.5,274.5 786,274 788,272.5 789.5,272.5 791,271.5 793,271 794.5,270 796,269 798,268 799.5,267.5 801,266 802.5,265.5 804.5,265.5 806,264.5 807.5,263 809.5,263 811,263.5 812.5,262.5 814,261 816,261 817.5,261 819,260.5 821,259.5 822.5,258 824,258 825.5,257 827,257.5 829,257.5 830.5,258.5 832,258.5 833.5,258 835,259 836.5,258 838,258 839.5,259 841,259 842.5,258.5 844,259.5 846,259 847.5,259.5 849,259 850.5,259.5 852,259 854,259 855.5,259.5 857,259.5 858.5,259.5 860,259 862,259.5 863.5,260.5 865,260.5 866.5,260.5 868,259.5 870,259.5 871.5,260 873,261"/><polyline points="111,460.5 111.5,459 112,457.5 112.5,456.5 113,454.5 113.5,453.5 114,451 114.5,449.5 115,449 115.5,446.5 117,447 118.5,446 120,445 121.5,444.5 123.5,445.5 125,444.5 126.5,446 128,445 130,445 131.5,446 133,445.5 135,446.5 136.5,446 138,445.5 139.5,446 141.5,446.5 143,447 144.5,446.5 146,446.5 148,447 149.5,447.5 151,447.5 152.5,447 154.5,447.5 156,448 157.5,448.5 159.5,446.5 161,446.5 162.5,444.5 164.5,445 166,444 167.5,443 169.5,442 171,440.5 172.5,440.5 174,439.5 176,438.5 177.5,437.5 179,436 180.5,436 182,434.5 184,434 185.5,432.5 187,432 188.5,431 190,431 192,429 193.5,428.5 195,428 197,427.5 198.5,427.5 200,425.5 201.5,425 203,423.5 205,423 206.5,422 208,421 209.5,421.5 211,421 212.5,420.5 214,421 215.5,420 217.5,421 219,420 220.5,420.5 222,419.5 223.5,420.5 225,419 226.5,418.5 228,418.5 230,419.5 231.5,418.5 233,418.5 234.5,418.5 236,417.5 237.5,418 239.5,418 241,417.5 242.5,418 244,417.5 245.5,417 247.5,417.5 249,417.5 250.5,416.5 252,416 253.5,417 255,416 257,416 258.5,416 260,416.5 261,414 262.5,413 264,410.5 265,408.5 266.5,409 268,409 270,408.5 271.5,408 273,407.5 274.5,408 276.5,407.5 278,407 279.5,407 281,406.5 283,406.5 284.5,406 286,406 287.5,405 289.5,404.5 291,404.5 292.5,404.5 294.5,403.5 296,403 297.5,404 299,404.5 301,404.5 302.5,405 304,405.5 305.5,405 307,405.5 309,406 310.5,405 312,404.5 313.5,403.5 315,402 316.5,402 318,400.5 319.5,399.5 321.5,398 323,398 324.5,396 326,395.5 327.5,395.5 329,395.5 331,395.5 332.5,396 334,394.5 335.5,395 337,394.5 339,395 340.5,394.5 342,395 343.5,394.5 345.5,394.5 347,393.5 348.5,394 350,394 351.5,394 353.5,393.5 355,392.5 356.5,391 358,391.5 359.5,390.5 361.5,390.5 363,389 364.5,389 366,389.5 367.5,389 369.5,389.5 371,389.5 372.5,390.5 374,390.5 376,390.5 377.5,390.5 379,391.5 380.5,390.5 382,391.5 384,391 385,390 386,388 387,386 388,385.5 389.5,384.5 391,385 392.5,384.5 394.5,384 396,384 397.5,384 399,382.5 400.5,383.5 402,382 403.5,381.5 405.5,382.5 407,381 408.5,381 410,381.5 411.5,380.5 413,380.5 415,380 416.5,379.5 418,378 419.5,378 421,378 422.5,376.5 424,377 426,376.5 427.5,375 429,375 430.5,374.5 432,373 433.5,373 435.5,373 437,372 438.5,370.5 440,370.5 441.5,370 443,370 444.5,370 446.5,369.5 448,369.5 449.5,369.5 451,370 452.5,370 454,370.5 455.5,369.5 457,370 458.5,370.5 460.5,370 462,368.5 463.5,368.5 465.5,367 467,367.5 468.5,366 470.5,366 472,365.5 473.5,365 474,363 474,361.5 474.5,359.5 475,358.5 475,356.5 475.5,355.5 475.5,353.5 476,352 477.5,353.5 479.5,353 481,354 482.5,354.5 484.5,355 486,355 487.5,354.5 489.5,355 491,354.5 492.5,355 494,355.5 496,355.5 497.5,355.5 499,354.5 501,354.5 502.5,354.5"/><polyline points="111,552 112,550 112.5,548.5 113.5,548.5 114.5,546 115.5,544 117,544.5 118.5,545 120,544.5 121.5,544 123.5,544.5 125,544 126.5,545 128,545.5 129.5,544 131.5,545 133,545 134.5,545 136,544 138,544 139.5,544.5 141,544 142.5,545 144,544.5 146,544.5 147.5,545 149,544.5 150.5,544.5 152,544.5 154,544 155.5,545 157,545 158.5,544.5 160,544.5 162,544 163.5,544 165,543 167,543 168.5,542 170,541.5 172,540.5 173.5,540.5 175,539 176.5,539 178.5,538.5 180,537.5 181.5,536.5 183.5,537 185,536.5 186.5,536.5 188,535.5 189.5,535.5 191.5,535.5 193,535.5 194.5,534.5 196,535 198,535 199.5,533.5 201,534 202.5,533.5 204,532.5 206,532.5 207.5,532.5 209,532 210.5,532.5 212,532 214,531.5 215.5,532 217,531.5 218.5,531 220,530.5 222,530.5 223.5,530 225,530.5 226.5,529 228,528.5 230,528.5 231.5,528 233,528 234.5,529 236,528 238,528 239.5,528 241,527.5 242.5,527.5 244,526.5 246,526.5 247.5,526.5 249,526.5 250.5,526 252.5,526 254,525.5 255.5,525 257,525.5 258.5,525.5 260.5,525.5 262,524.5 263.5,523 265,523 266.5,523.5 268,523 269.5,522 271,522.5 273,522 274.5,520.5 276,521.5 277.5,520.5 279,520.5 280.5,520 282,520 283.5,520 285,519.5 286.5,518.5 288.5,518.5 290,519 291.5,517.5 293,517.5 294.5,517 296,517 297.5,517 299,516.5 301,517 302.5,517.5 304,517.5 305.5,518 307,517.5 309,517.5 310.5,518 312,517.5 313.5,517 315,516.5 316.5,517.5 318.5,516 320,516 321.5,516 323,516.5 324.5,515 326,514.5 327.5,515.5 329.5,515.5 331,514.5 332.5,515 334,514 335.5,514.5 337,513 339,513.5 340.5,514 342,513 343.5,513.5 345,513 347,512.5 348.5,512 350,512.5 351.5,512 353.5,512 355,511.5 356.5,511 358,511 359.5,511.5 361.5,511 363,511 364.5,511 366,510.5 367.5,510.5 369.5,510.5 371,511 372.5,510 374,510 376,510.5 377.5,509.5 379,510 380.5,509.5 382,509 384,509.5 385,508 386.5,506.5 388,504.5 389.5,504 391.5,505 393,505 394.5,503.5 396,503.5 398,503.5 399.5,503.5 401,503.5 403,503 404.5,502.5 406,502.5 407.5,501 409.5,501.5 411,501.5 412.5,501 414.5,500.5 416,500.5 417.5,500.5 419,499.5 420.5,500 422.5,500 424,499 425.5,498.5 427,498.5 429,498.5 430.5,499 432,498 433.5,498 435,497 437,496.5 438.5,497 440,496 441.5,496 443,496.5 445,495.5 446.5,496 448,495 449.5,495 451,495.5 452.5,495 454,494.5 456,494.5 457.5,494 459,493.5 460.5,494 462,493.5 463.5,493.5 465.5,493 467,493 468.5,493 470,492.5 471,491 472,489.5 473.5,487.5 474.5,486 475.5,484.5 477,485.5 479,485 480.5,485 482,486 483.5,486 485,486 486.5,486.5 488.5,486 490,485.5 491.5,486.5 493,486 494.5,487 496,486 498,487 499.5,485.5 501,486 502.5,485.5 504,485 505.5,486 507.5,485.5 509,484.5 510.5,485 512,485 513.5,484 515,483.5 517,484 518.5,483 520,483 521.5,482.5 523,481.5 524.5,481.5 526.5,481 528,480.5 529.5,479.5 531,479.5 532.5,478.5 534,479 536,479 537.5,478.5 539,479.5 540.5,479 542,478 543.5,479 545,479 547,479 548.5,478.5 550,478.5 551.5,478.5 553,477.5 555,477.5 556.5,477 558,476.5 559.5,477 561,476 563,475.5 563.5,474 564,472.5 564.5,471 565,470.5 565.5,468.5 567,468.5 569,469.5 570.5,470.5 572.5,470.5 574,470.5 575.5,471 577.5,471.5 579,472 580.5,472.5 582,472.5 584,472.5 585.5,472.5 587,472 588.5,473.5 590,473.5 592,473 593.5,473.5 595,474 596.5,473.5 598,474 599.5,474.5 601,473.5 602.5,473.5 604,475 606,475 607.5,474 609,474.5 610.5,474 612,474 614,473.5 615.5,473 617,473 618.5,472.5 620.5,471.5 622,470.5 623.5,470 625,470 626.5,468.5 628,468 630,468 631.5,465.5 633,465.5 635,465 636.5,465.5 638.5,464.5 640,463 641.5,463 643,463.5 644.5,464.5 646,464 647.5,464.5 649,464.5 651,465 652.5,464.5 653,462.5 653.5,461 654.5,460 655,458.5 656,456 656.5,455 658.5,455.5 660,455 661.5,454.5 663.5,455 665,455 666.5,455 668.5,456 670,455.5 671.5,456 673,456 674.5,456 676,456 677.5,456.5 679.5,458 681,458.5 682.5,458.5 684,459.5 686,460.5 687.5,461 689,462 691,462.5 692.5,462.5 694,463 695.5,462.5 697.5,463.5 699,463.5 700.5,463 702,463.5 703.5,464.5 705.5,464 707,464.5 708.5,464.5 709,463.5 709.5,461 710,459 711,457.5 712.5,458 714,456.5 715.5,457 717,456.5 718.5,456 720,455.5 721.5,455 723,453.5 725,453.5 726.5,453 728,452 729.5,451.5 731.5,450.5 733,450.5 734.5,450.5 736,450.5 737.5,451 739.5,451 741,450.5 742.5,450 744,450.5 746,451 747.5,450 749,450 750.5,449.5 752.5,450.5 754,449.5 755.5,450.5 757,450 758.5,450 760,449 761.5,448 763,446.5 765,446.5 766.5,445 768,444 769.5,443.5 771,443 772.5,443 774,442.5 775.5,443 777,442.5 778.5,441.5 780,441.5 781.5,440 783,441 784.5,441.5 786,440.5 787.5,440.5 789,441 791,441 792.5,441.5 794,440.5 795.5,440.5 797,440 798.5,440.5 800,440 801.5,440 803,438 804.5,437.5 806,437 807.5,436 809.5,436.5 811,437 812.5,435.5 814,435.5 816,435 817.5,435.5 819,435 821,435 822.5,433.5 824,433.5 825.5,432.5 827.5,432.5 829,433.5 830.5,432.5 832.5,432 833.5,430 834.5,429.5 835.5,426.5 836.5,426 838,426 840,426.5 841.5,426.5 843,426.5 844.5,426.5 846,426.5 848,427.5 849.5,426.5 851,427 852.5,428 854.5,428 856,428 857.5,427 859,427.5 860.5,427.5 862.5,426.5 864,426.5 865.5,426 867,426 868.5,425"/><polyline points="193.5,596.5 195,597.5 197,597 198.5,596.5 200,596.5 201.5,596 203.5,595.5 205,595.5 206.5,596.5 208,596.5 210,596.5 211.5,596.5 213,595 214.5,595 216.5,595.5 218,595 219.5,595.5 221,595 223,595 224.5,594.5 226,594.5 228,594.5 229.5,594 231,595 232.5,594.5 234.5,594.5 236,594.5 237.5,594 239,594 241,593.5 242.5,593 244,592.5 245.5,593 247.5,593 249,593 250.5,593 252,592.5 254,591.5 255.5,591.5 257,592.5 258.5,592.5 260.5,591.5 262,590.5 263.5,590.5 265,590 266.5,591 268,590 269.5,589.5 271,590 273,588.5 274.5,589 276,588.5 277.5,588 279,587.5 280.5,588 282,587 283.5,587.5 285,587.5 286.5,587 288.5,588 290,587 291.5,587.5 293,587 294.5,586 296,586 297.5,587 299,586.5 301,587 302.5,587.5 304,587 305.5,587.5 307,587 309,587 310.5,586.5 312,587 313.5,586.5 315,587 316.5,586.5 318.5,587 320,586 321.5,585.5 323,586 324.5,585.5 326,586 327.5,585 329.5,585 331,585.5 332.5,584.5 334,585 335.5,584 337,583.5 339,584 340.5,584 342,583.5 343.5,583.5 345,583.5 347,584 348.5,583 350,583.5 351.5,584 353.5,582.5 355,583.5 356.5,583 358,583 359.5,583 361.5,583 363,583 364.5,583.5 366,583.5 367.5,583.5 369.5,583.5 371,582.5 372.5,583 374,583 376,582 377.5,582.5 379,582.5 380.5,581.5 382,582.5 384,582.5 385,581 386.5,579.5 388,579.5 389.5,578.5 391,579 393,578 394.5,578.5 396,577.5 397.5,578 399,578 400.5,577.5 402.5,578 404,577.5 405.5,576.5 407,576.5 408.5,576.5 410,576.5 412,577.5 413.5,576.5 415,577 416.5,576.5 418,576.5 419.5,576 421.5,575.5 423,576 424.5,575.5 426,576 428,574.5 429.5,574.5 431,574.5 432.5,575.5 434,574.5 436,575 437.5,575 439,574.5 441,574.5 442.5,575 444,574.5 445.5,574 447,574.5 449,573.5 450.5,574.5 452,573.5 454,574.5 455.5,573 457,573.5 458.5,573 460,573.5 462,573.5 463.5,573.5 465,573 467,573.5 468.5,573 470,573 471.5,571.5 473,569.5 474,569 475.5,568 477,568 479,568 480.5,567 482,567.5 483.5,566.5 485,567.5 486.5,567.5 488.5,567 490,568 491.5,567 493,567 494.5,567 496,567.5 498,567 499.5,567 501,566.5 502.5,567 504,566 505.5,566.5 507.5,565.5 509,566 510.5,565.5 512,566 513.5,566.5 515,565.5 517,565 518.5,565.5 520,565 521.5,565 523,565 524.5,564.5 526.5,565.5 528,565 529.5,565 531,564 532.5,565 534,564 536,564 537.5,563.5 539,563.5 540.5,563 542,563 543.5,562.5 545.5,563 547,563 548.5,562 550,563 551.5,561.5 553.5,562 555,562.5 556.5,562 558,561 559.5,561 561,560.5 563,560.5 563.5,559.5 564.5,558.5 565.5,556 567,557 568.5,556 570.5,557.5 572,556.5 573.5,556.5 575,556.5 577,556.5 578.5,557 580,558 581.5,558 583,557.5 585,558 586.5,558 588,557.5 589.5,559 591.5,558 593,558.5 594.5,558.5 596,559 597.5,559.5 599.5,559.5 601,559 602.5,559.5 604,559.5 606,559.5 607.5,560 609,559.5 610.5,560 612,559 613.5,558.5 615,559.5 617,558 618.5,558.5 620,558.5 621.5,558 623,558 624.5,556.5 626,556.5 627.5,556.5 629,555.5 631,556.5 632.5,555.5 634,555 635.5,554.5 637,554 638.5,553.5 640,553 641.5,553 643,553 644.5,554 646,553.5 647.5,554.5 649,553.5 651,554 652.5,554.5 653.5,552.5 655,550.5 656.5,549.5 658,549 660,548.5 661.5,549.5 663,549.5 664.5,549.5 666.5,548.5 668,549 669.5,548.5 671,548.5 673,549.5 674.5,549 676,548.5 677.5,549.5 679,549.5 680.5,550 682.5,549.5 684,550.5 685.5,550.5 687,550.5 688.5,550.5 690,552 692,552 693.5,552 695,552 696.5,552.5 698,552.5 699.5,552.5 701.5,553.5 703,554 704.5,554.5 706,554.5 707.5,553 709,552.5 711,551.5 712.5,551 714,551 715.5,550 717,549 719,549 720.5,549.5 722,549 723.5,548 725,548 726.5,547.5 728.5,548 730,548.5 731.5,547.5 733,548 734.5,547.5 736.5,547.5 738,547.5 739.5,546.5 741,546.5 742.5,547 744,546 746,545.5 747.5,546 749,546 750.5,545.5 752,545.5 754,546 755.5,545 757,545 758.5,545.5 760,545.5 761.5,545 763.5,545 765,544 766.5,544 768,544.5 769.5,544.5 771.5,543 773,544 774.5,543 776,543 777.5,543.5 779.5,543 781,542 782.5,542 784,543 786,542 787.5,542 789,541.5 790.5,541.5 792,541 794,540.5 795.5,540.5 797,541 798.5,540.5 800,540.5 802,540 803.5,539.5 805,540 806.5,539.5 808,539.5 810,538 811.5,538 813,538 814.5,537 816,537 818,537 819.5,536.5 821,536.5 822.5,535 824.5,534.5 826,535 827.5,534.5 829,534 830.5,533 832.5,533 833.5,533 835,531.5 836.5,531 838,530 840,531 841.5,530.5 843,531.5 844.5,530.5 846,530.5 848,531.5 849.5,531 851,531 852.5,531 854.5,531 856,531 857.5,531 859,531.5 860.5,531 862.5,531.5 864,531 865.5,532 867,532 868.5,532.5"/><polyline points="755,602.5 757,601.5 758.5,602 760,602 761.5,602 763,601 765,601 766.5,601.5 768,601.5 769.5,601 771.5,601 773,601 774.5,601.5 776,601 777.5,601.5 779.5,601.5 781,600.5 782.5,601.5 784,600 785.5,600.5 787.5,600 789,600.5 790.5,600 792,600.5 794,601 795.5,600 797,600 798.5,600.5 800,599.5 802,600 803.5,600 805,599.5 806.5,599 808,599 809.5,598.5 811.5,599 813,599 814.5,599 816,598 817.5,597.5 819,598.5 821,597 822.5,597 824,597 825.5,597 827,597.5 828.5,597.5 830.5,597 832,596 833.5,597 835,595.5 836.5,595.5 838,595.5 840,596.5 841.5,596 843,596.5 844.5,596 846,595.5 848,596 849.5,595 851,595 852.5,596 854.5,595.5 856,595 857.5,595.5 859,595.5 860.5,595.5 862.5,595 864,595 865.5,594.5 867,595 868.5,595.5"/></g><g fill="none" stroke="#262626" stroke-width="1" shape-rendering="crispEdges"><path d="M96.5,10V640.5M873.5,18V640.5M88,18.5H882M88,329.5H882M96,640.5H874M178.5,10V18M178.5,330V337M178.5,640V648M261.5,10V18M261.5,330V337M261.5,640V648M344.5,10V18M344.5,330V337M344.5,640V648M427.5,10V18M427.5,330V337M427.5,640V648M509.5,10V18M509.5,330V337M509.5,640V648M592.5,10V18M592.5,330V337M592.5,640V648M675.5,10V18M675.5,330V337M675.5,640V648M758.5,10V18M758.5,330V337M758.5,640V648M840.5,10V18M840.5,330V337M840.5,640V648M96.5,640V648M88,18.5H96M874,18.5H882M88,87.5H96M874,87.5H882M88,156.5H96M874,156.5H882M88,225.5H96M874,225.5H882M88,294.5H96M874,294.5H882M88,329.5H96M874,329.5H882M88,398.5H96M874,398.5H882M88,467.5H96M874,467.5H882M88,536.5H96M874,536.5H882M88,605.5H96M874,605.5H882M926.5,18.5H978.5V640.5H926.5ZM926,18.5H933M972,18.5H979M926,122.5H933M972,122.5H979M926,225.5H933M972,225.5H979M926,329.5H933M972,329.5H979M926,433.5H933M972,433.5H979M926,536.5H933M972,536.5H979M926,640.5H933M972,640.5H979"/></g></svg>
<div class="t yl" style="left:23.0px;top:9.0px;">1000</div><div class="t yl" style="left:23.0px;top:78.0px;">800</div><div class="t yl" style="left:23.0px;top:147.0px;">600</div><div class="t yl" style="left:23.0px;top:216.0px;">400</div><div class="t yl" style="left:23.0px;top:285.0px;">200</div><div class="t yl" style="left:23.0px;top:320.0px;">1000</div><div class="t yl" style="left:23.0px;top:389.0px;">800</div><div class="t yl" style="left:23.0px;top:458.0px;">600</div><div class="t yl" style="left:23.0px;top:527.0px;">400</div><div class="t yl" style="left:23.0px;top:596.0px;">200</div><div class="t xl" style="left:76.5px;top:654.0px;">0</div><div class="t xl" style="left:159.2px;top:654.0px;">1</div><div class="t xl" style="left:242.0px;top:654.0px;">2</div><div class="t xl" style="left:324.8px;top:654.0px;">3</div><div class="t xl" style="left:407.5px;top:654.0px;">4</div><div class="t xl" style="left:490.2px;top:654.0px;">5</div><div class="t xl" style="left:573.0px;top:654.0px;">6</div><div class="t xl" style="left:655.8px;top:654.0px;">7</div><div class="t xl" style="left:738.5px;top:654.0px;">8</div><div class="t xl" style="left:821.2px;top:654.0px;">9</div><div class="t " style="left:983.0px;top:9.0px;">1.5</div><div class="t " style="left:983.0px;top:112.7px;">1</div><div class="t " style="left:983.0px;top:216.3px;">0.5</div><div class="t " style="left:983.0px;top:320.0px;">0</div><div class="t " style="left:983.0px;top:423.7px;">-0.5</div><div class="t " style="left:983.0px;top:527.3px;">-1</div><div class="t " style="left:983.0px;top:631.0px;">-1.5</div><div class="t " style="left:99.0px;top:23.0px;">(a)</div><div class="t " style="left:785.5px;top:23.0px;">Noordwijk</div><div class="t " style="left:99.0px;top:334.0px;">(b)</div><div class="t " style="left:797.5px;top:334.0px;">Egmond</div><div class="t " style="left:431.0px;top:677.0px;">Time (years)</div><div class="t" style="left:23.5px;top:173px;transform:translate(-50%,-50%) rotate(-90deg)">Distance (m)</div><div class="t" style="left:23.5px;top:484.5px;transform:translate(-50%,-50%) rotate(-90deg)">Distance (m)</div><div class="t" style="left:909px;top:329px;transform:translate(-50%,-50%) rotate(-90deg)">Deviation from mean (m)</div>
</body></html>
